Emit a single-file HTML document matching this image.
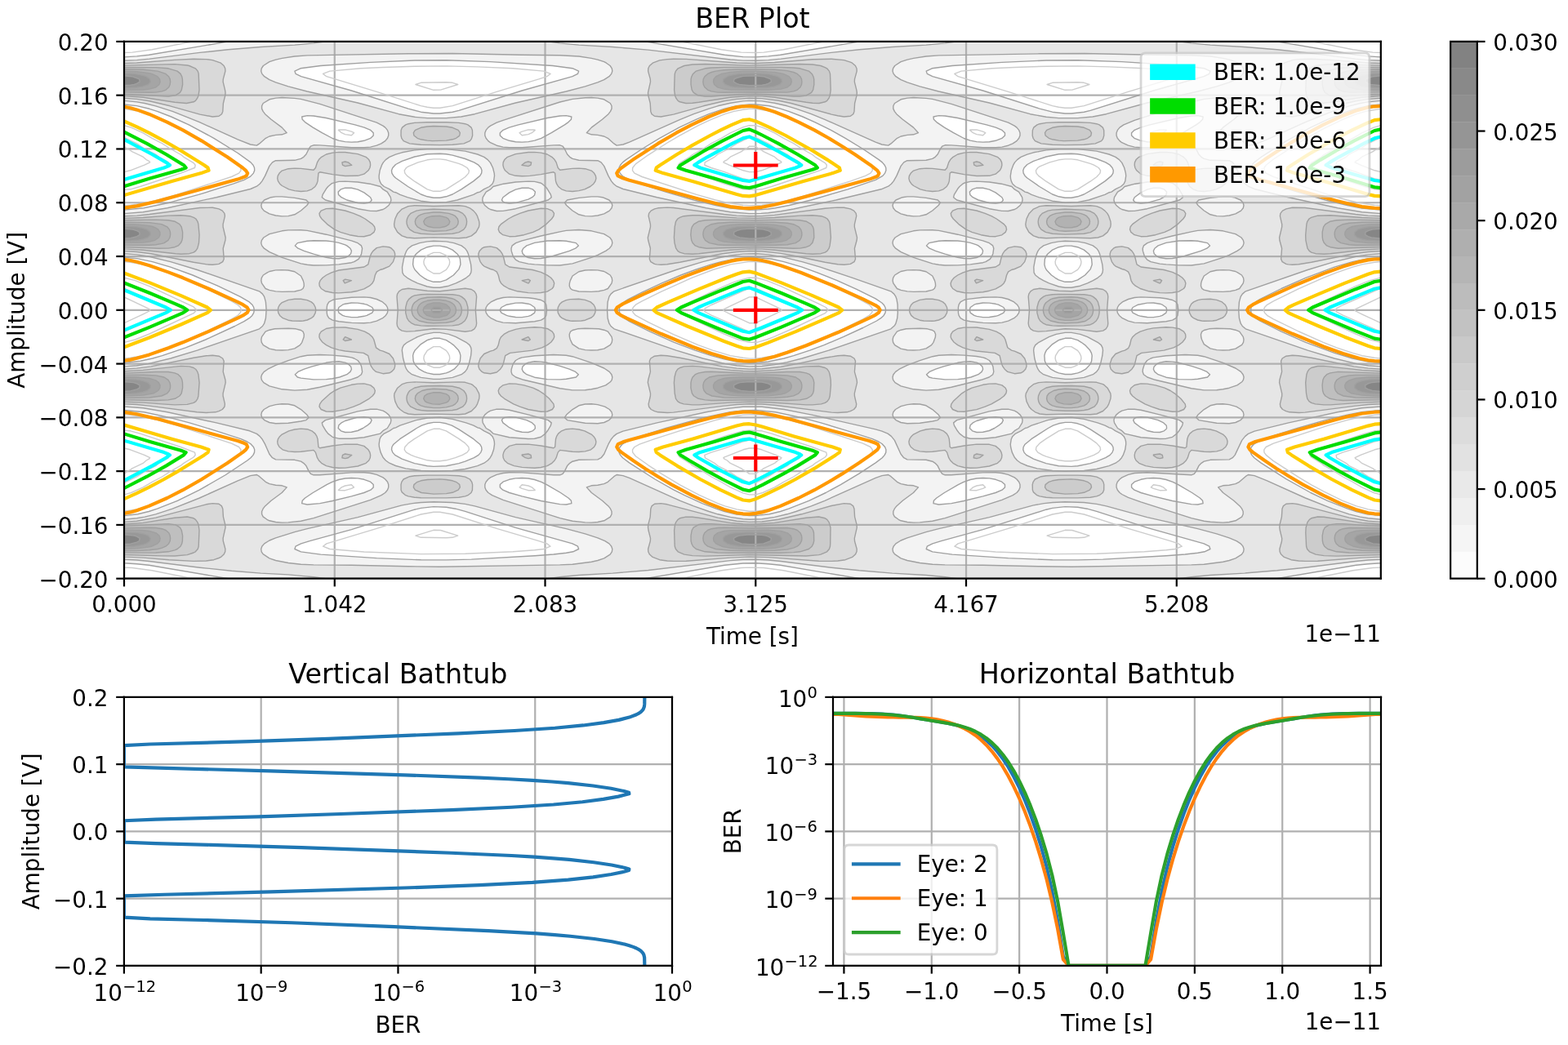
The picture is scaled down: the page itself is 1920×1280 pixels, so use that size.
<!DOCTYPE html>
<html><head><meta charset="utf-8"><title>BER Plot</title><style>html,body{margin:0;padding:0;background:#fff;overflow:hidden}svg{display:block}</style></head><body>

<svg  width="1920" height="1280" viewBox="0 0 691.2 460.8"  version="1.1">
<defs>
<style type="text/css">*{stroke-linejoin: round; stroke-linecap: butt}</style>
</defs>
<g id="figure_1">
<g id="patch_1">
<path d="M 0 460.8 L 691.2 460.8 L 691.2 0 L 0 0 z" style="fill: #ffffff"/>
</g>
<g id="axes_1">
<g id="patch_2">
<path d="M 54.72 255.13 L 608.69 255.13 L 608.69 18.32 L 54.72 18.32 z" style="fill: #ffffff"/>
</g>
<clipPath id="axc"><rect x="152.0" y="50.9" width="1538.8" height="657.8"/></clipPath>
<g transform="scale(.36)" clip-path="url(#axc)">
<rect x="152.0" y="50.9" width="1538.8" height="657.8" fill="#ffffff"/>
<g fill="#f3f3f3"><path id="f1" d="M259.6 705.4l19.9 3.3 510.5 0 97.3-16.4 22.5-2.3 15.5-.3 15.4 1 14.8 1.6 97.3 16.4 510.5 0 97.2-16.4 14.8-1.6 15.5-1 0-58.1-16.7-1.8-13.5-3.3-10.3-3.3-24.8-9.9-20.6-9.8-30.1-16.8-30.9-19.8-8.1-6.2-3-3.3-1.5-3.3-.2-3.3 1.3-3.3 2.8-3.3 8.7-5 13.3-4.8 31.4-9.9 34.3-9.9 26.8-6.5 17.9-3.5 23.2-2.1 0-58.1-15.5-1.4-19.2-4-22.1-6.6-35.2-13.1-29.8-13.2-26.4-13.1-5.1-3.3-3.5-3.3-1.9-3.3-.6-3.3 .6-3.3 1.9-3.3 3.5-3.3 5.1-3.3 26.4-13.1 29.8-13.2 35.2-13.1 22.1-6.6 19.2-4 15.5-1.4 0-58.1-23.2-2.1-17.9-3.5-26.8-6.5-34.3-9.9-31.4-9.9-13.3-4.8-8.7-5-2.8-3.3-1.3-3.3 .2-3.3 1.5-3.3 3-3.3 8.1-6.2 30.9-19.8 30.1-16.8 20.6-9.8 24.8-9.9 10.3-3.3 13.5-3.3 16.7-1.8 0-58.1-15.5-1-14.8-1.6-97.2-16.4-510.5 0-97.3 16.4-14.8 1.6-15.4 1-15.5-.3-22.5-2.3-97.3-16.4-510.5 0-97.2 16.4-14.8 1.6-15.5 1 0 58.1 15.5 1.6 15.4 3.7 9.6 3.1 17.1 6.6 21.7 9.9 30.6 16.4 29.3 18.2 15.8 11.4 3 3.3 1.5 3.3 .2 3.3-1.3 3.3-3.7 4-7.8 4.3-13.3 4.8-42.4 13.2-36 9.8-31 6.6-24.2 2.3 0 58.1 15.5 1.4 19.2 4 22.1 6.6 27.1 9.8 30.7 13.2 27.5 13.2 11.2 6.5 3.5 3.3 1.9 3.3 .6 3.3-.6 3.3-1.9 3.3-3.5 3.3-6.4 4-11.4 5.8-35.7 16.5-24.4 9.8-28.8 9.9-11.9 3.3-14.9 3.3-19.8 2.1 0 58.1 24.2 2.3 31 6.6 24.7 6.5 33 9.9 30.1 9.9 7.5 3.3 4.2 2.5 3.7 4 1.3 3.3-.2 3.3-1.5 3.3-3 3.3-4.1 3.3-27.2 18-31.5 18.2-26.9 13.1-24.8 9.9-10.3 3.3-13.5 3.3-16.7 1.8 0 58.1 15.5 1 14.8 1.6zM515.4 685.8l-54.1-2.2-68.6-4.5-24.2-3.2-7.6-3.4 1.1-3.3 6.7-3.3 10.6-3.2 51.1-14.1 77.3-24.4 7.7-1.8 15.5-1.8 15.5 .7 11.3 1.9 11.9 3.2 61.8 19.9 69.5 19.6 6.6 3.3 1.1 3.3-7 3.3-8.3 1.5-15.5 1.7-23.2 1.7-77.3 4.4-30.9 .8zM902.1 630l-14.8-3.5-10.2-3.3-17.2-6.6-21.7-9.9-13.5-6.8-22.7-12.9-31.4-20.1-8.1-6.2-2.9-3.3-1.6-3.3-.1-3.3 1.3-3.3 2.7-3.3 8.7-5 13.4-4.8 31.3-9.9 47-13.1 32-6.8 15.5-1.7 15.5-.4 24.2 2.3 31 6.6 24.6 6.5 33 9.9 30.2 9.9 7.5 3.3 4.1 2.5 3.7 4 1.3 3.3-.1 3.3-1.6 3.3-2.9 3.3-8.1 6.2-20.7 13.5-22.1 13.2-18.2 9.9-20.7 9.8-24.8 9.9-10.2 3.3-13.5 3.3-16.7 1.8-7.8 0zM1288.7 685.8l-54.1-2.2-68.6-4.5-24.2-3.2-7.6-3.4 1.1-3.3 6.6-3.3 10.6-3.2 51.1-14.1 77.4-24.4 7.7-1.8 15.5-1.8 15.4 .7 11.4 1.9 11.8 3.2 61.9 19.9 69.4 19.6 6.7 3.3 1.1 3.3-7 3.3-8.3 1.5-15.5 1.7-23.2 1.7-77.3 4.4-31 .8zM368.5 463.1l-4.2-1.1-3-3.3 3.6-3.3 7.5-3.2 9.9-3.3 17.1-4.6 7.8-1.2 7.7-.3 7.7 1.3 3.4 1.5 3.6 3.3 .8 3.3-1.5 3.2-4.2 3.3-9 3.3-8.5 1.7-7.8 .9-15.4 .3zM376.2 618l-6.5-1.4 .5-3.3 3.3-3.3 9.7-6.5 16.9-9.9 6.6-3.3 8.2-2.8 7.7-1.5 7.8-.5 7.7 .4 7.7 1.4 7.8 2.9 3.6 3.4 0 3.3-3.4 3.3-8 3.3-15.4 4.4-23.2 5.6-15.5 3.1zM523.2 570.8l-15.5-3.2-15.5-5.4-8.6-4.8-2.8-3.3-1.3-3.3 .4-3.3 2-3.3 7.8-6.5 20.4-13.2 6.3-3.3 6.8-2.4 7.7-1.4 7.7 0 7.8 1.4 6.8 2.4 8.6 4.7 18 11.8 7.9 6.5 1.9 3.3 .4 3.3-1.2 3.3-2.9 3.3-5.4 3.3-10.9 4.4-7.8 2.5-15.4 3.2-15.5 .6zM685.6 617.6l-23.2-4.1-23.2-5.6-15.5-4.4-7.9-3.3-3.5-3.3 0-3.3 3.7-3.4 7.7-2.9 7.7-1.4 7.8-.4 7.7 .5 7.7 1.5 8.2 2.8 6.6 3.3 17 9.9 9.6 6.5 3.4 3.3 .4 3.3-6.5 1.4zM902.1 443l-15.5-3.1-15.6-4.2-19.8-6.6-25.7-9.8-29.7-13.2-25.2-12.4-7.7-5.1-2.2-2.2-1.9-3.3-.6-3.3 .6-3.3 1.9-3.3 3.5-3.3 5.1-3.3 16.8-8.5 24.1-11.2 23.5-9.9 17.5-6.5 19.8-6.6 11.9-3.3 19.2-4 15.4-1.4 7.8 0 19.8 2.1 14.8 3.3 22.2 6.6 18.5 6.6 24.5 9.8 23.9 10.8 23.2 11.5 7.7 5.1 2.2 2.2 1.9 3.3 .6 3.3-.6 3.3-1.9 3.3-3.5 3.3-5.1 3.3-16.8 8.5-24.1 11.2-23.5 9.9-17.5 6.5-19.8 6.6-11.9 3.3-19.2 4-15.4 1.4-7.8 0zM1141.8 463.1l-4.3-1.1-3-3.3 3.6-3.3 7.5-3.2 9.9-3.3 17.2-4.6 7.7-1.2 7.8-.3 7.7 1.3 3.3 1.5 3.6 3.3 .8 3.3-1.5 3.2-4.2 3.3-9 3.3-8.5 1.7-7.7 .9-15.5 .3zM1149.5 618l-6.5-1.4 .4-3.3 3.4-3.3 9.6-6.5 17-9.9 6.6-3.3 8.2-2.8 7.7-1.5 7.7-.5 7.8 .4 7.7 1.4 7.7 2.9 3.7 3.4 0 3.3-3.5 3.3-7.9 3.3-15.5 4.4-23.2 5.6-15.4 3.1zM1296.4 570.8l-15.4-3.2-15.5-5.4-8.6-4.8-2.9-3.3-1.2-3.3 .4-3.3 1.9-3.3 7.9-6.5 20.4-13.2 6.2-3.3 6.8-2.4 7.8-1.4 7.7 0 7.7 1.4 6.8 2.4 8.7 4.7 18 11.8 7.8 6.5 2 3.3 .4 3.3-1.3 3.3-2.8 3.3-5.4 3.3-11 4.4-7.7 2.5-15.5 3.2-7.7 .6zM1458.8 617.6l-23.2-4.1-23.2-5.6-15.4-4.4-8-3.3-3.4-3.3 0-3.3 3.6-3.4 7.8-2.9 7.7-1.4 7.7-.4 7.8 .5 7.7 1.5 8.2 2.8 6.6 3.3 16.9 9.9 9.7 6.5 3.3 3.3 .5 3.3-6.5 1.4zM399.4 315.3l-15.4-4.1-11.6-3.8-7.5-3.2-3.6-3.3 3-3.3 11.9-2.3 7.8-.6 15.4 .3 7.8 .9 7.7 1.5 7.7 2.5 2.1 1 4.2 3.3 1.5 3.2-.8 3.3-3.6 3.3-3.4 1.5-7.7 1.3-7.7-.3zM422.6 387.4l-3-1-4.7-3.3-.9-3.3 .9-3.3 4.7-3.3 3-1 7.8-1.2 7.7 .1 7.7 1.2 3.4 .9 6.5 3.3 1.8 3.3-1.8 3.3-6.5 3.3-3.4 .9-7.7 1.2-7.7 .1zM422.6 529.5l-5.1-1.7-3.3-3.3 .7-3.8 3.1-2.8 4.6-2.4 14.4-4.1 8.8-.8 5.6 .8 2.2 1 1.5 2.2-1.5 3.3-4 3.3-5.2 3.3-6.3 3-7.7 1.8zM523.2 456.9l-4-1.5-5.8-3.2-5.7-6.1-1.5-3.8-.6-6.6 .8-3.3 1.7-3.3 7.3-7.5 7.8-4.9 1.9-.7 5.8-1.7 7.7 0 7.8 2.4 4.3 2.6 4.6 3.3 6.2 6.5 1.6 3.3 .8 3.3-.5 6.6-1.6 3.8-5.7 6.1-5.8 3.2-3.9 1.5-7.8 1.6-7.7 0zM639.2 529.3l-7.8-1.8-7.7-3.8-7.8-5.8-1.5-3.3 1.6-2.2 2.1-1 5.6-.8 7.7 .5 13.4 3.5 6.8 3.3 3.4 3.3 .4 3.3-.8 1.2-2.5 2.1-5.2 1.7zM894.3 255l-17.9-3.5-26.8-6.5-34.3-9.9-37-11.8-7.7-2.9-7.7-4.3-3.7-4-1.3-3.3 .1-3.3 1.6-3.3 2.9-3.3 4.1-3.3 19.5-13.1 21.5-13.2 24-13.2 20.7-9.8 15.8-6.6 19.2-6.6 14.8-3.5 15.4-1.6 7.8 0 16.7 1.8 13.5 3.3 10.2 3.3 17.2 6.6 14.8 6.6 19.8 9.8 17.7 9.9 21.5 13.2 19.5 13.1 4.1 3.3 2.9 3.3 1.6 3.3 .1 3.3-1.3 3.3-2.7 3.3-8.7 5-34.1 11.4-44.9 13.2-26.8 6.5-16.9 3.3-8.8 1.2-15.4 1.1-7.8 0zM1172.7 315.3l-15.5-4.1-11.6-3.8-7.5-3.2-3.6-3.3 3-3.3 12-2.3 7.7-.6 15.5 .3 7.7 .9 7.8 1.5 7.7 2.5 2 1 4.2 3.3 1.5 3.2-.8 3.3-3.6 3.3-3.3 1.5-7.7 1.3-7.8-.3zM1195.9 387.4l-3-1-4.7-3.3-.9-3.3 .9-3.3 4.7-3.3 3-1 7.7-1.2 7.8 .1 7.7 1.2 3.3 .9 6.5 3.3 1.8 3.3-1.8 3.3-6.5 3.3-3.3 .9-7.7 1.2-7.8 .1zM1195.9 529.5l-5.2-1.7-3.3-3.3 .8-3.8 3-2.8 4.7-2.4 14.3-4.1 8.9-.8 5.6 .8 2.1 1 1.6 2.2-1.5 3.3-4 3.3-5.2 3.3-6.3 3-7.8 1.8zM1296.4 456.9l-3.9-1.5-5.8-3.2-5.7-6.1-1.6-3.8-.5-6.6 .8-3.3 1.6-3.3 7.4-7.5 7.7-4.9 2-.7 5.8-1.7 7.7 0 7.7 2.4 4.4 2.6 4.6 3.3 6.1 6.5 1.7 3.3 .8 3.3-.6 6.6-1.5 3.8-5.7 6.1-5.8 3.2-4 1.5-7.7 1.6-7.7 0zM1412.4 529.3l-7.7-1.8-7.7-3.8-7.8-5.8-1.5-3.3 1.5-2.2 2.2-1 5.6-.8 7.7 .5 13.4 3.5 6.7 3.3 3.5 3.3 .3 3.3-.7 1.2-2.6 2.1-5.1 1.7zM438.1 248.5l-13.4-3.5-6.7-3.3-3.5-3.3-.3-3.3 3.3-3.3 5.1-1.7 7.8 .2 7.7 1.8 7.7 3.8 7.8 5.8 1.5 3.3-1.5 2.2-2.2 1-5.6 .8zM530.9 345.3l-7.7-2.4-4.4-2.6-4.6-3.3-6.1-6.5-1.7-3.3-.8-3.3 .6-6.6 1.5-3.8 2.2-2.8 5.5-4.6 7.8-3.4 7.7-1.6 7.7 0 7.8 1.6 7.7 3.4 5.5 4.6 2.5 3.3 1.3 3.3 .5 6.6-2.1 6-6.5 7.1-8.9 5.9-7.8 2.4zM623.7 387.3l-3.3-.9-6.5-3.3-1.8-3.3 1.8-3.3 6.5-3.3 11-2.1 7.8-.1 7.7 1.2 3 1 4.7 3.3 .9 3.3-.9 3.3-4.7 3.3-3 1-7.7 1.2-7.8-.1zM654.6 462.2l-9.7-3.5-4.2-3.3-1.5-3.2 .8-3.3 3.6-3.3 3.3-1.5 7.7-1.3 7.8 .3 7.7 1.2 15.5 4.1 11.6 3.8 7.5 3.2 3.6 3.3-3 3.3-12 2.3-7.7 .6-15.5-.3zM1211.4 248.5l-13.4-3.5-6.8-3.3-3.4-3.3-.4-3.3 3.3-3.3 5.2-1.7 7.7 .2 7.8 1.8 7.7 3.8 7.8 5.8 1.5 3.3-1.6 2.2-2.1 1-5.6 .8zM1304.2 345.3l-7.8-2.4-4.3-2.6-4.6-3.3-6.2-6.5-1.6-3.3-.8-3.3 .5-6.6 1.6-3.8 2.2-2.8 5.5-4.6 7.7-3.4 7.8-1.6 7.7 0 7.7 1.6 7.8 3.4 5.5 4.6 2.5 3.3 1.2 3.3 .6 6.6-2.1 6-6.5 7.1-9 5.9-7.7 2.4zM1397 387.3l-3.4-.9-6.5-3.3-1.8-3.3 1.8-3.3 6.5-3.3 11.1-2.1 7.7-.1 7.8 1.2 3 1 4.7 3.3 .9 3.3-.9 3.3-4.7 3.3-3 1-7.8 1.2-7.7-.1zM1427.9 462.2l-9.8-3.5-4.2-3.3-1.5-3.2 .8-3.3 3.6-3.3 3.4-1.5 7.7-1.3 7.7 .3 7.8 1.2 15.4 4.1 11.6 3.8 7.5 3.2 3.6 3.3-3 3.3-11.9 2.3-7.8 .6-15.4-.3zM422.6 173.6l-7.7-1.5-7.7-2.6-12.9-6.8-11.1-6.6-9.7-6.5-3.3-3.3-.5-3.3 6.5-1.4 7.8 .4 15.4 2.5 35.3 8.4 11.3 3.2 7.8 3.3 3.4 3.3 0 3.3-3.6 3.4-7.8 2.9-7.7 1.4-7.7 .4zM530.9 242.2l-7.7-1.4-7.8-2.8-15.9-9.5-15-10.5-2.6-2.6-2-3.3-.4-3.3 1.3-3.3 3.7-4 7.7-4.1 15.5-5.4 15.5-3.2 15.4-.6 7.8 .6 7.7 1.3 15.5 4.4 10.9 4.4 5.4 3.3 2.9 3.3 1.2 3.3-.4 3.3-1.9 3.3-7.9 6.5-14.9 9.9-10.8 6.2-7.7 2.8-7.8 1.4zM623.7 249l-5.6-.8-2.1-1-1.6-2.2 1.5-3.3 7.8-5.8 7.7-3.8 7.8-1.8 7.7-.2 5.2 1.7 3.3 3.3-.8 3.8-3 2.8-4.7 2.4-14.3 4.1zM646.9 315.5l-3.3-1.5-3.6-3.3-.8-3.3 1.5-3.2 4.2-3.3 9.7-3.5 15.5-2.4 15.5-.3 7.7 .6 12 2.3 3 3.3-3.6 3.3-7.5 3.2-21.5 6.6-13.3 2.5-7.8 .3zM1195.9 173.6l-7.7-1.5-7.8-2.6-12.8-6.8-11.2-6.6-9.6-6.5-3.4-3.3-.4-3.3 6.5-1.4 7.7 .4 15.5 2.5 35.3 8.4 11.3 3.2 7.7 3.3 3.5 3.3 0 3.3-3.7 3.4-7.7 2.9-7.7 1.4-7.8 .4zM1304.2 242.2l-7.8-1.4-7.7-2.8-15.9-9.5-15-10.5-2.7-2.6-1.9-3.3-.4-3.3 1.2-3.3 3.8-4 7.7-4.1 15.5-5.4 15.4-3.2 15.5-.6 7.7 .6 7.8 1.3 15.4 4.4 11 4.4 5.4 3.3 2.8 3.3 1.3 3.3-.4 3.3-2 3.3-7.8 6.5-15 9.9-10.7 6.2-7.8 2.8-7.7 1.4zM1397 249l-5.6-.8-2.2-1-1.5-2.2 1.5-3.3 7.8-5.8 7.7-3.8 7.7-1.8 7.8-.2 5.1 1.7 3.3 3.3-.7 3.8-3.1 2.8-4.6 2.4-14.4 4.1zM1420.2 315.5l-3.4-1.5-3.6-3.3-.8-3.3 1.5-3.2 4.2-3.3 9.8-3.5 15.5-2.4 15.4-.3 7.8 .6 11.9 2.3 3 3.3-3.6 3.3-7.5 3.2-21.5 6.6-13.3 2.5-7.7 .3zM515.4 137.2l-15.5-4.1-69.5-22.1-61.7-17.3-6.7-3.3-1.1-3.3 7-3.3 24.8-3.3 60.9-4.1 54.1-2.4 38.7-.3 54.1 1.9 76.3 4.9 24.2 3.2 7.6 3.4-1.1 3.3-6.6 3.3-61.7 17.3-77.4 24.4-7.7 1.8-15.5 1.8-7.7 0zM631.4 173.7l-7.7-1.4-7.9-3-3.5-3.3 0-3.3 3.7-3.4 7.5-3.2 11.3-3.2 35.3-8.4 15.5-2.5 7.7-.4 6.5 1.4-.4 3.3-3.4 3.3-4.6 3.3-16.2 9.8-12.4 6.6-8.2 2.8-7.7 1.5-7.7 .5zM1288.7 137.2l-15.6-4.1-69.5-22.1-61.7-17.3-6.6-3.3-1.1-3.3 7-3.3 24.8-3.3 60.8-4.1 54.2-2.4 38.6-.3 54.2 1.9 76.3 4.9 24.2 3.2 7.6 3.4-1.1 3.3-6.7 3.3-61.7 17.3-77.3 24.4-7.7 1.8-15.5 1.8-7.7 0zM1404.7 173.7l-7.7-1.4-8-3-3.4-3.3 0-3.3 3.6-3.4 7.6-3.2 11.3-3.2 35.3-8.4 15.4-2.5 7.8-.4 6.5 1.4-.5 3.3-3.3 3.3-4.6 3.3-16.2 9.8-12.4 6.6-8.2 2.8-7.7 1.5-7.8 .5z"/></g>
<g fill="#e6e6e6"><path id="f2" d="M368.8 705.4l15.2 1.3 14.6 2 272.4 0 14.6-2 23.2-2.2 41.5-2.4 43.5-3.6 100.5-11.9 15.5-1.1 15.5-.2 15.4 .7 15.5 1.5 61.9 7.7 34.2 3.6 40.2 3.3 41.5 2.4 23.2 2.2 14.6 2 272.4 0 14.6-2 23.2-2.2 41.5-2.4 40.2-3.3 34.3-3.6 61.9-7.7 15.4-1.5 15.5-.7 0-49.1-15.5-1.5-9.7-1.6-13.4-3.3-20.6-6.6-33.1-13.2-46.9-21.2-15.5-6.2-7.7-1.1-3.3 2.2-7.6 6.6-4.6 2.3-7.7 1.6-7.7 .6-5.9 2.1 6 6.6 13.2 9.8 7.4 6.6 2.5 3.3 1.5 3.3 0 3.3-1.6 3.3-7.7 4.7-7.7 1.7-7.7 .6-15.5-.9-7.7-1-15.5-3.6-61.8-19.8-15.5-5.4-7.7-3.9-2.7-2-2.7-3.3-1.3-3.3 0-3.3 1.2-3.3 2.8-3.3 2.7-2.1 7.7-3.5 7.7-1.9 15.5-.8 54.1 3.1 3.6-1.4 2.3-3.3 3.2-6.5 3.1-3.3 3.3-2.1 7.7-1.9 23.2-.4 4.1-2.2 2.9-3.3 8.5-18 4-5 3.7-3 7.7-3.3 41.7-10.2 60.1-13.1 29.7-5 23.2-1.8 0-49.1-15.5-1.2-13.8-2.1-27.6-6.6-32.6-9.9-76.1-26.3-3.9-3.3-2.1-3.3-1.8-6.5-.7-9.9 .7-9.9 1.8-6.5 2.1-3.3 3.9-3.3 76.1-26.3 32.6-9.9 27.6-6.6 13.8-2.1 15.5-1.2 0-49.1-23.2-1.8-29.7-5-60.1-13.1-40.7-9.9-8.7-3.6-3.7-3-2.8-3.3-3.7-6.5-5.3-12-3.6-4.5-4.1-2.2-23.2-.4-7.7-1.9-3.3-2.1-3.1-3.3-3.2-6.5-2.3-3.3-3.6-1.4-7.7 .1-38.7 2.8-15.4 .1-7.8-.7-7.7-1.9-7.7-3.5-2.7-2.1-2.8-3.3-1.2-3.3 0-3.3 1.3-3.3 2.7-3.3 4.8-3.2 13.3-5.6 69.6-22.3 15.5-3.6 15.5-1.7 7.7-.2 7.7 .6 7.7 1.7 3 1.5 4.8 3.4 1.5 3.1 0 3.3-1.5 3.3-2.5 3.3-7.4 6.6-13.2 9.8-6 6.6 5.9 2.1 7.7 .6 7.7 1.6 4.6 2.3 7.6 6.6 3.3 2.2 7.7-1.1 15.5-6.2 46.9-21.2 33.1-13.2 20.6-6.6 13.4-3.3 9.7-1.6 15.5-1.5 0-49.1-15.5-.7-15.4-1.5-61.9-7.7-34.3-3.6-40.2-3.3-41.5-2.4-23.2-2.2-14.6-2-272.4 0-14.6 2-23.2 2.2-41.5 2.4-40.2 3.3-34.2 3.6-61.9 7.7-15.5 1.5-15.4 .7-15.5-.2-15.5-1.1-100.5-11.9-43.5-3.6-41.5-2.4-23.2-2.2-14.6-2-272.4 0-14.6 2-23.2 2.2-41.5 2.4-40.2 3.3-34.3 3.6-61.9 7.7-15.4 1.5-15.5 .7 0 49.1 15.5 1.5 9.7 1.6 13.4 3.3 20.6 6.6 33.1 13.2 46.9 21.2 15.5 6.2 7.7 1.1 3.3-2.2 7.6-6.6 4.6-2.3 7.7-1.6 7.7-.6 5.9-2.1-6-6.6-13.2-9.8-7.4-6.6-2.5-3.3-1.5-3.3 0-3.3 1.6-3.3 7.7-4.7 7.7-1.7 7.7-.6 15.5 .9 7.7 1 23.2 5.9 69.6 22.9 7.7 3.9 2.7 2 2.7 3.3 1.3 3.3 0 3.3-1.2 3.3-2.8 3.3-4.9 3.3-5.5 2.3-7.7 1.9-7.8 .7-15.4-.1-38.7-2.8-7.7-.1-3.6 1.4-2.3 3.3-3.2 6.5-3.1 3.3-3.3 2.1-7.7 1.9-23.2 .4-4.1 2.2-3.6 4.5-5.3 12-3.7 6.5-2.8 3.3-3.7 3-7.7 3.3-41.7 10.2-60.1 13.1-29.7 5-23.2 1.8 0 49.1 15.5 1.2 13.8 2.1 27.6 6.6 32.6 9.9 76.1 26.3 3.9 3.3 2.1 3.3 1.8 6.5 .7 9.9-.7 9.9-1.8 6.5-2.1 3.3-3.9 3.3-76.1 26.3-32.6 9.9-27.6 6.6-13.8 2.1-15.5 1.2 0 49.1 23.2 1.8 29.7 5 60.1 13.1 40.7 9.9 8.7 3.6 3.7 3 2.8 3.3 3.7 6.5 5.3 12 3.6 4.5 4.1 2.2 23.2 .4 7.7 1.9 3.3 2.1 3.1 3.3 3.2 6.5 2.3 3.3 3.6 1.4 7.7-.1 38.7-2.8 15.4-.1 7.8 .7 7.7 1.9 7.7 3.5 2.7 2.1 2.8 3.3 1.2 3.3 0 3.3-1.3 3.3-2.7 3.3-4.8 3.2-13.3 5.6-69.6 22.3-15.5 3.6-15.5 1.7-7.7 .2-7.7-.6-7.7-1.7-3-1.5-4.8-3.4-1.5-3.1 0-3.3 1.5-3.3 2.5-3.3 7.4-6.6 13.2-9.8 6-6.6-5.9-2.1-7.7-.6-7.7-1.6-4.6-2.3-7.6-6.6-3.3-2.2-7.7 1.1-15.5 6.2-46.9 21.2-33.1 13.2-20.6 6.6-13.4 3.3-9.7 1.6-15.5 1.5 0 49.1 15.5 .7 15.4 1.5 61.9 7.7 38.7 4 35.8 2.9 33.7 1.8zM430.4 692.3l-46.4-.4-15.5-.6-15.5-1.8-15.4-3-7.7-2.6-7.8-5.2-1.9-2.9-.5-3.3 1.1-3.3 2.9-3.3 6.2-3.9 7.7-3.2 23.2-7.2 15.4-4 61.9-14 54.1-14.7 12.7-2.3 10.5-1.1 15.5-.7 23.2 .7 15.5 1.9 11.7 2.5 50.1 13.7 61.9 14 23.2 6.2 15.4 5 8.9 3.9 5.1 3.2 1.5 1.7 1.3 1.6 1.1 3.3-.5 3.3-2.2 3.3-7.4 4.8-7.8 2.6-7.7 1.7-23.2 3.1-15.4 .6-147 2.3-38.6-.4zM1203.6 692.3l-46.4-.4-15.4-.6-15.5-1.8-15.4-3-7.8-2.6-7.7-5.2-1.9-2.9-.5-3.3 1.1-3.3 2.8-3.3 6.2-3.9 7.8-3.2 23.1-7.2 15.5-4 61.9-14 54.1-14.7 12.7-2.3 10.5-1.1 15.5-.7 23.2 .7 15.4 1.9 11.8 2.5 50.1 13.7 61.9 14 23.2 6.2 15.4 5 8.9 3.9 5 3.2 1.6 1.7 1.3 1.6 1.1 3.3-.5 3.3-2.2 3.3-7.5 4.8-7.7 2.6-7.7 1.7-23.2 3.1-15.5 .6-146.9 2.3-38.7-.4zM1397 535.7l-19.9-4.6-3.3-3.4-5.3-3.2-4-6.6-.6-3.3 .8-3.2 2.1-3.3 4-3.3 3-1.7 7.7-2 7.7 .1 7.8 1.1 23.8 5.8 23.6 6.5 4.1 3.3-.8 3.3-4 6.6-2.6 3.3-5.5 4.2-7.7 1.9-7.7 .3zM1458.8 475.7l-44.3-10.4-9.6-3.3-4.5-3.3-1.2-3.3 .2-3.2 2.1-6.6 3.2-4.1 4.4-2.5 3.3-1.1 15.5-2.2 23.2-1.2 15.5 .8 7.7 1.4 23.2 7.6 15.4 6.7 6.6 4.4 2.6 3.3 1 3.3-.7 3.3-1.7 2.5-5.8 4.1-9.7 3.3-7.7 1.6-7.7 .9-15.5 .2zM1489.8 518.2l-21.9-3.6-3.2-3.2 2.2-3.3 7.4-6.5 7.7-4.8 7.8-1.8 7.7-.3 7.7 .9 8.8 2.6 5.6 3.3 2.7 3.3 .7 3.3-.9 3.3-3 3.2-6.2 2.9-7.7 1.2zM337.6 518.7l-7.7-1.2-6.2-2.9-3-3.2-.9-3.3 .7-3.3 2.7-3.3 6.7-3.8 7.7-2.1 7.7-.9 7.7 .3 7.8 1.8 7.7 4.8 7.4 6.5 2.2 3.3-3.2 3.2-6.4 1.4-15.5 2.2zM407.2 535.3l-5.5-4.2-2.6-3.3-4-6.6-.8-3.3 4.1-3.3 39.7-10.7 15.5-2.7 7.7-.1 7.7 2 3 1.7 4 3.3 2.1 3.3 .8 3.2-.6 3.3-4 6.6-5.3 3.2-3.3 3.4-19.9 4.6-15.4 1.6-15.5-.1zM530.9 577.3l-15.5-.8-18.6-2.6-12.3-3.4-7.7-3.3-4.5-3.2-3.3-3.8-2.9-6.1-1.7-6.6-.3-3.3 .9-6.5 1.7-3.3 3.6-3.3 6.5-3.2 5.1-3.4 2.6-.6 5.3-2.7 19.8-6.6 13.6-2.6 15.4-.7 15.5 2.1 16.6 4.5 9.1 3.3 5.2 2.7 2.6 .6 5.2 3.4 6.5 3.2 3.6 3.3 1.6 3.3 .8 3.3 .2 3.2-1 6.6-2.4 6.6-1.9 3.3-3 3.3-4.4 3.2-8.1 3.4-15.1 3.9-15.5 2zM716.5 639.9l-15.5-1.7-15.4-3.6-69.6-22.3-13.4-5.6-4.8-3.2-2.7-3.3-1.3-3.3 0-3.3 1.3-3.3 2.7-3.3 2.7-2.1 7.7-3.5 7.8-1.9 7.7-.7 15.5 .1 38.6 2.8 7.8 .1 3.5-1.4 2.3-3.3 3.2-6.5 3.1-3.3 3.3-2.1 7.8-1.9 23.1-.4 4.2-2.2 3.6-4.5 5.2-12 3.7-6.5 2.8-3.3 3.7-3 7.8-3.3 41.6-10.2 60.1-13.1 22-3.9 23.2-2.6 23.2 0 27.2 3.2 33.8 6.6 78.2 17.8 7.7 2.2 7.2 3 4.3 3.3 4 5 7.7 16.8 3.6 4.5 4.2 2.2 23.1 .4 7.8 1.9 3.3 2.1 3.1 3.3 3.2 6.5 2.3 3.3 3.5 1.4 7.8-.1 38.6-2.8 15.5-.1 7.7 .7 7.8 1.9 7.7 3.5 2.7 2.1 2.7 3.3 1.3 3.3 0 3.3-1.3 3.3-2.7 3.3-4.8 3.2-13.4 5.6-69.6 22.3-15.4 3.6-15.5 1.7-7.7 .2-7.7-.6-7.8-1.7-2.9-1.5-4.8-3.4-1.6-3.1 0-3.3 1.5-3.3 2.5-3.3 7.5-6.6 13.2-9.8 6-6.6-5.9-2.1-7.7-.6-7.8-1.6-4.6-2.3-7.5-6.6-3.3-2.2-7.8 1.1-7.7 2.8-62.3 27.9-16.5 6.6-18.7 6.6-10.8 3.3-15.4 3.6-15.5 2.3-15.5 .5-7.7-.5-15.5-2.3-15.4-3.6-10.8-3.3-18.7-6.6-16.5-6.6-62.3-27.9-7.7-2.8-7.8-1.1-3.3 2.2-7.5 6.6-4.6 2.3-7.8 1.6-7.7 .6-5.9 2.1 6 6.6 13.2 9.8 7.5 6.6 2.5 3.3 1.5 3.3 0 3.3-1.7 3.3-7.6 4.7-7.8 1.7-7.7 .6zM1304.2 577.3l-15.5-.8-18.7-2.6-12.2-3.4-7.8-3.3-4.4-3.2-3.3-3.8-3-6.1-1.7-6.6-.3-3.3 1-6.5 1.6-3.3 3.6-3.3 6.5-3.2 5.2-3.4 2.6-.6 5.2-2.7 19.8-6.6 13.6-2.6 15.5-.7 15.5 2.1 16.6 4.5 9 3.3 5.3 2.7 2.6 .6 5.1 3.4 6.5 3.2 3.6 3.3 1.7 3.3 .8 3.3 .1 3.2-1 6.6-2.4 6.6-1.9 3.3-2.9 3.3-4.5 3.2-8 3.4-15.2 3.9-15.4 2zM1381.5 393.1l-7.2-3.4-3.8-3.3-2.1-3.3-.6-3.3 .6-3.3 2.1-3.3 3.8-3.3 7.2-3.4 7.7-2 7.8-.6 23.2 .9 7.7 1 7.7 1.7 4.4 2.4 2 3.3 .8 6.6-.8 6.6-2 3.3-4.4 2.4-7.7 1.7-23.2 1.9-15.5-.6zM1482 426.9l-7.7-5.3-2.7-5.6-.9-3.3-.2-3.3 1.3-3.3 2.5-1.6 6.2-1.7 9.3-.6 16.6 .6 6.5 1.4 4.8 1.9 4.6 6.6 .7 3.3-.5 3.3-1.8 3-7.8 4.8-7.7 1.6-7.7 .3-7.7-.4zM345.3 476.8l-15.4-3.9-7.1-4.3-2.4-3.3-.7-3.3 1-3.3 2.6-3.3 4.6-3.2 9.7-4.9 15.4-5.7 15.5-4.9 7.7-1.4 15.5-.8 15.5 .6 15.4 1.4 7.8 1.4 3.3 1.1 4.4 2.5 3.2 4.1 1.3 3.3 1 6.5-1.2 3.3-4.5 3.3-9.6 3.3-36.6 8.9-15.5 3-15.4 .9zM515.4 462.4l-10.9-3.7-4.5-3.4-2.3-3.1-1.4-3.3-2.7-9.9-1.3-9.9 .5-3.3 1.7-3.2 4.2-3.3 12.5-6.6 8.9-3.3 10.8-2 7.7 0 10.9 2 8.8 3.3 12.5 6.6 4.2 3.3 1.7 3.2 .5 3.3-.6 6.6-2.3 9.9-2.5 6.6-2.4 3.2-4.4 3.3-10.9 3.7-15.5 2-7.7 0zM623.7 535.7l-19.8-4.6-3.4-3.4-5.3-3.2-4-6.6-.5-3.3 .8-3.2 2.1-3.3 3.9-3.3 3-1.7 7.7-2 7.8 .1 7.7 1.1 23.9 5.8 23.6 6.5 4 3.3-.8 3.3-4 6.6-2.6 3.3-5.4 4.2-7.8 1.9-7.7 .3zM685.6 475.7l-44.4-10.4-9.6-3.3-4.5-3.3-1.1-3.3 .2-3.2 2.1-6.6 3.1-4.1 4.4-2.5 3.4-1.1 15.4-2.2 23.2-1.2 15.5 .8 7.7 1.4 23.2 7.6 15.5 6.7 6.5 4.4 2.7 3.3 .9 3.3-.6 3.3-1.8 2.5-5.7 4.1-9.8 3.3-7.7 1.6-7.7 .9-15.5 .2zM716.5 518.2l-21.9-3.6-3.2-3.2 2.2-3.3 7.4-6.5 7.8-4.8 7.7-1.8 7.7-.3 7.7 .9 8.8 2.6 5.6 3.3 2.7 3.3 .8 3.3-1 3.3-3 3.2-6.1 2.9-7.8 1.2zM917.5 448.9l-15.4-1.2-13.8-2.1-27.7-6.6-32.6-9.9-76.1-26.3-3.9-3.3-2.1-3.3-1.8-6.5-.6-9.9 .6-9.9 1.8-6.5 2.1-3.3 3.9-3.3 76.1-26.3 32.6-9.9 18.3-4.6 15.4-3 15.5-1.9 15.5-.4 15.4 1.2 15.5 2.5 26 6.2 22.2 6.6 39.6 13.1 46.9 16.5 3.9 3.3 2.1 3.3 1.1 3.2 1.1 6.6 .2 9.9-.6 6.6-1.8 6.5-1.5 2.6-4.5 4-76.1 26.3-32.6 9.9-18.3 4.6-15.4 3-15.5 1.9zM1110.9 518.7l-7.8-1.2-6.1-2.9-3-3.2-1-3.3 .8-3.3 2.7-3.3 6.6-3.8 7.8-2.1 7.7-.9 7.7 .3 7.7 1.8 7.8 4.8 7.4 6.5 2.2 3.3-3.2 3.2-6.4 1.4-15.5 2.2zM1180.4 535.3l-5.4-4.2-2.6-3.3-4-6.6-.8-3.3 4-3.3 39.8-10.7 15.4-2.7 7.8-.1 7.7 2 3 1.7 3.9 3.3 2.1 3.3 .8 3.2-.5 3.3-4 6.6-5.3 3.2-3.4 3.4-19.8 4.6-15.5 1.6-15.4-.1zM1288.7 462.4l-10.9-3.7-4.6-3.4-2.2-3.1-1.5-3.3-2.7-9.9-1.2-9.9 .5-3.3 1.7-3.2 4.2-3.3 12.5-6.6 8.8-3.3 10.9-2 7.7 0 10.8 2 8.9 3.3 12.5 6.6 4.2 3.3 1.7 3.2 .5 3.3-.7 6.6-2.2 9.9-2.5 6.6-2.4 3.2-4.4 3.3-10.9 3.7-15.5 2-7.7 0zM1381.5 258.5l-7.7-2-3-1.7-4-3.3-2.1-3.3-.8-3.2 .6-3.3 4-6.6 5.3-3.2 3.3-3.4 12.8-3.3 14.8-2.2 15.5-.9 7.7 .3 7.7 1.9 1.6 .9 3.9 3.3 2.3 2.8 4.3 7.1 .8 3.3-4.1 3.3-39.7 10.7-15.5 2.7zM1427.9 323.9l-7.7-.8-11.1-2.5-4.4-2.5-3.2-4.1-2.1-6.6-.2-3.2 1.2-3.3 4.5-3.3 7.5-2.7 23.2-5.9 23.2-5.1 7.8-1.5 15.4-.9 15.5 1.3 15.4 3.9 7.1 4.3 2.4 3.3 .7 3.3-1 3.3-2.6 3.3-4.6 3.2-9.7 4.9-7.7 3-23.2 7.6-15.5 2.1-15.4-.1zM1482 357l-7.7-1.9-2.5-1.6-1.3-3.3 .2-3.3 .9-3.3 2.7-5.6 7.7-5.3 7.8-1.7 7.7-.4 7.7 .3 7.7 1.6 2.6 1.3 5 3.2 2 3.3 .5 3.3-.7 3.3-4.6 6.6-4.8 1.9-6.5 1.4-8.9 .6zM329.9 427.1l-7.6-4.5-2-3.3-.5-3.3 .7-3.3 4.6-6.6 4.8-1.9 6.5-1.4 16.6-.6 9.3 .6 6.2 1.7 2.5 1.6 1.3 3.3-.2 3.3-2.3 6.6-2.4 3.3-6.6 4.3-7.8 1.7-7.7 .4-7.7-.3zM376.2 324.3l-7.7-1.4-23.2-7.6-15.4-6.7-6.6-4.4-2.6-3.3-1-3.3 .7-3.3 2.4-3.3 7.1-4.3 15.4-3.9 7.7-.9 15.5-.2 7.7 .7 23.2 4.8 31 7.7 7.7 2.8 4.3 3.2 1.2 3.3-1 6.5-1.3 3.3-2.3 3.3-5.3 3.3-3.3 1.1-15.5 2.2-15.5 1-15.4 .1zM414.9 393.8l-7.7-1.7-4.4-2.4-2-3.3-.6-3.3 0-6.6 .6-3.3 2-3.3 4.4-2.4 2.8-.9 20.4-2.4 15.4-.3 7.8 .6 7.7 2 7.2 3.4 3.8 3.3 2.1 3.3 .6 3.3-.6 3.3-2.1 3.3-3.8 3.3-7.2 3.4-7.7 2-7.8 .6-15.4-.3zM523.2 351l-12-4.1-6.8-3.3-5.7-3.3-4.2-3.3-1.7-3.2-.3-6.6 1.8-9.9 2-6.6 1.4-3.3 2.4-3.2 4.4-3.3 9.2-3.3 9.5-1.7 7.7-.7 15.5 .7 9.4 1.7 9.2 3.3 4.4 3.3 2.4 3.2 1.5 3.3 3.3 13.2 .6 6.6-.5 3.3-1.7 3.2-4.2 3.3-5.7 3.3-6.8 3.3-8.8 3.3-10.9 2-7.7 0zM608.2 393.1l-7.1-3.4-3.8-3.3-2.1-3.3-.7-3.3 .7-3.3 2.1-3.3 3.8-3.3 7.1-3.4 7.8-2 7.7-.6 23.2 .9 7.7 1 7.8 1.7 4.3 2.4 2 3.3 .8 6.6-.8 6.6-2 3.3-4.3 2.4-7.8 1.7-23.2 1.9-15.4-.6zM708.8 426.9l-7.8-5.3-2.7-5.6-.9-3.3-.2-3.3 1.4-3.3 2.4-1.6 6.2-1.7 9.3-.6 16.6 .6 6.6 1.4 4.7 1.9 4.6 6.6 .7 3.3-.5 3.3-1.8 3-7.7 4.8-7.8 1.6-7.7 .3-7.7-.4zM917.5 261.6l-23.2-1.8-29.7-5-60.1-13.1-41.6-10.2-7.8-3.3-3.7-3-2.8-3.3-3.7-6.5-5.2-12-3.6-4.5-4.2-2.2-23.1-.4-7.8-1.9-3.3-2.1-3.1-3.3-3.2-6.5-2.3-3.3-3.5-1.4-7.8 .1-38.6 2.8-15.5 .1-7.7-.7-7.8-1.9-7.7-3.5-2.7-2.1-2.7-3.3-1.3-3.3 0-3.3 1.3-3.3 2.7-3.3 2.7-2 7.7-3.9 7.8-2.9 69.6-22.3 15.4-3.6 15.5-1.7 7.7-.2 7.7 .6 7.8 1.7 7.6 4.7 1.7 3.3 0 3.3-1.5 3.3-2.5 3.3-7.5 6.6-13.2 9.8-6 6.6 5.9 2.1 7.7 .6 7.8 1.6 4.6 2.3 7.5 6.6 3.3 2.2 7.8-1.1 7.7-2.8 62.3-27.9 16.5-6.6 18.7-6.6 10.8-3.3 15.4-3.6 15.5-2.3 7.7-.5 15.5 .5 15.5 2.3 15.4 3.6 10.8 3.3 18.7 6.6 16.5 6.6 62.3 27.9 7.7 2.8 7.8 1.1 3.3-2.2 7.5-6.6 4.6-2.3 7.8-1.6 7.7-.6 5.9-2.1-6-6.6-13.2-9.8-7.5-6.6-2.5-3.3-1.5-3.3 0-3.3 1.7-3.3 7.6-4.7 7.8-1.7 7.7-.6 15.4 .9 7.8 1 23.2 5.9 69.6 22.9 7.7 3.9 2.7 2 2.7 3.3 1.3 3.3 0 3.3-1.3 3.3-2.7 3.3-4.9 3.3-5.5 2.3-7.8 1.9-7.7 .7-15.5-.1-38.6-2.8-7.8-.1-3.5 1.4-2.3 3.3-3.2 6.5-3.1 3.3-3.3 2.1-7.8 1.9-23.1 .4-4.2 2.2-3.6 4.5-5.2 12-3.7 6.5-2.8 3.3-3.7 3-8.7 3.6-55.2 13.2-52.1 11-15.5 2.7-15.5 2-8.8 .7zM1118.6 476.8l-15.5-3.9-7.1-4.3-2.4-3.3-.6-3.3 .9-3.3 2.7-3.3 4.5-3.2 9.8-4.9 15.4-5.7 15.5-4.9 7.7-1.4 15.5-.8 15.4 .6 15.5 1.4 7.7 1.4 3.4 1.1 4.4 2.5 3.1 4.1 1.4 3.3 .9 6.5-1.1 3.3-4.5 3.3-9.6 3.3-36.6 8.9-15.5 3-15.5 .9zM1296.4 351l-11.9-4.1-6.8-3.3-5.7-3.3-4.2-3.3-1.7-3.2-.3-6.6 1.8-9.9 1.9-6.6 1.5-3.3 2.4-3.2 4.4-3.3 9.2-3.3 9.4-1.7 7.8-.7 15.4 .7 9.5 1.7 9.2 3.3 4.4 3.3 2.4 3.2 1.4 3.3 3.3 13.2 .7 6.6-.5 3.3-1.7 3.2-4.2 3.3-5.7 3.3-6.8 3.3-8.9 3.3-10.8 2-7.7 0zM1497.5 264.9l-7.7-.3-7.8-1.8-7.7-4.8-7.4-6.5-2.2-3.3 3.2-3.2 14.1-2.6 15.5-1.5 7.7 0 5.8 .8 8.1 3.3 3 3.2 .9 3.3-.7 3.3-2.7 3.3-6.7 3.8-7.7 2.1zM337.6 356.9l-7.7-1.5-4.8-1.9-4.6-6.6-.7-3.3 .5-3.3 2-3.3 5-3.2 2.6-1.3 7.7-1.6 7.7-.3 7.7 .4 7.8 1.7 7.7 5.3 2.7 5.6 .9 3.3 .2 3.3-1.3 3.3-2.5 1.6-7.7 1.9-15.5 .4zM345.3 264.9l-7.7-.9-7.7-2.1-6.7-3.8-2.7-3.3-.7-3.3 .9-3.3 3-3.2 8.1-3.3 5.8-.8 7.7 0 15.5 1.5 14.1 2.6 3.2 3.2-2.2 3.3-7.4 6.5-7.7 4.8-7.8 1.8zM453.6 258.4l-15.5-2.7-39.7-10.7-4.1-3.3 .8-3.3 4.3-7.1 2.3-2.8 3.9-3.3 1.6-.9 7.7-1.9 7.7-.3 15.5 .9 14.8 2.2 12.8 3.3 3.3 3.4 5.3 3.2 4 6.6 .6 3.3-.8 3.2-2.1 3.3-4 3.3-3 1.7-7.7 2zM530.9 248.3l-15.5-2.1-16.6-4.5-9-3.3-5.3-2.7-2.6-.6-5.1-3.4-6.5-3.2-3.6-3.3-1.7-3.3-.8-3.3-.1-3.2 1-6.6 2.4-6.6 1.9-3.3 2.9-3.3 4.5-3.2 7.7-3.3 7.7-2.3 15.5-2.9 15.5-1.3 23.2 0 23.2 2.5 15.1 3.9 8.1 3.4 4.4 3.2 3.3 3.8 3 6.1 1.7 6.6 .3 3.3-1 6.5-1.6 3.3-3.6 3.3-6.5 3.2-5.2 3.4-2.6 .6-5.2 2.7-19.8 6.6-13.6 2.6zM608.2 258.5l-7.7-2-3-1.7-3.9-3.3-2.1-3.3-.8-3.2 .5-3.3 4-6.6 5.3-3.2 3.4-3.4 12.7-3.3 14.8-2.2 15.5-.9 7.7 .3 7.8 1.9 1.5 .9 3.9 3.3 2.3 2.8 4.3 7.1 .8 3.3-4 3.3-39.8 10.7-15.4 2.7zM654.6 323.9l-7.7-.8-11.1-2.5-4.4-2.5-3.1-4.1-2.1-6.6-.2-3.2 1.1-3.3 4.5-3.3 7.6-2.7 23.2-5.9 23.2-5.1 7.7-1.5 15.5-.9 15.4 1.3 15.5 3.9 7.1 4.3 2.4 3.3 .6 3.3-.9 3.3-2.7 3.3-4.5 3.2-9.8 4.9-7.7 3-23.2 7.6-15.4 2.1-15.5-.1zM708.8 357l-7.8-1.9-2.4-1.6-1.4-3.3 .2-3.3 .9-3.3 2.7-5.6 7.8-5.3 7.7-1.7 7.7-.4 7.7 .3 7.8 1.6 2.5 1.3 5 3.2 2 3.3 .5 3.3-.7 3.3-4.6 6.6-4.7 1.9-6.6 1.4-8.9 .6zM1103.1 427.1l-7.5-4.5-2-3.3-.5-3.3 .7-3.3 4.6-6.6 4.7-1.9 6.6-1.4 16.6-.6 9.3 .6 6.2 1.7 2.4 1.6 1.4 3.3-.2 3.3-2.4 6.6-2.4 3.3-6.6 4.3-7.7 1.7-7.7 .4-7.7-.3zM1149.5 324.3l-7.7-1.4-23.2-7.6-15.5-6.7-6.5-4.4-2.7-3.3-.9-3.3 .6-3.3 2.4-3.3 7.1-4.3 15.5-3.9 7.7-.9 15.5-.2 7.7 .7 23.2 4.8 30.9 7.7 7.8 2.8 4.3 3.2 1.1 3.3-.9 6.5-1.4 3.3-2.2 3.3-5.3 3.3-3.4 1.1-15.4 2.2-15.5 1-15.5 .1zM1188.2 393.8l-7.8-1.7-4.3-2.4-2-3.3-.7-3.3 0-6.6 .7-3.3 2-3.3 4.3-2.4 2.9-.9 20.3-2.4 15.5-.3 7.7 .6 7.8 2 7.1 3.4 3.8 3.3 2.1 3.3 .7 3.3-.7 3.3-2.1 3.3-3.8 3.3-7.1 3.4-7.8 2-7.7 .6-15.5-.3zM1304.2 248.3l-15.5-2.1-16.6-4.5-9.1-3.3-5.2-2.7-2.6-.6-5.2-3.4-6.5-3.2-3.6-3.3-1.6-3.3-.8-3.3-.2-3.2 1-6.6 2.4-6.6 1.9-3.3 3-3.3 4.4-3.2 7.8-3.3 7.7-2.3 15.5-2.9 15.4-1.3 23.2 0 23.2 2.5 15.2 3.9 8 3.4 4.5 3.2 3.3 3.8 2.9 6.1 1.7 6.6 .3 3.3-.9 6.5-1.7 3.3-3.6 3.3-6.5 3.2-5.1 3.4-2.6 .6-5.3 2.7-19.8 6.6-13.6 2.6zM507.7 143.3l-19.5-3.6-50.1-13.7-61.9-14-23.2-6.2-15.4-5-7.7-3.2-6.2-3.9-2.9-3.3-1.1-3.3 .5-3.3 2.2-3.3 7.5-4.8 7.7-2.6 7.7-1.7 15.5-2.4 15.4-1.1 123.8-2.1 54.1-.3 85.1 1.8 46.4 .4 23.2 1.3 15.4 2.4 7.7 1.7 7.8 2.6 2.8 1.5 4.6 3.3 2.2 3.3 .5 3.3-1.1 3.3-2.8 3.3-6.2 3.9-7.8 3.2-15.4 5-23.2 6.2-61.9 14-50.1 13.7-16.7 3.3-18.2 1.6-23.2 0zM724.2 264.9l-7.7-.3-7.7-1.8-7.8-4.8-7.4-6.5-2.2-3.3 3.2-3.2 14.2-2.6 15.4-1.5 7.7 0 5.9 .8 8 3.3 3 3.2 1 3.3-.8 3.3-2.7 3.3-6.6 3.8-7.8 2.1zM1110.9 356.9l-7.8-1.5-4.7-1.9-4.6-6.6-.7-3.3 .5-3.3 2-3.3 5-3.2 2.5-1.3 7.8-1.6 7.7-.3 7.7 .4 7.7 1.7 7.8 5.3 2.7 5.6 .9 3.3 .2 3.3-1.4 3.3-2.4 1.6-7.8 1.9-15.4 .4zM1118.6 264.9l-7.7-.9-7.8-2.1-6.6-3.8-2.7-3.3-.8-3.3 1-3.3 3-3.2 8-3.3 5.9-.8 7.7 0 15.4 1.5 14.2 2.6 3.2 3.2-2.2 3.3-7.4 6.5-7.8 4.8-7.7 1.8zM1226.8 258.4l-15.4-2.7-39.8-10.7-4-3.3 .8-3.3 4.3-7.1 2.3-2.8 3.9-3.3 1.5-.9 7.8-1.9 7.7-.3 15.5 .9 14.8 2.2 12.7 3.3 3.4 3.4 5.3 3.2 4 6.6 .5 3.3-.8 3.2-2.1 3.3-3.9 3.3-3 1.7-7.7 2zM1281 143.3l-19.5-3.6-50.1-13.7-61.9-14-23.2-6.2-15.4-5-7.8-3.2-6.2-3.9-2.8-3.3-1.1-3.3 .5-3.3 2.2-3.3 7.4-4.8 7.8-2.6 7.7-1.7 15.4-2.4 15.5-1.1 123.7-2.1 54.2-.3 85 1.8 46.4 .4 23.2 1.3 15.5 2.4 7.7 1.7 7.7 2.6 2.9 1.5 4.6 3.3 2.2 3.3 .5 3.3-1.1 3.3-2.9 3.3-6.2 3.9-7.7 3.2-15.4 5-23.2 6.2-61.9 14-50.1 13.7-16.7 3.3-18.3 1.6-23.2 0z"/></g>
<g fill="#d9d9d9"><path id="f3" d="M206.9 685.7l30.2 1.7 15.4-.4 9.3-1.3 6.2-2.2 2.4-1.1 3.7-3.3 1.6-3.3 .2-3.3-2.6-9.8-.2-3.3 2.9-13.2-.2-3.3-2.4-9.8-.6-9.9-1.3-3.3-3.5-2.6-7.7-.7-7.8 1.2-61.8 16.3-23.2 4.1-15.5 1.2 0 42.7 23.2 1zM807.7 685.7l9.3 1.3 7.7 .4 15.5-.2 54.1-4.1 23.2-1 23.2 .5 61.9 4.6 15.5 .2 7.7-.4 9.3-1.3 8.5-3.3 3.8-3.3 1.6-3.3 .2-3.3-2.7-9.8-.2-3.3 3-13.2-.2-3.3-2.5-9.8-.6-9.9-1.2-3.3-3.5-2.6-7.8-.7-15.4 2.9-36.6 10.3-28.1 6.5-20.4 2.7-15.5 .4-15.4-1.2-23.2-4.1-61.9-16.3-7.7-1.2-7.8 .7-3.5 2.6-1.2 3.3-.6 9.9-2.5 9.8-.2 3.3 .5 3.3 2.5 9.9-.2 3.3-2.7 9.8 .2 3.3 1.6 3.3 3.8 3.3zM1581 685.7l9.3 1.3 7.7 .4 15.5-.2 54.1-4.1 23.2-1 0-42.7-15.5-1.2-23.2-4.1-61.8-16.3-7.8-1.2-7.7 .7-3.5 2.6-1.3 3.3-.6 9.9-2.4 9.8-.2 3.3 .5 3.3 2.4 9.9-.2 3.3-2.6 9.8 .2 3.3 1.6 3.3 3.7 3.3zM496.7 606.7l3.3 1.2 7.7 1.3 7.7 .5 31 .2 15.4-.7 7.8-1.3 3.3-1.2 4.1-3.2 1.4-3.3 .2-6.6-.9-3.3-2.3-3.3-5.8-2.9-7.8-1.3-15.4-.7-23.2 0-15.5 .7-6.1 .9-7.5 3.3-2.3 3.3-.8 3.3 .1 6.6 1.1 2.7zM1269.9 606.7l3.3 1.2 7.8 1.3 7.7 .5 30.9 .2 15.5-.7 7.7-1.3 3.3-1.2 4.2-3.2 1.4-3.3 .1-6.6-.8-3.3-2.3-3.3-5.9-2.9-7.7-1.3-15.5-.7-23.2 0-15.4 .7-6.1 .9-7.5 3.3-2.3 3.3-.9 3.3 .2 6.6 1.1 2.7zM399.5 570.6l7.7 1.9 7.7 .7 7.7-.1 15.5-2.1 10-3.7 3.6-3.3 1.6-3.3 .3-3.3-.7-3.3-1.9-3.3-5.2-4.4-7.7-2.1-15.5-.2-15.4 1.9-15.5 2.8-1.8-1.3-.9-9.8-1.1-3.3-2-3.3-4.1-3.3-5.6-2.1-7.7-.6-7.7 .9-7.1 1.8-8.4 4.3-2.6 2.3-2.2 3.3-.8 3.3 .5 3.2 1.9 3.3 4 3.3 6.9 2.1 7.8 .6 7.7-.3 15.5-1.8 2.4 2.7 2.1 6.6 1.9 3.3 3.3 3.3zM629.5 570.6l9.7 1.8 15.4 .8 7.8-.7 7.7-1.9 5.7-3.3 3.3-3.3 2-3.3 2.1-6.6 2.4-2.7 15.4 1.8 7.8 .3 7.7-.6 7-2.1 4-3.3 1.9-3.3 .5-3.2-.9-3.3-2.2-3.3-2.6-2.3-8.3-4.3-7.1-1.8-7.8-.9-7.7 .6-5.6 2.1-4.1 3.3-2 3.3-1.1 3.3-.9 9.8-1.8 1.3-15.4-2.8-15.5-1.9-15.5 .2-7.7 2.1-5.2 4.4-1.8 3.3-.8 3.3 .3 3.3 1.6 3.3 3.6 3.3zM1172.7 570.6l7.7 1.9 7.8 .7 7.7-.1 15.5-2.1 10-3.7 3.6-3.3 1.6-3.3 .3-3.3-.8-3.3-1.8-3.3-5.2-4.4-7.7-2.1-15.5-.2-15.5 1.9-15.4 2.8-1.8-1.3-.9-9.8-1.1-3.3-2-3.3-4.1-3.3-5.6-2.1-7.7-.6-7.8 .9-7.1 1.8-8.3 4.3-2.6 2.3-2.2 3.3-.9 3.3 .5 3.2 1.9 3.3 4 3.3 7 2.1 7.7 .6 7.8-.3 15.4-1.8 2.4 2.7 2.1 6.6 2 3.3 3.3 3.3zM1402.8 570.6l9.6 1.8 15.5 .8 7.7-.7 7.7-1.9 5.8-3.3 3.3-3.3 1.9-3.3 2.1-6.6 2.4-2.7 15.5 1.8 7.7 .3 7.8-.6 6.9-2.1 4-3.3 1.9-3.3 .5-3.2-.8-3.3-2.2-3.3-2.6-2.3-8.4-4.3-7.1-1.8-7.7-.9-7.7 .6-5.6 2.1-4.1 3.3-2 3.3-1.1 3.3-.9 9.8-1.8 1.3-15.5-2.8-15.4-1.9-15.5 .2-7.7 2.1-5.2 4.4-1.9 3.3-.7 3.3 .3 3.3 1.6 3.3 3.6 3.3zM241 504.8l11.5 .7 11.4-.7 4.1-1.1 4.3-2.2 2.6-3.3 .5-3.3-2.3-9.9 0-3.2 3.1-13.2-.3-3.3-2.7-9.9 1-13.1-1.5-3.3-4.7-2.8-7.7-.9-7.8 .5-15.4 2.5-52.1 10.6-17.5 2.2-15.5 1 0 42.7 15.5 .7 15.4 1.6zM494.4 504.8l5.6 2.2 7.7 .8 23.2-.7 30.9 .7 7.8-.8 7.7-3.5 5.3-5.3 1.9-3.3 2.2-6.6 .3-3.3-.5-3.2-3.6-6.6-3.7-3.3-1.9-1.2-7.7-2.4-7.8-.4-30.9 .8-23.2-.8-9.3 .7-6.2 2.1-5.5 4.5-3.7 6.6-.4 3.2 1.2 6.6 3.1 6.6 3 3.3zM805.7 504.8l11.3 .7 7.7-.4 61.9-8 15.5-1.6 15.4-.7 15.5 .2 15.5 1.2 69.6 8.9 7.7 .4 11.3-.7 4.2-1.1 4.3-2.2 2.6-3.3 .5-3.3-2.3-9.9-.1-3.2 3.2-13.2-.4-3.3-2.7-9.9 1.1-13.1-1.5-3.3-4.7-2.8-7.8-.9-7.7 .5-15.5 2.5-34.4 7.3-19.7 3.6-23.2 2.6-15.5 .3-15.4-1-17.5-2.2-52.1-10.6-15.5-2.5-7.7-.5-7.8 .9-4.7 2.8-1.5 3.3 1.1 13.1-2.7 9.9-.4 3.3 3.2 13.2-.1 3.2-2.3 9.9 .5 3.3 2.6 3.3 4.3 2.2zM1267.6 504.8l5.6 2.2 7.8 .8 23.2-.7 30.9 .7 7.7-.8 7.8-3.5 5.3-5.3 1.8-3.3 2.2-6.6 .3-3.3-.4-3.2-3.7-6.6-3.6-3.3-1.9-1.2-7.8-2.4-7.7-.4-30.9 .8-23.2-.8-9.3 .7-6.2 2.1-5.6 4.5-3.6 6.6-.5 3.2 1.2 6.6 3.2 6.6 2.9 3.3zM1578.9 504.8l11.4 .7 7.7-.4 61.9-8 15.4-1.6 15.5-.7 0-42.7-15.5-1-17.5-2.2-52.1-10.6-15.4-2.5-7.8-.5-7.7 .9-4.7 2.8-1.5 3.3 1 13.1-2.7 9.9-.3 3.3 3.1 13.2 0 3.2-2.3 9.9 .5 3.3 2.6 3.3 4.3 2.2zM393.2 501.5l6.2 2.5 7.8 .3 15.4-2.7 10.3-3.4 7.9-3.3 11.2-6.6 4.1-3.3 2.5-3.2 .7-3.3-1.4-3.3-4.2-3.3-7.9-2-7.7 .2-7.7 1.2-13.6 3.9-7.1 3.3-5.1 3.3-10.7 9.8-2.3 3.3-.6 3.3zM646.7 501.5l15.7 2.8 7.7-.3 6.2-2.5 2.2-3.3-.6-3.3-5.3-6.6-7.6-6.5-5.2-3.3-7.1-3.3-11-3.3-10.3-1.8-7.7-.2-7.7 1.9-4.4 3.4-1.4 3.3 .7 3.3 2.5 3.2 4.2 3.3 11.2 6.6 7.8 3.3zM1166.5 501.5l6.2 2.5 7.7 .3 15.5-2.7 10.3-3.4 7.8-3.3 11.2-6.6 4.2-3.3 2.5-3.2 .7-3.3-1.4-3.3-4.2-3.3-7.9-2-7.7 .2-7.8 1.2-13.5 3.9-7.1 3.3-5.2 3.3-10.6 9.8-2.3 3.3-.6 3.3zM1419.9 501.5l15.7 2.8 7.8-.3 6.2-2.5 2.2-3.3-.6-3.3-5.4-6.6-7.6-6.5-5.1-3.3-7.1-3.3-11.1-3.3-10.2-1.8-7.7-.2-7.8 1.9-4.3 3.4-1.4 3.3 .7 3.3 2.5 3.2 4.1 3.3 11.2 6.6 7.9 3.3zM460.5 455.4l8.5 2.3 7.8-.9 2.5-1.4 3.2-3.2 1.1-3.3 0-3.3-2.2-6.6-4.6-5.5-7.8-3.4-3.6-1-4.9-3.3-2.7-9.8-1.9-3.3-3.5-3.3-5.8-3.3-8.5-2.7-15.5-2.4-15.4 .1-7.8 1.4-6.1 3.6-2.1 3.3-.3 3.3 .8 2.3 3.3 4.3 4.5 3.3 6.4 3.2 9 2.8 7.7 1.4 22.5 2.4 5.7 3.3 2.4 9.9 1.4 3.3 2.3 3.3zM590.2 455.4l2.6 1.4 7.7 .9 7.7-1.7 4.4-3.8 2.3-3.3 1.4-3.3 2.4-9.9 5.8-3.3 27.5-3.3 11.6-3.3 6.5-3.2 4.5-3.3 3.2-4.3 .9-2.3-.4-3.3-2.1-3.3-5.3-3.3-8.5-1.7-7.8-.4-15.4 1.2-7.8 1.5-8.5 2.7-5.8 3.3-3.5 3.3-1.8 3.3-1.6 6.6-2 4.1-4 2.4-3.7 1-7.7 3.4-4.7 5.5-2.2 6.6 0 3.3 1.2 3.3zM1233.8 455.4l8.5 2.3 7.7-.9 2.6-1.4 3.1-3.2 1.2-3.3 0-3.3-2.2-6.6-4.7-5.5-7.7-3.4-3.7-1-4.8-3.3-2.8-9.8-1.8-3.3-3.5-3.3-5.8-3.3-8.5-2.7-15.5-2.4-15.5 .1-7.7 1.4-6.1 3.6-2.1 3.3-.4 3.3 .9 2.3 3.2 4.3 4.5 3.3 6.5 3.2 9 2.8 7.7 1.4 22.4 2.4 5.8 3.3 2.4 9.9 1.4 3.3 2.3 3.3zM1363.5 455.4l2.5 1.4 7.8 .9 7.7-1.7 4.4-3.8 2.3-3.3 1.4-3.3 2.4-9.9 5.7-3.3 27.6-3.3 11.6-3.3 6.4-3.2 4.5-3.3 3.3-4.3 .8-2.3-.3-3.3-2.1-3.3-5.3-3.3-8.6-1.7-7.7-.4-15.5 1.2-7.7 1.5-8.5 2.7-5.8 3.3-3.5 3.3-1.9 3.3-1.5 6.6-2 4.1-4.1 2.4-3.6 1-7.8 3.4-4.6 5.5-2.2 6.6 0 3.3 1.1 3.3zM497.9 406.1l9.8-.5 23.2-2.8 15.5 .6 23.2 2.9 7.7-1.2 3.6-2.3 2.1-3.3 .6-3.3-1.3-16.4 1.3-16.4-.6-3.3-2.1-3.3-3.6-2.3-7.7-1.2-31 3.5-15.4-.6-23.2-2.9-7.8 1.2-3.6 2.3-2.1 3.3-.5 3.3 1.2 16.4-1.2 16.4 .5 3.3 2.1 3.3 3.6 2.3zM1271.2 406.1l9.8-.5 23.2-2.8 15.4 .6 23.2 2.9 7.8-1.2 3.6-2.3 2.1-3.3 .5-3.3-1.2-16.4 1.2-16.4-.5-3.3-2.1-3.3-3.6-2.3-7.8-1.2-30.9 3.5-15.5-.6-23.2-2.9-7.7 1.2-3.6 2.3-2.1 3.3-.6 3.3 1.3 16.4-1.3 16.4 .6 3.3 2.1 3.3 3.6 2.3zM357.9 393l10.6 .3 2.8-.3 4.9-1 5-2.3 2.8-2.3 2.2-4.3 .5-3.3-.5-3.3-2.2-4.3-2.8-2.3-5-2.3-7.7-1.3-7.7 0-7.8 1.1-7.7 3.2-2.7 2.6-1.8 3.3-.5 3.3 .5 3.3 1.8 3.3 3.8 3.3 6.6 2.5zM698.2 393l2.8 .3 10.6-.3 4.9-.8 7.7-3.2 2.8-2.6 1.7-3.3 .6-3.3-.6-3.3-1.7-3.3-3.9-3.3-6.6-2.5-7.7-1.1-10.6 .3-4.9 1-5 2.3-2.7 2.3-2.3 4.3-.4 3.3 .4 3.3 2.3 4.3 2.7 2.3 5 2.3zM1131.2 393l10.6 .3 2.8-.3 4.9-1 5-2.3 2.7-2.3 2.3-4.3 .4-3.3-.4-3.3-2.3-4.3-2.7-2.3-5-2.3-7.7-1.3-7.8 0-7.7 1.1-7.7 3.2-2.8 2.6-1.7 3.3-.6 3.3 .6 3.3 1.7 3.3 3.9 3.3 6.6 2.5zM1471.5 393l2.8 .3 10.6-.3 4.9-.8 7.7-3.2 2.7-2.6 1.8-3.3 .5-3.3-.5-3.3-1.8-3.3-3.8-3.3-6.6-2.5-7.8-1.1-10.5 .3-4.9 1-5 2.3-2.8 2.3-2.2 4.3-.5 3.3 .5 3.3 2.2 4.3 2.8 2.3 5 2.3zM398.6 356.8l8.6 1.7 7.7 .4 15.5-1.2 7.7-1.5 7.7-2.4 6.6-3.6 3.5-3.3 1.9-3.3 1.5-6.6 2-4.1 4.1-2.4 3.6-1 7.8-3.4 4.6-5.5 2.2-6.6 0-3.3-1.1-3.3-3.2-3.2-2.5-1.4-7.8-.9-7.7 1.7-4.4 3.8-2.3 3.3-1.4 3.3-2.4 9.9-5 3.1-30.9 4-9 2.8-6.4 3.2-4.5 3.3-2.9 3.3-1.2 3.3 .3 3.3 2.1 3.3zM633.7 356.8l13.2 1.8 7.7 .3 7.8-.4 7.7-1.4 6.1-3.6 1.6-2.3 .9-4.3-1.3-3.3-2.8-3.3-4.5-3.2-7.7-3.8-10.4-2.8-28.3-3.5-5-3.1-2.4-9.9-1.4-3.3-2.3-3.3-4.4-3.8-7.7-1.7-7.7 .9-2.6 1.4-3.1 3.2-1.2 3.3 0 3.3 2.2 6.6 2.4 3.3 2.3 2.2 7.7 3.4 3.7 1 4 2.4 2 4.1 1.6 6.6 1.8 3.3 3.5 3.3 5.8 3.3zM1171.9 356.8l8.5 1.7 7.8 .4 15.4-1.2 7.8-1.5 7.7-2.4 6.6-3.6 3.5-3.3 1.8-3.3 1.6-6.6 2-4.1 4-2.4 3.7-1 7.7-3.4 4.7-5.5 2.2-6.6 0-3.3-1.2-3.3-3.1-3.2-2.6-1.4-7.7-.9-7.7 1.7-4.4 3.8-2.3 3.3-1.4 3.3-2.4 9.9-5 3.1-30.9 4-9 2.8-6.5 3.2-4.5 3.3-2.8 3.3-1.3 3.3 .4 3.3 2.1 3.3zM1407 356.8l13.2 1.8 7.7 .3 7.7-.4 7.8-1.4 6.1-3.6 1.6-2.3 .8-4.3-1.2-3.3-2.9-3.3-4.4-3.2-7.8-3.8-10.3-2.8-28.3-3.5-5-3.1-2.4-9.9-1.4-3.3-2.3-3.3-4.4-3.8-7.7-1.7-7.8 .9-2.5 1.4-3.2 3.2-1.1 3.3 0 3.3 2.2 6.6 2.3 3.3 2.3 2.2 7.8 3.4 3.6 1 4.1 2.4 2 4.1 1.5 6.6 1.9 3.3 3.5 3.3 5.8 3.3zM253.4 323.9l6.9 .4 7.7-.9 4.7-2.8 1.5-3.3-1-13.1 2.7-9.9 .3-3.3-3.1-13.2 0-3.2 2.3-9.9-.5-3.3-2.6-3.3-4.3-2.2-7.7-1.6-15.5 .2-61.9 8-15.4 1.6-15.5 .7 0 42.7 15.5 1 17.5 2.2 52.1 10.6zM804.2 323.9l5.1 .4 7.7-.5 15.5-2.5 52.1-10.6 17.5-2.2 15.4-1 15.5 .3 23.2 2.6 19.7 3.6 34.4 7.3 15.5 2.5 7.7 .5 7.8-.9 4.7-2.8 1.5-3.3-1.1-13.1 2.7-9.9 .4-3.3-3.2-13.2 .1-3.2 2.3-9.9-.5-3.3-2.6-3.3-4.3-2.2-7.8-1.6-7.7-.2-15.5 1.1-61.8 8.2-15.5 1.2-15.5 .2-15.4-.7-15.5-1.6-61.9-8-7.7-.4-11.3 .7-4.2 1.1-4.3 2.2-2.6 3.3-.5 3.3 2.3 9.9 .1 3.2-3.2 13.2 .4 3.3 2.7 9.9-1.1 13.1 1.5 3.3 4.7 2.8zM1577.4 323.9l5.1 .4 7.8-.5 15.4-2.5 52.1-10.6 17.5-2.2 15.5-1 0-42.7-15.5-.7-15.4-1.6-61.9-8-15.5-.2-7.7 1.6-4.3 2.2-2.6 3.3-.5 3.3 2.3 9.9 0 3.2-3.1 13.2 .3 3.3 2.7 9.9-1 13.1 1.5 3.3 4.7 2.8zM498.4 291l9.3 .7 23.2-.8 30.9 .8 9.3-.7 6.2-2.1 5.6-4.5 3.6-6.6 .5-3.2-.3-3.3-2.2-6.6-1.9-3.3-2.9-3.3-4.5-3.3-5.6-2.2-7.8-.8-30.9 .7-23.2-.7-7.7 .8-7.8 3.5-5.3 5.3-3.1 6.6-1.2 6.6 .4 3.2 3.7 6.6 5.5 4.5zM1271.7 291l9.3 .7 23.2-.8 30.9 .8 9.3-.7 6.2-2.1 5.5-4.5 3.7-6.6 .4-3.2-.3-3.3-2.2-6.6-1.8-3.3-3-3.3-4.5-3.3-5.6-2.2-7.7-.8-23.2 .7-30.9-.7-7.8 .8-7.7 3.5-5.3 5.3-3.2 6.6-1.2 6.6 .5 3.2 3.6 6.6 5.6 4.5zM427.9 287.7l10.2 1.8 7.7 .2 7.8-1.9 4.3-3.4 1.4-3.3-.7-3.3-2.5-3.2-9.1-6.6-6.2-3.3-7.9-3.3-10.3-3.4-15.4-2.7-7.8 .3-6.2 2.5-2.2 3.3 .6 3.3 2.3 3.3 6.7 6.6 9.1 6.5 7.1 3.3zM615.8 287.7l7.9 2 7.7-.2 10.3-1.8 11-3.3 7.1-3.3 9.1-6.5 6.7-6.6 2.3-3.3 .6-3.3-2.2-3.3-6.2-2.5-7.7-.3-15.5 2.7-10.3 3.4-7.8 3.3-6.2 3.3-9.2 6.6-2.5 3.2-.7 3.3 1.4 3.3zM1201.1 287.7l10.3 1.8 7.7 .2 7.7-1.9 4.4-3.4 1.4-3.3-.7-3.3-2.5-3.2-9.2-6.6-6.2-3.3-7.8-3.3-10.3-3.4-15.5-2.7-7.7 .3-6.2 2.5-2.2 3.3 .6 3.3 2.3 3.3 6.7 6.6 9.1 6.5 7.1 3.3zM1389.1 287.7l7.9 2 7.7-.2 10.2-1.8 11.1-3.3 7.1-3.3 9.1-6.5 6.7-6.6 2.3-3.3 .6-3.3-2.2-3.3-6.2-2.5-7.8-.3-15.4 2.7-10.3 3.4-7.9 3.3-6.2 3.3-9.1 6.6-2.5 3.2-.7 3.3 1.4 3.3zM353.7 231.8l7.1 1.8 7.7 .9 7.7-.6 5.6-2.1 4.1-3.3 2-3.3 1.1-3.3 .9-9.8 1.8-1.3 15.5 2.8 15.4 1.9 15.5-.2 7.7-2.1 5.2-4.4 1.9-3.3 .7-3.3-.3-3.3-1.6-3.3-3.6-3.3-10-3.7-15.5-2.1-7.7-.1-7.7 .7-7.7 1.9-5.8 3.3-3.3 3.3-1.9 3.3-2.1 6.6-2.4 2.7-15.5-1.8-7.7-.3-7.8 .6-7.7 2.4-3.2 3-1.9 3.3-.5 3.2 .8 3.3 2.2 3.3 2.6 2.3zM687.7 231.8l5.6 2.1 7.7 .6 7.8-.9 7.1-1.8 6.8-3.3 4.1-3.3 2.2-3.3 .9-3.3-.5-3.2-1.9-3.3-3.3-3-7.7-2.4-7.7-.6-7.8 .3-15.4 1.8-2.4-2.7-2.1-6.6-2-3.3-3.3-3.3-5.7-3.3-7.7-1.9-7.8-.7-7.7 .1-15.5 2.1-10 3.7-3.6 3.3-1.6 3.3-.3 3.3 .8 3.3 1.8 3.3 5.2 4.4 7.7 2.1 7.8 .4 9.7-.3 13.5-1.8 15.4-2.8 1.8 1.3 .9 9.8 1.1 3.3 2 3.3zM1126.9 231.8l7.1 1.8 7.8 .9 7.7-.6 5.6-2.1 4.1-3.3 2-3.3 1.1-3.3 .9-9.8 1.8-1.3 15.4 2.8 15.5 1.9 15.5-.2 7.7-2.1 5.2-4.4 1.8-3.3 .8-3.3-.3-3.3-1.6-3.3-3.6-3.3-10-3.7-15.5-2.1-7.7-.1-7.8 .7-7.7 1.9-5.7 3.3-3.3 3.3-2 3.3-2.1 6.6-2.4 2.7-15.4-1.8-7.8-.3-7.7 .6-7.7 2.4-3.3 3-1.9 3.3-.5 3.2 .9 3.3 2.2 3.3 2.6 2.3zM1461 231.8l5.6 2.1 7.7 .6 7.7-.9 7.1-1.8 6.9-3.3 4.1-3.3 2.2-3.3 .8-3.3-.5-3.2-1.9-3.3-3.2-3-7.7-2.4-7.8-.6-7.7 .3-15.5 1.8-2.4-2.7-2.1-6.6-1.9-3.3-3.3-3.3-5.7-3.3-7.8-1.9-7.7-.7-7.7 .1-15.5 2.1-10 3.7-3.6 3.3-1.6 3.3-.3 3.3 .7 3.3 1.9 3.3 5.2 4.4 7.7 2.1 7.7 .4 9.8-.3 13.4-1.8 15.5-2.8 1.8 1.3 .9 9.8 1.1 3.3 2 3.3zM501.6 175.9l13.8 1.4 23.2 .3 15.5-.3 13.8-1.4 7.5-3.3 1.9-2.5 1.3-4.1-.2-6.6-1.4-3.3-4.1-3.2-3.3-1.2-7.8-1.3-15.4-.7-23.2 0-15.5 .7-7.7 1.3-3.3 1.2-4.2 3.2-1.4 3.3-.1 6.6 .8 3.3 2.3 3.3zM1274.9 175.9l13.8 1.4 15.5 .3 23.2-.3 13.8-1.4 7.5-3.3 1.9-2.5 1.2-4.1-.1-6.6-1.4-3.3-4.2-3.2-3.3-1.2-7.7-1.3-15.5-.7-23.2 0-15.4 .7-7.8 1.3-3.3 1.2-4.1 3.2-1.4 3.3-.2 6.6 .9 3.3 2.3 3.3zM260.3 143l7.7-.7 3.5-2.6 1.3-3.3 .6-9.9 2.4-9.8 .2-3.3-.5-3.3-2.4-9.9 .2-3.3 2.6-9.8-.2-3.3-1.6-3.3-3.7-3.3-10.1-3.6-7.8-1-15.4-.4-23.2 1.2-46.4 3.6-15.5 .5 0 42.7 15.5 1.2 15.4 2.4 25.4 6 36.5 10.3zM809.3 143l15.4-2.9 36.6-10.3 25.3-6 15.5-2.4 15.4-1.2 15.5 .4 20.4 2.7 15.3 3.2 49.4 13.6 7.7 1.7 7.7 1.2 7.8-.7 3.5-2.6 1.2-3.3 .6-9.9 2.5-9.8 .2-3.3-.5-3.3-2.5-9.9 .2-3.3 2.7-9.8-.2-3.3-1.6-3.3-3.8-3.3-2.3-1.1-7.8-2.5-15.4-1.4-23.2 .6-46.4 3.7-23.2 1-23.2-.5-61.9-4.6-15.5-.2-7.7 .4-9.3 1.3-8.5 3.3-3.8 3.3-1.6 3.3-.2 3.3 2.7 9.8 .2 3.3-3 13.2 .2 3.3 2.5 9.8 .6 9.9 1.2 3.3 3.5 2.6zM1582.5 143l15.5-2.9 36.5-10.3 25.4-6 15.4-2.4 15.5-1.2 0-42.7-15.5-.5-46.4-3.6-23.2-1.2-15.4 .4-7.8 1-10.1 3.6-3.7 3.3-1.6 3.3-.2 3.3 2.6 9.8 .2 3.3-2.4 9.9-.5 3.3 .2 3.3 2.4 9.8 .6 9.9 1.3 3.3 3.5 2.6z"/></g>
<g fill="#cccccc"><path id="f4" d="M152 679.1l0 .4 46.4 1.4 15.5 .1 15.4-1.4 7.8-2.6 2.2-1.2 2.9-3.3 1-3.3 .8-19.7-.9-6.6-1.3-3.3-2.4-3.3-2.3-1.5-7.8-1.8-15.4 1.3-38.7 6.1-23.2 1.6zM837.9 679.1l10 1.5 15.5 .5 54.1-1.6 69.6 1.5 15.5-1.4 2.3-.5 7.7-3.3 2.8-3.3 1.1-3.3 .2-3.3 .3-19.7-1.9-6.6-2.4-3.3-2.4-1.5-7.7-1.8-15.5 1.3-38.6 6.1-23.2 1.6-15.5-.3-15.5-1.3-38.6-6.1-7.8-1-8.1-.2-7.3 1.7-2.4 1.5-2.4 3.3-1.2 3.3-.9 6.6 .5 16.4 .2 3.3 1.1 3.3 2.8 3.3zM1611.2 679.1l10 1.5 15.5 .5 54.1-1.6 0-37.5-23.2-1.6-46.4-7.1-7.7-.3-7.8 1.8-2.3 1.5-2.4 3.3-1.9 6.6-.3 6.6 .8 16.4 1 3.3 2.9 3.3zM516 603.5l14.9 1.6 15.5-.5 7.7-1.3 7-3.1 2.2-3.3-.6-3.3-.9-.9-3.3-2.4-4.4-1.5-7.7-1.3-7.8-.6-15.4 .6-7.8 1.3-4.3 1.5-4.2 3.3-.6 3.3 2.1 3.3zM1289.3 603.5l14.9 1.6 15.4-.5 7.8-1.3 7-3.1 2.1-3.3-.6-3.3-.8-.9-3.4-2.4-4.3-1.5-7.8-1.3-7.7-.6-15.5 .6-7.7 1.3-4.4 1.5-4.2 3.3-.6 3.3 2.2 3.3zM418.9 560.7l3.7 .9 3.7-.9 4.4-3.3-8.1-1.4-3.1 1.4zM643.3 560.7l3.6 .9 3.7-.9-.6-3.3-3.1-1.4-7.7 1 0 .9zM1192.2 560.7l3.7 .9 3.6-.9 4.4-3.3-8-1.4-3.1 1.4zM1416.5 560.7l3.7 .9 3.7-.9-.6-3.3-3.1-1.4-7.8 1 0 .9zM510 501.5l5.4 1 7.8 .7 15.4 .1 15.5-.8 5.4-1 7.1-3.3 3-3.3 1.5-3.3 .5-3.3-.3-3.3-1.1-3.2-2.4-3.3-5.4-3.3-8.3-1.9-15.5-.8-15.4 .2-7.8 .6-7.7 1.7-5.9 3.5-1.8 2.4-1.8 4.1-.3 3.3 .6 3.3 1.5 3.3 2.9 3.3zM1283.3 501.5l5.4 1 15.5 .8 15.4-.1 7.8-.7 5.4-1 7.1-3.3 2.9-3.3 1.5-3.3 .6-3.3-.3-3.3-1.2-3.2-2.4-3.3-5.3-3.3-8.3-1.9-15.5-.8-15.5 .2-7.7 .6-7.7 1.7-6 3.5-1.8 2.4-1.7 4.1-.3 3.3 .5 3.3 1.5 3.3 3 3.3zM198.2 494.9l15.7 1 15.4-.5 7.8-2.1 2.7-1.7 2.2-3.3 .9-3.3 1.2-16.4-1.2-9.9-1.1-3.3-2.2-3.2-2.5-1.7-5.3-1.6-10.2-.5-46.4 5-23.2 1.3 0 37.5 23.2 .9zM837.2 494.9l10.7 1 7.8 0 38.6-2.8 23.2-.9 23.2 .5 46.4 3.2 7.8 0 10.7-1 4.7-1.6 2.7-1.7 2.3-3.3 .9-3.3 1.2-13.1-.2-6.6-1.1-6.6-1-3.3-2.2-3.2-2.6-1.7-7.7-2-15.5 .4-38.6 4.5-23.2 1.3-15.5-.2-15.5-1.1-38.6-4.5-7.8-.5-10.2 .5-5.2 1.6-2.6 1.7-2.2 3.2-1.7 6.6-.6 6.6 .8 13.2 1.3 6.5 2.3 3.3 2.7 1.7zM1610.5 494.9l10.7 1 7.7 0 38.7-2.8 23.2-.9 0-37.5-23.2-1.3-46.4-5-7.7 .1-7.8 2-2.5 1.7-2.2 3.2-1.1 3.3-1.2 9.9 .8 13.2 1.3 6.5 2.2 3.3 2.7 1.7zM420.2 416l2.4 1.5 7.8-1.5-7.8-3.4zM639.1 416l7.8 1.5 2.4-1.5-2.4-3.4zM1193.5 416l2.4 1.5 7.8-1.5-7.8-3.4zM1412.4 416l7.8 1.5 2.4-1.5-2.4-3.4zM504.4 396.2l3.3 1.5 7.7 1.2 7.8 .3 30.9-.3 7.7-1.2 3.3-1.5 4-3.2 2-3.3 1.2-3.3 .6-3.3 0-6.6-1.8-6.6-2-3.3-4-3.2-3.3-1.5-7.7-1.2-30.9-.3-7.8 .3-7.7 1.2-3.3 1.5-3.9 3.2-2.1 3.3-1.7 6.6 0 6.6 1.7 6.6 2.1 3.3zM1277.7 396.2l3.3 1.5 7.7 1.2 7.7 .3 31-.3 7.7-1.2 3.3-1.5 3.9-3.2 2.1-3.3 1.1-3.3 .6-3.3 0-6.6-1.7-6.6-2.1-3.3-3.9-3.2-3.3-1.5-7.7-1.2-31-.3-7.7 .3-7.7 1.2-3.3 1.5-4 3.2-2 3.3-1.8 6.6 0 6.6 1.8 6.6 2 3.3zM422.2 346.9l8.2-3.3-7.8-1.5-2.4 1.5zM646.6 346.9l.7 0 2-3.3-2.4-1.5-7.7 1.5zM1195.5 346.9l8.1-3.3-7.7-1.5-2.4 1.5zM1419.8 346.9l.8 0 2-3.3-2.4-1.5-7.8 1.5zM215 310.7l6.6 .5 10.2-.5 5.3-1.6 2.5-1.7 2.2-3.2 1.7-6.6 .6-9.9-1.2-13.1-.9-3.3-2.2-3.3-2.7-1.7-4.8-1.6-10.7-1-15.5 .4-30.9 2.4-23.2 .9 0 37.5 23.2 1.3zM837.7 310.7l10.2 .5 7.8-.5 38.6-4.5 23.2-1.3 15.5 .2 15.5 1.1 38.6 4.5 7.8 .5 10.2-.5 5.2-1.6 2.6-1.7 2.2-3.2 1-3.3 1.3-9.9-1.2-16.4-.9-3.3-2.3-3.3-2.7-1.7-4.7-1.6-10.7-1-15.5 .4-30.9 2.4-23.2 .9-23.2-.5-46.4-3.2-7.8 0-10.7 1-4.7 1.6-2.7 1.7-2.3 3.3-1.3 6.5-.8 13.2 .6 6.6 1.7 6.6 2.2 3.2 2.6 1.7zM1611 310.7l10.2 .5 7.7-.5 38.7-4.5 23.2-1.3 0-37.5-23.2-.9-38.7-2.8-15.4 .5-7.8 2.1-2.7 1.7-2.2 3.3-.9 3.3-1.2 13.1 .2 6.6 2.1 9.9 2.2 3.2 2.5 1.7zM507.1 284.4l8.3 1.9 15.5 .8 23.2-.8 7.7-1.7 6-3.5 2.4-3.3 1.1-3.2 .3-3.3-.5-3.3-1.5-3.3-3-3.3-4.8-2.6-7.7-1.7-23.2-.8-15.5 .8-5.4 1-7.1 3.3-2.9 3.3-1.5 3.3-.6 3.3 .3 3.3 1.2 3.2 2.4 3.3zM1280.4 284.4l8.3 1.9 15.5 .8 23.2-.8 7.7-1.7 5.9-3.5 2.4-3.3 1.2-3.2 .3-3.3-.6-3.3-1.5-3.3-2.9-3.3-4.8-2.6-7.7-1.7-23.2-.8-15.5 .8-5.4 1-7.1 3.3-3 3.3-1.5 3.3-.5 3.3 .3 3.3 1.1 3.2 2.4 3.3zM419.5 202.2l3.1 1.4 8.1-1.4-4.4-3.3-3.7-.9-3.7 .9zM638.9 202.2l8 1.4 3.1-1.4 .6-3.3-3.7-.9-3.6 .9zM1192.8 202.2l3.1 1.4 8-1.4-4.4-3.3-3.6-.9-3.7 .9zM1412.1 202.2l8.1 1.4 3.1-1.4 .6-3.3-3.7-.9-3.7 .9zM529.3 172.6l17.1-.5 7.7-1.3 4.4-1.5 3.3-2.4 .9-.9 .6-3.3-2.2-3.3-7-3.1-7.7-1.3-15.5-.5-7.7 .5-7.8 1.3-7 3.1-2.1 3.3 .6 3.3 4.2 3.3 4.3 1.5 7.8 1.3zM1302.6 172.6l17-.5 7.8-1.3 4.3-1.5 3.4-2.4 .8-.9 .6-3.3-2.1-3.3-7-3.1-7.8-1.3-15.4-.5-7.8 .5-7.7 1.3-7 3.1-2.2 3.3 .6 3.3 4.2 3.3 4.4 1.5 7.7 1.3zM228.3 126.5l8.8-1.7 2.3-1.5 2.4-3.3 1.3-3.3 .9-6.6-.8-19.7-1-3.3-2.9-3.3-7.7-3.3-2.3-.5-15.4-1.4-61.9 1.5 0 37.5 23.2 1.6 38.7 6.1zM839.8 126.5l8.1-.2 7.8-1 38.6-6.1 23.2-1.6 15.5 .3 15.5 1.3 38.6 6.1 7.8 1 8.1 .2 7.3-1.7 2.4-1.5 2.4-3.3 1.2-3.3 .9-6.6-.7-19.7-1.1-3.3-2.8-3.3-2.3-1.2-5.4-2.1-10-1.5-15.5-.5-61.9 1.6-54.1-1.6-15.5 .5-10 1.5-7.7 3.3-2.8 3.3-1.1 3.3-.2 3.3-.5 16.4 .9 6.6 1.2 3.3 2.4 3.3 2.4 1.5zM1613.1 126.5l8.1-.2 7.7-1 38.7-6.1 23.2-1.6 0-37.5-61.9-1.5-15.4 1.4-2.3 .5-7.7 3.3-2.9 3.3-1 3.3-.8 19.7 .9 6.6 1.3 3.3 2.4 3.3 2.3 1.5z"/></g>
<g fill="#bfbfbf"><path id="f5" d="M152 675.8l0 1.3 38.7-.1 15.4-1.2 7.8-2 3.2-1.3 3.9-3.3 1.7-3.3 .7-3.2 .2-6.6-1.3-6.6-1.9-3.3-5.2-3.3-9.1-1.3-54.1 2.8zM863.2 675.8l15.7 1.2 15.4 .2 61.9 0 15.5-.6 7.9-.8 10.8-3.3 3.8-3.3 1.7-3.3 .8-3.2-.2-9.9-.9-3.3-2-3.3-5.1-3.3-9.1-1.3-54.1 2.8-23.2-.5-31-2.3-7.7 0-7.7 .9-6.5 3.7-2 3.3-1.2 6.6 .1 6.6 .8 3.2 1.7 3.3 3.8 3.3zM1636.5 675.8l15.6 1.2 38.7 .1 0-32.7-15.5-.5-30.9-2.3-7.7 0-9.1 1.3-5.2 3.3-1.9 3.3-1.3 6.6 .2 6.6 .7 3.2 1.7 3.3 3.9 3.3zM519.9 498.2l11 1.4 7.7 0 7.8-.7 7.7-2.1 3.4-1.9 2.8-3.3 .9-3.3-.5-3.3-2.2-3.2-4.4-2.8-7.7-2-15.5-.7-7.7 .7-6.4 1.5-5.7 3.3-2.3 3.2-.5 3.3 .9 3.3 2.9 3.3 3.3 1.9zM1293.2 498.2l11 1.4 7.7 0 7.7-.7 7.8-2.1 3.3-1.9 2.9-3.3 .9-3.3-.5-3.3-2.3-3.2-4.3-2.8-7.8-2-15.4-.7-7.8 .7-6.3 1.5-5.8 3.3-2.2 3.2-.5 3.3 .9 3.3 2.8 3.3 3.4 1.9zM152 488.3l0 1.5 38.7 .7 15.4-.6 8.2-1.6 5.6-3.3 2.3-3.2 1.4-6.6-.1-6.6-.6-3.3-1.5-3.3-3.2-3.3-4.3-1.8-7.8-1.4-15.4 0-38.7 1.6zM855.2 488.3l8.2 1.6 7.7 .6 54.2-.7 38.6 .7 15.5-.6 8.2-1.6 5.6-3.3 2.2-3.2 1-3.3 .4-9.9-.7-3.3-1.4-3.3-3.2-3.3-4.4-1.8-7.7-1.4-15.5 0-38.6 1.6-15.5-.1-38.7-1.7-7.7 .2-7.7 1.4-4.4 1.8-3.2 3.3-1.4 3.3-.7 3.3-.1 6.6 1.5 6.6 2.2 3.2zM1628.5 488.3l8.2 1.6 7.7 .6 46.4-.7 0-32.7-52.3-1.7-9.6 1.5-4.3 1.8-3.2 3.3-1.5 3.3-.8 6.6 .5 6.6 1 3.3 2.3 3.2zM513.2 393l10 2.3 7.7 .5 15.5-.5 7.7-1.5 2.2-.8 5-3.3 2.5-3.3 1.2-3.3 .4-3.3-.4-3.3-1.2-3.3-2.5-3.3-5-3.3-2.2-.8-7.7-1.5-7.8-.5-15.4 .5-7.8 1.5-2.2 .8-5.5 3.9-2 2.7-1.2 3.3-.4 3.3 .4 3.3 1.2 3.3 2.5 3.3zM1286.5 393l9.9 2.3 7.8 .5 15.4-.5 7.8-1.5 2.2-.8 5-3.3 2.5-3.3 1.2-3.3 .4-3.3-.4-3.3-1.2-3.3-2.5-3.3-5-3.3-2.2-.8-7.8-1.5-7.7-.5-15.5 .5-7.7 1.5-2.2 .8-5.5 3.9-2 2.7-1.2 3.3-.4 3.3 .4 3.3 1.2 3.3 2.5 3.3zM194.3 304.2l11.8-.1 7.8-1.4 4.3-1.8 3.2-3.3 1.5-3.3 .6-3.3 .1-6.6-1.4-6.6-2.3-3.2-5.6-3.3-8.2-1.6-15.4-.6-38.7 .7 0 32.7zM865.2 304.2l60.1-1.7 46.4 1.8 7.7-.2 7.7-1.4 4.4-1.8 3.4-3.7 1.9-6.2-.4-9.9-1-3.3-2.2-3.2-5.6-3.3-8.2-1.6-15.5-.6-38.6 .7-46.4-.7-15.5 .6-8.2 1.6-5.6 3.3-2.2 3.2-1 3.3-.6 6.6 .9 6.6 1.4 3.3 3.2 3.3 4.4 1.8zM1638.5 304.2l52.3-1.7 0-32.7-38.7-.7-15.4 .6-8.2 1.6-5.6 3.3-2.3 3.2-1.4 6.6 .1 6.6 .6 3.3 1.5 3.3 3.2 3.3 4.3 1.8zM516.8 281.1l6.4 1.5 7.7 .7 15.5-.7 7.7-2 4.4-2.8 2.2-3.2 .5-3.3-.9-3.3-2.8-3.3-3.4-1.9-4.5-1.4-11-1.4-7.7 0-11 1.4-4.5 1.4-3.3 1.9-2.9 3.3-.9 3.3 .5 3.3 2.3 3.2zM1290.1 281.1l6.3 1.5 7.8 .7 15.4-.7 7.8-2 4.3-2.8 2.3-3.2 .5-3.3-.9-3.3-2.9-3.3-3.3-1.9-4.5-1.4-11-1.4-7.7 0-11 1.4-4.5 1.4-3.4 1.9-2.8 3.3-.9 3.3 .5 3.3 2.2 3.2zM180.9 116.7l25.2 1.3 9.1-1.3 5.2-3.3 1.9-3.3 1.3-6.6-.2-6.6-.7-3.2-1.7-3.3-3.9-3.3-11-3.3-15.4-1.2-38.7-.1 0 32.7zM854.3 116.7l9.1 1.3 7.7 0 31-2.3 23.2-.5 15.4 .5 31 2.3 7.7 0 7.7-.9 6.5-3.7 2-3.3 1.2-6.6-.1-6.6-.8-3.2-1.7-3.3-3.8-3.3-10.8-3.3-7.9-.8-15.5-.6-69.6 0-15.5 .6-7.7 .8-11 3.3-3.8 3.3-1.7 3.3-.8 3.2-.1 6.6 1.2 6.6 2 3.3zM1627.6 116.7l9.1 1.3 7.7 0 30.9-2.3 15.5-.5 0-32.7-30.9-.1-15.5 .6-7.9 .8-10.8 3.3-3.9 3.3-1.7 3.3-.7 3.2-.2 6.6 1.3 6.6 1.9 3.3z"/></g>
<g fill="#b2b2b2"><path id="f6" d="M152 672.5l0 2.3 15.5-.2 15.4-.8 10.4-1.3 5.1-1.4 4.5-1.9 3.7-3.3 1.6-3.2 .4-3.3-.4-3.3-1.4-3.3-3.7-3.3-4.7-1.8-7.7-1.2-7.8-.2-30.9 .5zM876.2 672.5l18.1 1.8 23.2 .5 31-.5 15.4-1.3 7.8-1.9 4.5-1.9 3.2-2.8 2.1-3.7 .4-3.3-.4-3.3-1.5-3.3-3.6-3.3-4.7-1.8-7.8-1.2-46.4 .3-30.9-.5-7.7 .2-7.8 1.2-4.7 1.8-3.6 3.3-1.5 3.3-.4 3.3 .4 3.3 1.6 3.2 3.7 3.3zM1649.5 672.5l18.1 1.8 23.2 .5 0-28-38.7-.3-7.7 1.2-4.7 1.8-3.7 3.3-1.4 3.3-.4 3.3 .4 3.3 1.6 3.2 3.7 3.3zM529.3 494.9l9.3 .3 7.8-2 2.5-1.6 1.9-3.3-1.1-3.3-3.3-2.4-7.8-1.9-7.7 0-7.7 1.9-3.4 2.4-1.1 3.3 1.9 3.3 2.6 1.6zM1302.6 494.9l9.3 .3 7.7-2 2.6-1.6 1.9-3.3-1.1-3.3-3.4-2.4-7.7-1.9-7.7 0-7.8 1.9-3.3 2.4-1.1 3.3 1.9 3.3 2.5 1.6zM152 485l0 2.5 30.9-.5 14.9-2 6.9-3.2 2.7-3.3 1.1-3.3 .1-3.3-.7-3.3-2-3.3-5-3.3-10.2-2.1-15.5-.6-23.2 .1zM871.8 485l14.8 2 15.5 .4 46.4-.1 15.4-1 7.8-1.4 6.3-3.1 2.7-3.3 1-3.3 .2-3.3-.7-3.3-2-3.3-5-3.3-10.3-2.1-15.4-.6-54.2 0-15.4 .6-10.3 2.1-5 3.3-2 3.3-.7 3.3 .2 3.3 1 3.3 2.7 3.3zM1645 485l14.9 2 30.9 .5 0-28.1-30.9 0-7.8 .5-10.2 2.1-5 3.3-2 3.3-.7 3.3 .1 3.3 1.1 3.3 2.7 3.3zM518.4 389.7l4.8 1.6 7.7 1.1 7.7 0 7.8-1.1 4.7-1.6 4.8-3.3 2-3.3 .6-3.3-.6-3.3-2-3.3-1.8-1.5-3-1.8-4.7-1.6-7.8-1.1-7.7 0-7.7 1.1-4.8 1.6-3 1.8-1.7 1.5-2 3.3-.6 3.3 .6 3.3 2 3.3zM1291.7 389.7l4.7 1.6 7.8 1.1 7.7 0 7.7-1.1 4.8-1.6 4.7-3.3 2-3.3 .6-3.3-.6-3.3-2-3.3-1.7-1.5-3-1.8-4.8-1.6-7.7-1.1-7.7 0-7.8 1.1-4.7 1.6-3 1.8-1.8 1.5-2 3.3-.6 3.3 .6 3.3 2 3.3zM152 297.6l0 2.6 30.9 0 7.8-.5 7.7-1.3 2.5-.8 5-3.3 2-3.3 .7-3.3-.1-3.3-1.1-3.3-2.7-3.3-6.9-3.2-14.9-2-30.9-.5zM868.6 297.6l10.3 2.1 7.7 .5 61.9 .1 15.4-.6 10.3-2.1 5-3.3 2-3.3 .7-3.3-.2-3.3-1-3.3-2.7-3.3-6.3-3.1-7.8-1.4-15.4-1-23.2-.2-31 .2-15.4 1-7.8 1.4-6.3 3.1-2.7 3.3-1 3.3-.2 3.3 .7 3.3 2 3.3zM1641.9 297.6l10.2 2.1 7.8 .5 30.9 0 0-28.1-23.2 .2-15.5 1-7.7 1.4-6.3 3.1-2.7 3.3-1.1 3.3-.1 3.3 .7 3.3 2 3.3zM525.6 277.8l5.3 1.1 7.7 0 5.3-1.1 2.5-.8 3.3-2.4 1.1-3.3-1.9-3.3-2.5-1.6-7.8-2-9.3 .3-6.1 1.7-2.6 1.6-1.9 3.3 1.1 3.3 3.4 2.4zM1298.9 277.8l5.3 1.1 7.7 0 5.3-1.1 2.4-.8 3.4-2.4 1.1-3.3-1.9-3.3-2.6-1.6-7.7-2-9.3 .3-6.2 1.7-2.5 1.6-1.9 3.3 1.1 3.3 3.3 2.4zM152 110.1l0 2.7 30.9 .5 7.8-.2 7.7-1.2 4.7-1.8 3.7-3.3 1.4-3.3 .4-3.3-.4-3.3-1.6-3.2-3.7-3.3-9.6-3.3-18.1-1.8-23.2-.5zM866.4 110.1l4.7 1.8 7.8 1.2 7.7 .2 30.9-.5 46.4 .3 7.8-1.2 4.7-1.8 3.6-3.3 1.5-3.3 .4-3.3-.4-3.3-1.6-3.2-3.7-3.3-4.5-1.9-7.8-1.9-15.4-1.3-15.5-.4-30.9 .1-15.5 .8-10.4 1.3-5.1 1.4-4.5 1.9-3.7 3.3-1.6 3.2-.4 3.3 .4 3.3 1.5 3.3zM1639.7 110.1l4.7 1.8 7.7 1.2 38.7-.3 0-28-30.9 1-10.4 1.3-9.6 3.3-3.7 3.3-1.6 3.2-.4 3.3 .4 3.3 1.4 3.3z"/></g>
<g fill="#a5a5a5"><path id="f7" d="M152 669.2l0 3.3 15.5-.6 15.4-2 2.9-.7 7-3.3 2.7-3.2 .6-3.3-1.2-3.3-3.8-3.3-8.2-2.3-8.9-1-22-.4zM883.7 669.2l10.6 2 15.5 1.1 23.2 0 15.5-1.1 10.6-2 7-3.3 2.7-3.2 .5-3.3-1.1-3.3-3.9-3.3-8.1-2.3-15.5-1.2-46.4 .3-7.7 .9-7.7 2.1-4.3 3.5-1.1 3.3 .5 3.3 2.7 3.2zM1657 669.2l10.6 2 23.2 1.3 0-23.4-23.2 .5-7.7 .9-8.2 2.3-3.8 3.3-1.2 3.3 .6 3.3 2.7 3.2zM152 485l23.2-.9 12.7-2.3 5.8-3.3 2.1-3.3 .2-3.3-1.6-3.3-3.7-2.7-7.8-2.4-15.4-1.5-15.5-.2zM909.6 485l31.1-.3 15.5-1.7 5-1.2 5.8-3.3 2.1-3.3 .2-3.3-1.6-3.3-4.8-3.3-6.7-1.8-7.7-1-15.5-.7-23.2 0-15.5 .7-7.7 1-6.7 1.8-4.8 3.3-1.6 3.3 .2 3.3 2.1 3.3 5.8 3.3 5 1.2 7.7 1.1zM1682.9 485l7.9 .2 0-23.4-15.5 .2-15.4 1.5-7.8 2.4-3.7 2.7-1.6 3.3 .2 3.3 2.1 3.3 5.8 3.3 12.7 2.3zM522.7 386.4l8.2 2.3 7.7 0 8.3-2.3 3.4-3.3 1-3.3-1-3.3-3.9-3.6-7.8-2-7.7 0-7.7 2-4 3.6-1 3.3 1 3.3zM1295.9 386.4l8.3 2.3 7.7 0 8.2-2.3 3.5-3.3 1-3.3-1-3.3-4-3.6-7.7-2-7.7 0-7.8 2-3.9 3.6-1 3.3 1 3.3zM152 297.6l23.2-.5 7.7-1 6.8-1.8 4.7-3.3 1.6-3.3-.2-3.3-2.1-3.3-3-1.9-2.8-1.4-5-1.2-15.4-1.7-15.5-.5zM902.2 297.6l38.4 0 15.6-1.5 6.7-1.8 4.8-3.3 1.6-3.3-.2-3.3-2.1-3.3-5.8-3.3-12.7-2.3-15.5-1-23.2 0-15.5 1-7.7 1.1-5 1.2-5.8 3.3-2.1 3.3-.2 3.3 1.6 3.3 4.8 3.3 6.7 1.8zM1675.4 297.6l15.4 .2 0-23.4-15.5 .5-15.4 1.7-5 1.2-2.8 1.4-3 1.9-2.1 3.3-.2 3.3 1.6 3.3 4.7 3.3 6.8 1.8zM152 110.1l0 .4 23.2-.5 7.7-.9 7.8-2.1 4.2-3.5 1.2-3.3-.6-3.3-2.7-3.2-7-3.3-2.9-.7-15.4-2-15.5-.6zM895.5 110.1l45.2 .2 15.5-1.2 8.1-2.3 3.9-3.3 1.1-3.3-.5-3.3-2.7-3.2-7-3.3-10.6-2-23.2-1.3-15.5 .2-15.5 1.1-10.6 2-7 3.3-2.7 3.2-.5 3.3 1.1 3.3 3.9 3.3 8.1 2.3zM1668.8 110.1l22 .4 0-23.4-23.2 1.3-10.6 2-7 3.3-2.7 3.2-.6 3.3 1.2 3.3 4.2 3.5 7.8 2.1z"/></g>
<g fill="#989898"><path id="f8" d="M152 669.2l0 .7 12.5-.7 10.7-2 4-1.3 3.7-2.6 .7-.6 .7-3.3-2.7-3.3-6.4-2.4-7.7-1.3-15.5-.7zM905 669.2l20.3 .7 15.4-1 11.7-3 4.5-3.2 .6-3.3-2.6-3.3-6.4-2.4-7.8-1.3-23.2-.7-18.8 1.1-4.4 .9-6.4 2.4-2.6 3.3 .6 3.3 4.5 3.2 3.9 1.3zM1678.3 669.2l12.5 .7 0-18.2-15.5 .7-7.7 1.3-6.4 2.4-2.7 3.3 .7 3.3 4.4 3.2 4 1.3zM152 481.8l0 .8 7.7-.3 7.8-.6 7.7-1.6 4.9-1.6 2.8-2.3 1.1-1 .2-3.3-3.2-3.3-5.8-2-7.7-1.5-15.5-.8zM902.6 481.8l22.7 .8 15.4-.9 7.8-1.6 4.9-1.6 3.8-3.3 .2-3.3-3.2-3.3-5.7-2-7.8-1.5-23.2-.8-16.9 1-6.3 1.3-5.7 2-3.2 3.3 .2 3.3 3.8 3.3 4.9 1.6zM1675.8 481.8l15 .8 0-18.3-15.5 .8-7.7 1.5-5.8 2-3.2 3.3 .2 3.3 3.9 3.3 4.9 1.6zM530.4 383.1l8.2 .2 2.9-3.5-2.9-3.5-7.7 0-2.8 3.5zM1303.6 383.1l8.3 .2 2.8-3.5-2.8-3.5-7.7 0-2.9 3.5zM152 294.3l0 1 7.7-.3 9.3-.7 6.2-1.3 5.8-2 1.9-1.9 1.3-1.4-.2-3.3-3.9-3.3-4.9-1.6-8.2-1.7-15-.8zM900.6 294.3l16.9 1 15.5-.3 9.2-.7 6.3-1.3 5.7-2 3.2-3.3-.2-3.3-3.8-3.3-4.9-1.6-8.3-1.7-22.7-.8-15.4 .9-7.8 1.6-4.9 1.6-3.8 3.3-.2 3.3 3.2 3.3 5.7 2zM1673.8 294.3l17 1 0-18.3-15 .8-8.2 1.7-4.9 1.6-3.9 3.3-.2 3.3 3.2 3.3 5.8 2zM152 106.8l0 1.1 7.7-.2 7.8-.5 7.7-1.3 6.4-2.4 2.7-3.3-.7-3.3-4.4-3.2-4-1.3-10.7-2-12.5-.7zM898.7 106.8l18.8 1.1 23.2-.7 7.8-1.3 6.4-2.4 2.6-3.3-.6-3.3-4.5-3.2-11.7-3-15.4-1-20.3 .7-10.7 2-3.9 1.3-4.5 3.2-.6 3.3 2.6 3.3 6.4 2.4zM1672 106.8l18.8 1.1 0-18.2-12.5 .7-10.7 2-4 1.3-4.4 3.2-.7 3.3 2.7 3.3 6.4 2.4z"/></g>
<g fill="#868686"><path id="f9" d="M152 665.9l0 .9 7.7-.6 7.8-2.1 3-1.4 .7-3.3-3.7-2.2-3.1-1.1-12.4-1.3zM908 665.9l9.5 .9 7.8 0 9.5-.9 8.9-3.2 .8-3.3-3.8-2.2-3.1-1.1-4.6-.7-15.5-.6-12.3 1.3-3.1 1.1-3.8 2.2 .8 3.3zM1681.2 665.9l9.6 .9 0-12-12.4 1.3-3.1 1.1-3.7 2.2 .7 3.3zM152 478.5l0 1 7.7-.6 7.8-2 3.3-1.7 .3-3.3-3.6-2-4-1.3-11.5-1.1zM907 478.5l10.5 1 7.8 0 10.5-1 4.9-1.6 3.4-1.7 .2-3.3-3.6-2-7.7-1.9-15.5-.5-11.5 1.1-3.9 1.3-3.6 2 .2 3.3 3.4 1.7zM1680.3 478.5l10.5 1 0-12-11.5 1.1-4 1.3-3.6 2 .3 3.3 3.3 1.7zM152 291l0 1.1 7.7-.5 7.8-1.9 3.6-2-.3-3.3-3.3-1.7-5-1.6-10.5-1zM906 291l11.5 1.1 7.8 0 11.5-1.1 3.9-1.3 3.6-2-.2-3.3-3.4-1.7-7.7-2-15.5-.6-10.5 1-4.9 1.6-3.4 1.7-.2 3.3 3.6 2zM1679.3 291l11.5 1.1 0-12-10.5 1-5 1.6-3.3 1.7-.3 3.3 3.6 2zM152 103.5l0 1.3 7.7-.6 4.7-.7 3.1-1.1 3.7-2.2-.7-3.3-8.9-3.2-9.6-.9zM905.2 103.5l12.3 1.3 15.5-.6 4.6-.7 3.1-1.1 3.8-2.2-.8-3.3-8.9-3.2-9.5-.9-15.5 .6-7.7 2.1-3 1.4-.8 3.3 3.8 2.2zM1678.4 103.5l12.4 1.3 0-12-9.6 .9-8.9 3.2-.7 3.3 3.7 2.2z"/></g>
</g>
<g id="matplotlib.axis_1">
<g id="xtick_1">
<g id="line2d_1">
<path d="M 54.72 255.13 L 54.72 18.32" clip-path="url(#p56011f0dc9)" style="fill: none; stroke: #b0b0b0; stroke-width: 0.8; stroke-linecap: square"/>
</g>
<g id="line2d_2">
<defs>
<path id="maa2cdcdc11" d="M 0 0 L 0 3.5" style="stroke: #000000; stroke-width: 0.8"/>
</defs>
<g>
<use xlink:href="#maa2cdcdc11" x="54.72" y="255.132" style="stroke: #000000; stroke-width: 0.8"/>
</g>
</g>
<g id="text_1">
<text style="font-size: 10px; font-family: 'DejaVu Sans', 'Liberation Sans', sans-serif; text-anchor: middle" x="54.72" y="270.052" transform="rotate(-0 54.72 270.052)">0.000</text>
</g>
</g>
<g id="xtick_2">
<g id="line2d_3">
<path d="M 147.51 255.13 L 147.51 18.32" clip-path="url(#p56011f0dc9)" style="fill: none; stroke: #b0b0b0; stroke-width: 0.8; stroke-linecap: square"/>
</g>
<g id="line2d_4">
<g>
<use xlink:href="#maa2cdcdc11" x="147.51196" y="255.132" style="stroke: #000000; stroke-width: 0.8"/>
</g>
</g>
<g id="text_2">
<text style="font-size: 10px; font-family: 'DejaVu Sans', 'Liberation Sans', sans-serif; text-anchor: middle" x="147.51196" y="270.052" transform="rotate(-0 147.51196 270.052)">1.042</text>
</g>
</g>
<g id="xtick_3">
<g id="line2d_5">
<path d="M 240.3 255.13 L 240.3 18.32" clip-path="url(#p56011f0dc9)" style="fill: none; stroke: #b0b0b0; stroke-width: 0.8; stroke-linecap: square"/>
</g>
<g id="line2d_6">
<g>
<use xlink:href="#maa2cdcdc11" x="240.30392" y="255.132" style="stroke: #000000; stroke-width: 0.8"/>
</g>
</g>
<g id="text_3">
<text style="font-size: 10px; font-family: 'DejaVu Sans', 'Liberation Sans', sans-serif; text-anchor: middle" x="240.30392" y="270.052" transform="rotate(-0 240.30392 270.052)">2.083</text>
</g>
</g>
<g id="xtick_4">
<g id="line2d_7">
<path d="M 333.1 255.13 L 333.1 18.32" clip-path="url(#p56011f0dc9)" style="fill: none; stroke: #b0b0b0; stroke-width: 0.8; stroke-linecap: square"/>
</g>
<g id="line2d_8">
<g>
<use xlink:href="#maa2cdcdc11" x="333.095879" y="255.132" style="stroke: #000000; stroke-width: 0.8"/>
</g>
</g>
<g id="text_4">
<text style="font-size: 10px; font-family: 'DejaVu Sans', 'Liberation Sans', sans-serif; text-anchor: middle" x="333.095879" y="270.052" transform="rotate(-0 333.095879 270.052)">3.125</text>
</g>
</g>
<g id="xtick_5">
<g id="line2d_9">
<path d="M 425.89 255.13 L 425.89 18.32" clip-path="url(#p56011f0dc9)" style="fill: none; stroke: #b0b0b0; stroke-width: 0.8; stroke-linecap: square"/>
</g>
<g id="line2d_10">
<g>
<use xlink:href="#maa2cdcdc11" x="425.887839" y="255.132" style="stroke: #000000; stroke-width: 0.8"/>
</g>
</g>
<g id="text_5">
<text style="font-size: 10px; font-family: 'DejaVu Sans', 'Liberation Sans', sans-serif; text-anchor: middle" x="425.887839" y="270.052" transform="rotate(-0 425.887839 270.052)">4.167</text>
</g>
</g>
<g id="xtick_6">
<g id="line2d_11">
<path d="M 518.68 255.13 L 518.68 18.32" clip-path="url(#p56011f0dc9)" style="fill: none; stroke: #b0b0b0; stroke-width: 0.8; stroke-linecap: square"/>
</g>
<g id="line2d_12">
<g>
<use xlink:href="#maa2cdcdc11" x="518.679799" y="255.132" style="stroke: #000000; stroke-width: 0.8"/>
</g>
</g>
<g id="text_6">
<text style="font-size: 10px; font-family: 'DejaVu Sans', 'Liberation Sans', sans-serif; text-anchor: middle" x="518.679799" y="270.052" transform="rotate(-0 518.679799 270.052)">5.208</text>
</g>
</g>
<g id="text_7">
<text style="font-size: 10px; font-family: 'DejaVu Sans', 'Liberation Sans', sans-serif; text-anchor: middle" x="331.704" y="284.132" transform="rotate(-0 331.704 284.132)">Time [s]</text>
</g>
<g id="text_8">
<text style="font-size: 10px; font-family: 'DejaVu Sans', 'Liberation Sans', sans-serif; text-anchor: end" x="608.688" y="283.132" transform="rotate(-0 608.688 283.132)">1e−11</text>
</g>
</g>
<g id="matplotlib.axis_2">
<g id="ytick_1">
<g id="line2d_13">
<path d="M 54.72 255.13 L 608.69 255.13" clip-path="url(#p56011f0dc9)" style="fill: none; stroke: #b0b0b0; stroke-width: 0.8; stroke-linecap: square"/>
</g>
<g id="line2d_14">
<defs>
<path id="m66de7558fd" d="M 0 0 L -3.5 0" style="stroke: #000000; stroke-width: 0.8"/>
</defs>
<g>
<use xlink:href="#m66de7558fd" x="54.72" y="255.132" style="stroke: #000000; stroke-width: 0.8"/>
</g>
</g>
<g id="text_9">
<text style="font-size: 10px; font-family: 'DejaVu Sans', 'Liberation Sans', sans-serif; text-anchor: end" x="47.72" y="259.092" transform="rotate(-0 47.72 259.092)">−0.20</text>
</g>
</g>
<g id="ytick_2">
<g id="line2d_15">
<path d="M 54.72 231.45 L 608.69 231.45" clip-path="url(#p56011f0dc9)" style="fill: none; stroke: #b0b0b0; stroke-width: 0.8; stroke-linecap: square"/>
</g>
<g id="line2d_16">
<g>
<use xlink:href="#m66de7558fd" x="54.72" y="231.4512" style="stroke: #000000; stroke-width: 0.8"/>
</g>
</g>
<g id="text_10">
<text style="font-size: 10px; font-family: 'DejaVu Sans', 'Liberation Sans', sans-serif; text-anchor: end" x="47.72" y="235.4112" transform="rotate(-0 47.72 235.4112)">−0.16</text>
</g>
</g>
<g id="ytick_3">
<g id="line2d_17">
<path d="M 54.72 207.77 L 608.69 207.77" clip-path="url(#p56011f0dc9)" style="fill: none; stroke: #b0b0b0; stroke-width: 0.8; stroke-linecap: square"/>
</g>
<g id="line2d_18">
<g>
<use xlink:href="#m66de7558fd" x="54.72" y="207.7704" style="stroke: #000000; stroke-width: 0.8"/>
</g>
</g>
<g id="text_11">
<text style="font-size: 10px; font-family: 'DejaVu Sans', 'Liberation Sans', sans-serif; text-anchor: end" x="47.72" y="211.7304" transform="rotate(-0 47.72 211.7304)">−0.12</text>
</g>
</g>
<g id="ytick_4">
<g id="line2d_19">
<path d="M 54.72 184.09 L 608.69 184.09" clip-path="url(#p56011f0dc9)" style="fill: none; stroke: #b0b0b0; stroke-width: 0.8; stroke-linecap: square"/>
</g>
<g id="line2d_20">
<g>
<use xlink:href="#m66de7558fd" x="54.72" y="184.0896" style="stroke: #000000; stroke-width: 0.8"/>
</g>
</g>
<g id="text_12">
<text style="font-size: 10px; font-family: 'DejaVu Sans', 'Liberation Sans', sans-serif; text-anchor: end" x="47.72" y="188.0496" transform="rotate(-0 47.72 188.0496)">−0.08</text>
</g>
</g>
<g id="ytick_5">
<g id="line2d_21">
<path d="M 54.72 160.41 L 608.69 160.41" clip-path="url(#p56011f0dc9)" style="fill: none; stroke: #b0b0b0; stroke-width: 0.8; stroke-linecap: square"/>
</g>
<g id="line2d_22">
<g>
<use xlink:href="#m66de7558fd" x="54.72" y="160.4088" style="stroke: #000000; stroke-width: 0.8"/>
</g>
</g>
<g id="text_13">
<text style="font-size: 10px; font-family: 'DejaVu Sans', 'Liberation Sans', sans-serif; text-anchor: end" x="47.72" y="164.3688" transform="rotate(-0 47.72 164.3688)">−0.04</text>
</g>
</g>
<g id="ytick_6">
<g id="line2d_23">
<path d="M 54.72 136.73 L 608.69 136.73" clip-path="url(#p56011f0dc9)" style="fill: none; stroke: #b0b0b0; stroke-width: 0.8; stroke-linecap: square"/>
</g>
<g id="line2d_24">
<g>
<use xlink:href="#m66de7558fd" x="54.72" y="136.728" style="stroke: #000000; stroke-width: 0.8"/>
</g>
</g>
<g id="text_14">
<text style="font-size: 10px; font-family: 'DejaVu Sans', 'Liberation Sans', sans-serif; text-anchor: end" x="47.72" y="140.688" transform="rotate(-0 47.72 140.688)">0.00</text>
</g>
</g>
<g id="ytick_7">
<g id="line2d_25">
<path d="M 54.72 113.05 L 608.69 113.05" clip-path="url(#p56011f0dc9)" style="fill: none; stroke: #b0b0b0; stroke-width: 0.8; stroke-linecap: square"/>
</g>
<g id="line2d_26">
<g>
<use xlink:href="#m66de7558fd" x="54.72" y="113.0472" style="stroke: #000000; stroke-width: 0.8"/>
</g>
</g>
<g id="text_15">
<text style="font-size: 10px; font-family: 'DejaVu Sans', 'Liberation Sans', sans-serif; text-anchor: end" x="47.72" y="117.0072" transform="rotate(-0 47.72 117.0072)">0.04</text>
</g>
</g>
<g id="ytick_8">
<g id="line2d_27">
<path d="M 54.72 89.37 L 608.69 89.37" clip-path="url(#p56011f0dc9)" style="fill: none; stroke: #b0b0b0; stroke-width: 0.8; stroke-linecap: square"/>
</g>
<g id="line2d_28">
<g>
<use xlink:href="#m66de7558fd" x="54.72" y="89.3664" style="stroke: #000000; stroke-width: 0.8"/>
</g>
</g>
<g id="text_16">
<text style="font-size: 10px; font-family: 'DejaVu Sans', 'Liberation Sans', sans-serif; text-anchor: end" x="47.72" y="93.3264" transform="rotate(-0 47.72 93.3264)">0.08</text>
</g>
</g>
<g id="ytick_9">
<g id="line2d_29">
<path d="M 54.72 65.69 L 608.69 65.69" clip-path="url(#p56011f0dc9)" style="fill: none; stroke: #b0b0b0; stroke-width: 0.8; stroke-linecap: square"/>
</g>
<g id="line2d_30">
<g>
<use xlink:href="#m66de7558fd" x="54.72" y="65.6856" style="stroke: #000000; stroke-width: 0.8"/>
</g>
</g>
<g id="text_17">
<text style="font-size: 10px; font-family: 'DejaVu Sans', 'Liberation Sans', sans-serif; text-anchor: end" x="47.72" y="69.6456" transform="rotate(-0 47.72 69.6456)">0.12</text>
</g>
</g>
<g id="ytick_10">
<g id="line2d_31">
<path d="M 54.72 42 L 608.69 42" clip-path="url(#p56011f0dc9)" style="fill: none; stroke: #b0b0b0; stroke-width: 0.8; stroke-linecap: square"/>
</g>
<g id="line2d_32">
<g>
<use xlink:href="#m66de7558fd" x="54.72" y="42.0048" style="stroke: #000000; stroke-width: 0.8"/>
</g>
</g>
<g id="text_18">
<text style="font-size: 10px; font-family: 'DejaVu Sans', 'Liberation Sans', sans-serif; text-anchor: end" x="47.72" y="45.9648" transform="rotate(-0 47.72 45.9648)">0.16</text>
</g>
</g>
<g id="ytick_11">
<g id="line2d_33">
<path d="M 54.72 18.32 L 608.69 18.32" clip-path="url(#p56011f0dc9)" style="fill: none; stroke: #b0b0b0; stroke-width: 0.8; stroke-linecap: square"/>
</g>
<g id="line2d_34">
<g>
<use xlink:href="#m66de7558fd" x="54.72" y="18.324" style="stroke: #000000; stroke-width: 0.8"/>
</g>
</g>
<g id="text_19">
<text style="font-size: 10px; font-family: 'DejaVu Sans', 'Liberation Sans', sans-serif; text-anchor: end" x="47.72" y="22.284" transform="rotate(-0 47.72 22.284)">0.20</text>
</g>
</g>
<g id="text_20">
<text style="font-size: 10px; font-family: 'DejaVu Sans', 'Liberation Sans', sans-serif; text-anchor: middle" x="10.87" y="136.728" transform="rotate(-90 10.87 136.728)">Amplitude [V]</text>
</g>
</g>
<g transform="scale(.36)" clip-path="url(#axc)" fill="none" stroke-linejoin="round">
<g stroke="#a0a0a0" stroke-width="1.39">
<use href="#f1"/>
<use href="#f2"/>
<use href="#f3"/>
<use href="#f4"/>
<use href="#f5"/>
<use href="#f6"/>
<use href="#f7"/>
<use href="#f8"/>
<use href="#f9"/>
</g>
<path stroke="#cccccc" stroke-width="1.39" d="M917.5 580.4l-4.1-3.3-3.6-1.6-1.9-1.6-13.6-6.5-3.8-3.4-3.9-2.1-.7-1.2 .7-.6 23.5-9.3 7.4-1.8 7.8 0 7.4 1.8 17.3 6.6 6.9 3.3-.7 1.2-3.9 2.1-3.8 3.4-13.6 6.5-1.9 1.6-3.6 1.6-4.1 3.3zM1690.8 580.4l-4.1-3.3-3.6-1.6-1.9-1.6-13.6-6.5-3.9-3.4-3.8-2.1-.7-1.2 6.8-3.3 17.3-6.6 7.5-1.8M152 549l7.5 1.8 17.3 6.6 6.8 3.3-.7 1.2-3.8 2.1-3.9 3.4-13.6 6.5-1.9 1.6-3.6 1.6-4.1 3.3M917.5 395.7l-23.2-10.9-7.7-3.8-1-1.2 1-1.2 7.7-3.8 23.2-10.9 7.8 0 23.2 10.9 7.7 3.8 1 1.2-1 1.2-7.7 3.8-23.2 10.9zM1690.8 395.7l-23.2-10.9-7.7-3.8-1-1.2 1-1.2 7.7-3.8 23.2-10.9M152 363.9l23.2 10.9 7.7 3.8 1 1.2-1 1.2-7.7 3.8-23.2 10.9M917.5 210.6l-7.4-1.8-17.3-6.6-6.9-3.3 .7-1.2 3.9-2.1 3.8-3.4 13.6-6.5 1.9-1.6 3.6-1.6 4.1-3.3 7.8 0 4.1 3.3 3.6 1.6 1.9 1.6 13.6 6.5 3.8 3.4 3.9 2.1 .7 1.2-6.9 3.3-17.3 6.6-7.4 1.8zM1690.8 210.6l-7.5-1.8-17.3-6.6-6.8-3.3 .7-1.2 3.8-2.1 3.9-3.4 13.6-6.5 1.9-1.6 3.6-1.6 4.1-3.3M152 179.2l4.1 3.3 3.6 1.6 1.9 1.6 13.6 6.5 3.9 3.4 3.8 2.1 .7 1.2-6.8 3.3-17.3 6.6-7.5 1.8M917.5 591.3l-15.4-7.5-10.3-6.7-12.9-6.5-3.9-3.3-11.6-6.4-.6-3.5 8-3.3 15.8-4.8 22.6-8.3 8.3-1.9 7.8 0 8.3 1.9 22.6 8.3 15.8 4.8 8 3.3-.6 3.5-11.6 6.4-3.9 3.3-12.9 6.5-10.3 6.7-15.4 7.5zM1690.8 591.3l-15.5-7.5-10.2-6.7-13-6.5-3.9-3.3-11.5-6.4-.6-3.5 8-3.3 15.8-4.8 22.5-8.3 8.4-1.9M152 539.1l8.4 1.9 22.5 8.3 15.8 4.8 8 3.3-.6 3.5-11.5 6.4-3.9 3.3-13 6.5-10.2 6.7-15.5 7.5M917.5 406.4l-46.4-20.3-7.7-4.1-1.7-2.2 1.7-2.2 7.7-4.1 38.7-17.2 7.7-3.1 8.7 .3 45.5 20 7.7 4.1 1.7 2.2-1.7 2.2-7.7 4.1-38.7 17.2-7.7 3.1zM1690.8 406.4l-46.4-20.3-7.7-4.1-1.7-2.2 1.7-2.2 7.7-4.1 46.4-20.3M152 353.2l46.4 20.3 7.7 4.1 1.7 2.2-1.7 2.2-7.7 4.1-46.4 20.3M909.8 218.8l-23.2-8.5-15.8-4.8-7.4-3-.6-.3 .4-3.3 11.8-6.6 3.9-3.3 12.9-6.5 10.3-6.7 15.4-7.5 7.8 0 15.4 7.5 10.3 6.7 12.9 6.5 3.9 3.3 11.8 6.6 .4 3.3-.6 .3-7.4 3-23.5 7.5-14.9 5.6-8.3 1.9-7.8 0zM1690.8 220.5l-8.4-1.9-22.5-8.3-15.8-4.8-8-3.3 .6-3.5 11.5-6.4 3.9-3.3 13-6.5 10.2-6.7 15.5-7.5M152 168.3l15.5 7.5 10.2 6.7 13 6.5 3.9 3.3 11.5 6.4 .6 3.5-8 3.3-15.8 4.8-22.5 8.3-8.4 1.9M515.4 658.3l-6.5-2.2 22-6.8 8.6 .2 21.2 6.6-6.6 2.2-7.7 .5zM1288.7 658.3l-6.6-2.2 22.1-6.8 8.6 .2 21.1 6.6-6.5 2.2-7.8 .5zM909.8 603.8l-15.5-7-11.1-6.5-12.1-6.3-10.6-6.9-12.6-7-3.4-2.8-12-7.3-2.1-2.6 .6-3.3 8-3.3 24.4-7.9 23.7-8.5 22.6-6.6 7.8-.6 15.5 .6 11.8 3.3 49.6 16.4 17.4 6.6 .6 3.3-2.1 2.6-12 7.3-3.4 2.8-12.6 7-10.6 6.9-12.1 6.3-11.1 6.5-14.6 6.7-8.6 2.4-7.8 0zM1690.8 605.9l-8.6-2.4-14.6-6.7-11.1-6.5-12.1-6.3-10.7-6.9-12.5-7-3.4-2.8-12.1-7.3-2.1-2.6 .7-3.3 17.3-6.6 49.6-16.4 11.8-3.3 7.8-.6M152 527.2l7.8 .6 11.8 3.3 49.6 16.4 17.3 6.6 .7 3.3-2.1 2.6-12.1 7.3-3.4 2.8-12.5 7-10.7 6.9-12.1 6.3-11.1 6.5-14.6 6.7-8.6 2.4M917.5 419.4l-13.5-3.4-17.4-7-54.1-25.3-3.8-3.9 3.8-3.9 38.6-18.3 24.2-10.7 8.7-3.3 13.5-3.4 9.3 .1 12 3.3 17.4 7 46.4 21.6 8.7 4.3 2.8 3.3-3.8 3.9-38.6 18.3-24.2 10.7-8.7 3.3-12 3.3zM1690.8 419.4l-13.5-3.4-17.4-7-54.2-25.3-3.7-3.9 3.7-3.9 54.2-25.3 17.4-7 13.5-3.4M152 340.2l13.5 3.4 17.4 7 54.2 25.3 3.7 3.9-3.7 3.9-54.2 25.3-17.4 7-13.5 3.4M909.8 231.8l-22.7-6.6-23.7-8.5-24.4-7.9-8-3.3-.6-3.3 2.1-2.6 12-7.3 3.4-2.8 12.6-7 10.6-6.9 12.1-6.3 11.1-6.5 15.5-7 7.7-2.1 7.8 0 7.7 2.1 7.7 3.3 7.8 3.7 11.1 6.5 12.1 6.3 10.6 6.9 12.6 7 3.4 2.8 12 7.3 2.1 2.6-.6 3.3-8 3.3-59 19.7-11.8 3.3-7.7 .6zM1690.8 232.4l-7.8-.6-11.8-3.3-49.6-16.4-17.3-6.6-.7-3.3 2.1-2.6 12.1-7.3 3.4-2.8 12.5-7 10.7-6.9 12.1-6.3 11.1-6.5 14.6-6.7 8.6-2.4M152 153.7l8.6 2.4 14.6 6.7 11.1 6.5 12.1 6.3 10.7 6.9 12.5 7 3.4 2.8 12.1 7.3 2.1 2.6-.7 3.3-17.3 6.6-49.6 16.4-11.8 3.3-7.8 .6M530.9 110.3l-22-6.8 6.5-2.2 31-.5 7.7 .5 6.6 2.2-21.2 6.6zM1304.2 110.3l-22.1-6.8 6.6-2.2 30.9-.5 7.8 .5 6.5 2.2-21.1 6.6zM833.8 708.7l49.6-9.9 24.2-3.3 9.9-.4 17.7 .4 24.2 3.3 49.6 9.9zM1607.1 708.7l49.6-9.9 24.2-3.3 9.9-.4M152 695.1l9.9 .4 24.2 3.3 49.6 9.9M445.8 676l-42-3.5-8.3-3.3 4.4-3.3 61.4-18.6 54.1-17.3 15.5-2.7 7.7 0 15.5 2.7 54.1 17.3 51.6 15.4 9.9 3.2 4.3 3.3-8.2 3.3-11.2 1.2-26.6 2.1-58.4 2.4-54.2 .4zM1219.1 676l-42.1-3.5-8.2-3.3 4.3-3.3 61.5-18.6 54.1-17.3 15.5-2.7 7.7 0 15.5 2.7 54.1 17.3 51.6 15.4 9.8 3.2 4.4 3.3-8.3 3.3-11.1 1.2-26.6 2.1-58.5 2.4-54.1 .4zM902.1 623.9l-14.4-4-8.8-3.2-23.2-10.5-23.2-12.4-23.2-14-15.5-10-15.5-11.1-3.6-4.6-.2-3.3 2.4-3.3 6.2-3.3 18.4-6.5 30.4-9.9 44.3-13.2 14.1-3.2 19.5-3.1 15.5-.5 7.7 .5 19.5 3.1 14.1 3.2 23.2 6.6 66.9 21.9 9.2 4.4 2.4 3.3-.2 3.3-3.6 4.6-7.8 5.9-15.4 10.3-31 18.9-23.2 12.4-15.1 7.1-16.9 6.6-11.1 3.3-11 2.1-7.7 .9-7.8 0zM1690.8 626.2l-15.5-2.3-14.3-4-16.9-6.6-22.9-11.1-15.5-8.4-15.4-9.2-31-20-9-7.2-2.3-3.3-.2-3.3 2.4-3.3 9.1-4.4 67-21.9 23.2-6.6 14-3.2 19.6-3.1 7.7-.5M414.9 600.6l-.5-.4 3.9-3.3 4.3-1.9 7.8-1.2 3.1 3.1-3.1 1.5-7.8 2.3zM646.9 600.7l-7.7-2.3-3.1-1.5 3.1-3.1 7.7 1.2 4.4 1.9 3.9 3.3-.6 .4zM1188.2 600.6l-.6-.4 3.9-3.3 4.4-1.9 7.7-1.2 3.1 3.1-3.1 1.5-7.7 2.3zM1420.2 600.7l-7.8-2.3-3.1-1.5 3.1-3.1 7.8 1.2 4.3 1.9 3.9 3.3-.5 .4zM530.9 564.7l-7.7-.9-15.5-4.6-4.4-1.8-5.8-3.3-2.3-3.3 .6-3.3 4.2-4.6 7.7-5.5 15.5-9.6 7.7-2.5 7.7 0 7.8 2.5 15.4 9.6 7.8 5.5 4.2 4.6 .6 3.3-2.4 3.3-5.8 3.3-8.6 3.3-11.2 3.1-7.8 .9zM1304.2 564.7l-7.8-.9-15.4-4.6-4.4-1.8-5.8-3.3-2.4-3.3 .6-3.3 4.2-4.6 7.8-5.5 15.4-9.6 7.8-2.5 7.7 0 7.7 2.5 15.5 9.6 7.7 5.5 4.2 4.6 .6 3.3-2.3 3.3-5.8 3.3-8.7 3.3-11.2 3.1-7.7 .9zM152 507.8l7.7 .5 19.6 3.1 14 3.2 23.2 6.6 67 21.9 9.1 4.4 2.4 3.3-.2 3.3-2.3 3.3-9 7.2-31 20-15.4 9.2-15.5 8.4-22.9 11.1-16.9 6.6-14.3 4-15.5 2.3M530.9 450.2l-7.7-3.4-1.3-1.2-2.2-3.3-.9-3.3 .5-3.3 3.9-6.4 5.5-3.5 2.2-1.2 7.7 0 7.8 4.7 2.2 3.1 1.7 3.3 .4 3.3-.9 3.3-3.4 4.5-4.2 2.1-3.6 1.3zM1304.2 450.2l-7.8-3.4-1.2-1.2-2.2-3.3-.9-3.3 .4-3.3 3.9-6.4 5.5-3.5 2.3-1.2 7.7 0 7.7 4.7 2.3 3.1 1.6 3.3 .5 3.3-.9 3.3-3.5 4.5-4.1 2.1-3.6 1.3zM917.5 439.1l-7.7-.8-15.5-2.7-21.6-6.5-17.7-6.5-30.3-13-30.9-14.9-15.3-8.3-3.2-3.3-1.3-3.3 1.3-3.3 3.2-3.3 7.6-4.4 23.2-11.5 37.7-17 25.7-9.8 22.1-6.6 21.6-3.3 8.9-.1 7.7 .8 15 2.6 11.8 3.3 19.6 6.6 16.4 6.5 30 13.3 23.2 11.3 15.3 8.3 3.2 3.3 1.3 3.3-1.3 3.3-3.2 3.3-7.6 4.4-23.2 11.5-37.7 17-25.7 9.8-22.1 6.6-15 2.6-7.7 .8zM1690.8 439.1l-7.7-.8-15.1-2.6-11.7-3.3-19.6-6.6-16.4-6.5-30-13.3-31-15.2-7.7-4.5-3.1-3.2-1.2-3.3 1.2-3.3 3.1-3.2 7.7-4.5 31-15.2 30-13.3 16.4-6.5 19.6-6.6 11.7-3.3 15.1-2.6 7.7-.8M530.9 335l-7.7-4.7-3.9-6.4-.5-3.3 .9-3.3 2.2-3.3 1.3-1.2 7.7-3.4 7.7 0 7.8 3.4 3.4 4.5 .9 3.3-.4 3.3-1.7 3.3-2.2 3.1-7.8 4.7zM1304.2 335l-7.8-4.7-3.9-6.4-.4-3.3 .9-3.3 2.2-3.3 1.2-1.2 7.8-3.4 7.7 0 7.7 3.4 3.5 4.5 .9 3.3-.5 3.3-1.6 3.3-2.3 3.1-7.7 4.7zM152 320.5l7.7 .8 15.1 2.6 11.7 3.3 19.6 6.6 16.4 6.5 30 13.3 31 15.2 7.7 4.5 3.1 3.2 1.2 3.3-1.2 3.3-3.1 3.2-7.7 4.5-31 15.2-30 13.3-16.4 6.5-19.6 6.6-11.7 3.3-15.1 2.6-7.7 .8M917.5 251.8l-7.7-.5-19.5-3.1-14.1-3.2-23.2-6.6-66.9-21.9-9.2-4.4-2.4-3.3 .2-3.3 3.6-4.6 15.5-11.1 23.2-14.8 15.5-9.2 23.2-12.4 15.1-7.1 16.9-6.6 11.1-3.3 11-2.1 7.7-.9 7.8 0 18.7 3 19.9 6.5 23.2 10.5 31 16.9 15.4 9.5 23.2 15.2 7.8 5.9 3.6 4.6 .2 3.3-2.4 3.3-6.2 3.3-18.4 6.5-51.5 16.5-23.2 6.6-14.1 3.2-19.5 3.1zM1690.8 251.8l-7.7-.5-19.6-3.1-14-3.2-23.2-6.6-67-21.9-9.1-4.4-2.4-3.3 .2-3.3 2.3-3.3 9-7.2 31-20 15.4-9.2 15.5-8.4 22.9-11.1 16.9-6.6 14.3-4 15.5-2.3M530.9 234.3l-7.7-2.5-15.5-9.6-9.2-6.8-2.7-3.3-.6-3.3 2.3-3.3 2.5-1.6 12-5 11.2-3.1 7.7-.9 7.7 0 7.8 .9 15.4 4.6 4.4 1.8 5.8 3.3 2.4 3.3-.6 3.3-4.2 4.6-7.8 5.5-15.4 9.6-7.8 2.5zM1304.2 234.3l-7.8-2.5-15.4-9.6-9.3-6.8-2.7-3.3-.6-3.3 2.4-3.3 2.4-1.6 12-5 11.2-3.1 7.8-.9 7.7 0 7.7 .9 15.5 4.6 4.4 1.8 5.8 3.3 2.3 3.3-.6 3.3-4.2 4.6-7.7 5.5-15.5 9.6-7.7 2.5zM422.6 164.6l-4.3-1.9-3.9-3.3 .5-.4 7.7-.1 7.8 2.3 3.1 1.5-3.1 3.1zM639.2 165.8l-3.1-3.1 3.1-1.5 7.7-2.3 7.7 .1 .6 .4-3.9 3.3-4.4 1.9zM1195.9 164.6l-4.4-1.9-3.9-3.3 .6-.4 7.7-.1 7.7 2.3 3.1 1.5-3.1 3.1zM1412.4 165.8l-3.1-3.1 3.1-1.5 7.8-2.3 7.7 .1 .5 .4-3.9 3.3-4.3 1.9zM152 133.4l15.5 2.3 14.3 4 16.9 6.6 22.9 11.1 15.5 8.4 15.4 9.2 31 20 9 7.2 2.3 3.3 .2 3.3-2.4 3.3-9.1 4.4-67 21.9-23.2 6.6-14 3.2-19.6 3.1-7.7 .5M523.2 131.3l-7.8-1.7-54.1-17.3-61.4-18.6-4.4-3.3 8.3-3.3 37.7-3.3 27.5-1.3 38.7-1.3 38.7-.3 38.6 1 43 1.9 37.8 3.3 8.2 3.3-4.3 3.3-9.9 3.2-51.6 15.4-54.1 17.3-15.5 2.7-7.7 0zM1296.4 131.3l-7.7-1.7-54.1-17.3-61.5-18.6-4.3-3.3 8.2-3.3 37.8-3.3 27.5-1.3 38.7-1.3 38.6-.3 38.7 1 43 1.9 37.7 3.3 8.3 3.3-4.4 3.3-9.8 3.2-51.6 15.4-54.1 17.3-15.5 2.7-7.7 0zM1690.8 64.5l-9.9-.4-24.2-3.3-49.6-9.9M235.7 50.9l-49.6 9.9-24.2 3.3-9.9 .4M1009 50.9l-49.6 9.9-24.2 3.3-9.9 .4-17.7-.4-24.2-3.3-49.6-9.9z"/>
<path stroke="#00ffff" stroke-width="4.17" d="M909.8 590.3l-25.8-13.2-28.9-16.4-4.8-3.3 5.4-2.8 54.1-16 7.7-1 56.7 16.5 5.2 2.1 1.9 1.2-4.8 3.3-22.9 13.2-18.6 9.8-13.3 6.6-4.2 1.9zM1690.8 592.2l-7.7-1.9-13.3-6.6-30.3-16.4-11.2-6.6-4.7-3.3 7-3.3 52.5-15.5 7.7-1M152 539.7l48.9 14.4 5.2 2.1 1.9 1.2-4.7 3.3-17.1 9.9-34.2 18.1"/>
<path stroke="#00dd00" stroke-width="4.17" d="M917.5 601.2l-7.7-1.6-25.3-12.6-18.1-9.9-22.4-13.1-10.6-6.6-2.8-3.3 9.3-3.3 34.8-9.8 35.1-10.6 7.7-.9 7.8 1.9 31.5 9.6 38.1 10.8 6 2.3-2.7 3.3-21.7 13.2-17.3 9.8-25 13.2-8.9 4.4zM1690.8 601.2l-7.7-1.6-25.3-12.6-18.1-9.9-22.5-13.1-10.5-6.6-2.9-3.3 9.4-3.3 34.7-9.8 35.2-10.6 7.7-.9M152 531.4l31.5 9.6 38.1 10.8 6.1 2.3-2.8 3.3-21.6 13.2-23.4 13.1-27.9 14.3"/>
<path stroke="#ffcc00" stroke-width="4.17" d="M917.5 613.4l-7.7-.9-7.7-3.1-19.7-9.2-25-13.2-28.3-16.4-20.8-13.2-4.6-3.3-1-3.3 9.2-3.3 35.9-9.8 54.3-16.1 7.7-1.9 7.7-.5 7.8 1.3 7.7 2.1 39.3 11.8 47.3 13.1 9.2 3.3-.9 3.3-4.7 3.3-26.2 16.5-22.8 13.1-18.6 9.9-20.2 9.8-10.1 4.5zM1690.8 613.4l-7.7-.9-7.8-3.1-19.7-9.2-25-13.2-28.2-16.4-20.8-13.2-4.7-3.3-.9-3.3 9.2-3.3 35.9-9.8 54.2-16.1 7.8-1.9 7.7-.5M152 520.5l58.5 17.2 35.8 9.8 9.3 3.3-1 3.3-4.6 3.3-31.8 19.7-17.3 9.9-18.6 9.9-14.8 7.3-15.5 7"/>
<path stroke="#ff9900" stroke-width="4.17" d="M902.1 628.2l-15.5-4.3-18.7-7.3-21-9.9-24.5-13.1-16.8-9.9-15.6-9.8-14.9-9.9-14-9.9-3.9-3.3-2-3.3 1.4-3.3 6.3-2.9 7.7-2.4 85.1-23.1 23.2-6 15.4-3.3 7.8-1.1 7.7-.7 7.7-.2 15.5 1.3 15.5 3.1 15.4 3.7 100.6 27.4 7.7 2.8 2.7 1.4 1.5 3.3-2.1 3.3-8.4 6.6-14.4 9.9-20.3 13.1-16.4 9.9-17.5 9.9-19.4 9.8-22.3 9.9-14.9 5.3-7.7 2.2-7.7 1.5-7.8 .7-7.7-.3zM1690.8 629.6l-7.7-.3-7.8-1.1-15.4-4.3-18.7-7.3-21-9.9-24.6-13.1-16.7-9.9-15.7-9.8-14.8-9.9-14-9.9-3.9-3.3-2.1-3.3 1.4-3.3 7.3-3.2 99.6-27.3 15.4-3.9 15.5-3.3 15.5-1.8 7.7-.2M152 504.9l15.5 2.3 23.2 5.4 100.5 27.4 7.7 2.8 2.8 1.4 1.5 3.3-2.2 3.3-3.9 3.3-18.8 13.2-31.2 19.7-23.1 13.2-19.3 9.8-22.4 9.9-14.8 5.3-7.8 2.2-7.7 1.5"/>
<path stroke="#00ffff" stroke-width="4.17" d="M917.5 407.2l-7.7-1.4-7.7-3.1-47-19.6-5.8-3.3 5.8-3.3 7.6-3.3 47.1-19.4 7.7-1.4 7.8 2.8 51.2 21.3 5.8 3.3-5.8 3.3-12.6 5.4-30.9 12.8zM1690.8 407.2l-7.7-1.4-7.8-3.1-47-19.6-5.8-3.3 5.8-3.3 47-19.6 7.8-3.1 7.7-1.4M152 355.2l51.2 21.3 5.8 3.3-5.8 3.3-51.2 21.3"/>
<path stroke="#00dd00" stroke-width="4.17" d="M909.8 414.6l-30.9-12.4-29.8-12.5-15.1-6.6-5.1-3.3 5.1-3.3 15.1-6.6 29.8-12.5 30.9-12.4 7.7-1.2 7.8 2.6 30.9 12.4 30.9 13.1 10.4 4.6 5 3.3-5 3.3-10.4 4.6-30.9 13.1-30.9 12.4-7.8 2.6zM1690.8 415.8l-7.7-1.2-23.2-9.2-52.6-22.3-5.1-3.3 5.1-3.3 52.6-22.3 23.2-9.2 7.7-1.2M152 346.4l30.9 12.4 31 13.1 10.4 4.6 4.9 3.3-4.9 3.3-10.4 4.6-31 13.1-30.9 12.4"/>
<path stroke="#ffcc00" stroke-width="4.17" d="M909.8 426.3l-7.7-2.5-15.5-5.8-45.1-18.5-37.2-16.4-3.9-3.3 3.9-3.3 14.5-6.6 36.9-15.8 34.2-13.8 12.2-4.5 7.7-2.5 7.7-.7 7.8 1.8 30.9 11.7 38.7 16 32.3 14.4 3.9 3.3-3.9 3.3-16.9 7.6-35.9 15.4-33.7 13.5-15.4 5.6-7.8 1.8zM1690.8 427l-7.7-.7-7.8-2.5-28.8-11.1-31.7-13.2-30.2-13.1-7-3.3-3.9-3.3 3.9-3.3 7-3.3 30.2-13.1 31.7-13.2 28.8-11.1 7.8-2.5 7.7-.7M152 334.4l30.9 11.7 38.7 16 32.3 14.4 4 3.3-4 3.3-32.3 14.4-38.7 16-30.9 11.7"/>
<path stroke="#ff9900" stroke-width="4.17" d="M917.5 442.3l-7.7-.2-7.7-.9-10.6-2.2-20.4-6-23.2-8.3-38.6-15.9-42.1-19.1-6.5-3.3-5-3.3-1.9-3.3 1.9-3.3 7.2-4.4 25.5-12 28.6-12.6 23.2-9.6 19.7-7.4 19-6.4 15.4-4.2 7.8-1.5 7.7-.9 7.7-.2 7.8 .5 7.7 1.2 7.7 1.8 15.5 4.4 24.2 8.6 37.7 15.2 39.2 17.6 14.9 7.5 3.6 2.4 1.9 3.3-1.9 3.3-5 3.3-6.6 3.3-38.4 17.6-38.7 16-23.2 8.5-15.4 5-15.5 3.8-7.7 1.2zM1690.8 442.3l-7.7-.2-7.8-.9-10.6-2.2-20.3-6-23.2-8.3-38.7-15.9-42.1-19.1-6.4-3.3-5-3.3-1.9-3.3 1.9-3.3 5-3.3 6.4-3.3 42.1-19.1 38.7-15.9 23.2-8.3 20.3-6 10.6-2.2 7.8-.9 7.7-.2M152 317.8l7.7 1.2 7.8 1.8 15.4 4.4 23.2 8.2 17.9 6.9 31.1 13.2 35.9 16.4 6.5 3.3 5.1 3.3 1.9 3.3-1.9 3.3-5.1 3.3-6.5 3.3-35.9 16.4-31.1 13.2-17.9 6.9-23.2 8.2-15.4 4.4-7.8 1.8-7.7 1.2"/>
<path stroke="#00ffff" stroke-width="4.17" d="M917.5 222l-7.7-1-52.5-15.5-7-3.3 4.8-3.3 11.1-6.6 30.3-16.4 13.3-6.6 7.7-1.9 11.1 5.2 25 13.1 22.9 13.2 4.8 3.3-1.9 1.2-5.2 2.1zM1690.8 222l-7.7-1-52.5-15.5-7-3.3 4.7-3.3 11.2-6.6 30.3-16.4 13.3-6.6 7.7-1.9M152 170.9l34.2 18.1 17.1 9.9 4.7 3.3-1.9 1.2-5.2 2.1-48.9 14.4"/>
<path stroke="#00dd00" stroke-width="4.17" d="M909.8 229.2l-35.1-10.6-34.8-9.8-9.3-3.3 2.8-3.3 27.2-16.5 23.9-13.1 25.3-12.6 7.7-1.6 7.8 3.2 8.9 4.4 19 9.9 23.3 13.1 21.7 13.2 2.7 3.3-6 2.3-38.1 10.8-31.5 9.6-7.8 1.9zM1690.8 230.1l-7.7-.9-35.2-10.6-34.7-9.8-9.4-3.3 2.9-3.3 10.5-6.6 22.5-13.1 18.1-9.9 25.3-12.6 7.7-1.6M152 161.6l27.9 14.3 23.4 13.1 21.6 13.2 2.8 3.3-6.1 2.3-38.1 10.8-31.5 9.6"/>
<path stroke="#ffcc00" stroke-width="4.17" d="M909.8 239.9l-7.7-1.9-54.3-16.1-35.9-9.8-9.2-3.3 1-3.3 4.6-3.3 20.8-13.2 16.6-9.8 23.9-13.2 12.8-6.6 13.7-6.5 13.7-5.8 7.7-.9 7.8 2.2 17.1 7.7 19.6 9.9 29.5 16.5 21.5 13.1 14.9 9.9 .9 3.3-9.2 3.3-35.8 9.8-58.5 17.2-7.8 1.3zM1690.8 240.4l-7.7-.5-7.8-1.9-54.2-16.1-35.9-9.8-9.2-3.3 .9-3.3 4.7-3.3 20.8-13.2 28.2-16.4 25-13.2 19.7-9.2 7.8-3.1 7.7-.9M152 148.4l15.5 7 14.8 7.3 18.6 9.9 17.3 9.9 31.8 19.7 4.6 3.3 1 3.3-9.3 3.3-35.8 9.8-58.5 17.2"/>
<path stroke="#ff9900" stroke-width="4.17" d="M909.8 254.9l-15.5-1.8-15.4-3.3-23.2-6-85.1-23.1-7.7-2.4-6.3-2.9-1.4-3.3 2-3.3 3.9-3.3 14-9.9 30.5-19.7 22.6-13.2 18.7-9.8 21-9.9 16.7-6.6 10.5-3.3 7-1.7 7.7-1.1 7.7-.3 7.8 .7 7.7 1.5 7.7 2.2 7.8 2.6 15 6 14.4 6.6 19.4 9.8 17.5 9.9 16.4 9.9 15.4 9.8 19.3 13.2 8.4 6.6 2.1 3.3-1.5 3.3-2.7 1.4-7.7 2.8-100.6 27.4-15.4 3.7-15.5 3.1-15.5 1.3zM1690.8 255.1l-7.7-.2-15.5-1.8-15.5-3.3-15.4-3.9-99.6-27.3-7.3-3.2-1.4-3.3 2.1-3.3 3.9-3.3 14-9.9 14.8-9.9 15.7-9.8 16.7-9.9 24.6-13.1 21-9.9 18.7-7.3 15.4-4.3 7.8-1.1 7.7-.3M152 130.7l7.7 1.5 7.8 2.2 14.8 5.3 22.4 9.9 19.3 9.8 23.1 13.2 31.2 19.7 18.8 13.2 3.9 3.3 2.2 3.3-1.5 3.3-2.8 1.4-7.7 2.8-100.5 27.4-23.2 5.4-15.5 2.3"/>
</g>
<g id="line2d_35">
<path d="M 323.23 72.91 L 342.97 72.91" clip-path="url(#p56011f0dc9)" style="fill: none; stroke: #ff0000; stroke-width: 1.5"/>
</g>
<g id="line2d_36">
<path d="M 333.1 78.83 L 333.1 66.99" clip-path="url(#p56011f0dc9)" style="fill: none; stroke: #ff0000; stroke-width: 1.5"/>
</g>
<g id="line2d_37">
<path d="M 323.23 136.73 L 342.97 136.73" clip-path="url(#p56011f0dc9)" style="fill: none; stroke: #ff0000; stroke-width: 1.5"/>
</g>
<g id="line2d_38">
<path d="M 333.1 142.65 L 333.1 130.81" clip-path="url(#p56011f0dc9)" style="fill: none; stroke: #ff0000; stroke-width: 1.5"/>
</g>
<g id="line2d_39">
<path d="M 323.23 201.97 L 342.97 201.97" clip-path="url(#p56011f0dc9)" style="fill: none; stroke: #ff0000; stroke-width: 1.5"/>
</g>
<g id="line2d_40">
<path d="M 333.1 207.89 L 333.1 196.05" clip-path="url(#p56011f0dc9)" style="fill: none; stroke: #ff0000; stroke-width: 1.5"/>
</g>
<g id="patch_3">
<path d="M 54.72 255.13 L 54.72 18.32" style="fill: none; stroke: #000000; stroke-width: 0.8; stroke-linejoin: miter; stroke-linecap: square"/>
</g>
<g id="patch_4">
<path d="M 608.69 255.13 L 608.69 18.32" style="fill: none; stroke: #000000; stroke-width: 0.8; stroke-linejoin: miter; stroke-linecap: square"/>
</g>
<g id="patch_5">
<path d="M 54.72 255.13 L 608.69 255.13" style="fill: none; stroke: #000000; stroke-width: 0.8; stroke-linejoin: miter; stroke-linecap: square"/>
</g>
<g id="patch_6">
<path d="M 54.72 18.32 L 608.69 18.32" style="fill: none; stroke: #000000; stroke-width: 0.8; stroke-linejoin: miter; stroke-linecap: square"/>
</g>
<g id="text_21">
<text style="font-size: 12px; font-family: 'DejaVu Sans', 'Liberation Sans', sans-serif; text-anchor: middle" x="331.704" y="12.324" transform="rotate(-0 331.704 12.324)">BER Plot</text>
</g>
<g id="legend_1">
<g id="patch_7">
<path d="M 504.93 86.64 L 601.69 86.64 Q 603.69 86.64 603.69 84.64 L 603.69 25.32 Q 603.69 23.32 601.69 23.32 L 504.93 23.32 Q 502.93 23.32 502.93 25.32 L 502.93 84.64 Q 502.93 86.64 504.93 86.64 z" style="fill: #ffffff; opacity: 0.8; stroke: #cccccc; stroke-linejoin: miter"/>
</g>
<g id="patch_8">
<path d="M 506.93 35.24 L 526.93 35.24 L 526.93 28.24 L 506.93 28.24 z" style="fill: #00ffff"/>
</g>
<g id="text_22">
<text style="font-size: 10px; font-family: 'DejaVu Sans', 'Liberation Sans', sans-serif; text-anchor: start" x="534.933" y="35.244" transform="rotate(-0 534.933 35.244)">BER: 1.0e-12</text>
</g>
<g id="patch_9">
<path d="M 506.93 50.32 L 526.93 50.32 L 526.93 43.32 L 506.93 43.32 z" style="fill: #00dd00"/>
</g>
<g id="text_23">
<text style="font-size: 10px; font-family: 'DejaVu Sans', 'Liberation Sans', sans-serif; text-anchor: start" x="534.933" y="50.324" transform="rotate(-0 534.933 50.324)">BER: 1.0e-9</text>
</g>
<g id="patch_10">
<path d="M 506.93 65.4 L 526.93 65.4 L 526.93 58.4 L 506.93 58.4 z" style="fill: #ffcc00"/>
</g>
<g id="text_24">
<text style="font-size: 10px; font-family: 'DejaVu Sans', 'Liberation Sans', sans-serif; text-anchor: start" x="534.933" y="65.404" transform="rotate(-0 534.933 65.404)">BER: 1.0e-6</text>
</g>
<g id="patch_11">
<path d="M 506.93 80.48 L 526.93 80.48 L 526.93 73.48 L 506.93 73.48 z" style="fill: #ff9900"/>
</g>
<g id="text_25">
<text style="font-size: 10px; font-family: 'DejaVu Sans', 'Liberation Sans', sans-serif; text-anchor: start" x="534.933" y="80.484" transform="rotate(-0 534.933 80.484)">BER: 1.0e-3</text>
</g>
</g>
</g>
<g id="axes_2">
<g id="patch_12">
<path d="M 639.4 255.13 L 651.17 255.13 L 651.17 18.32 L 639.4 18.32 z" style="fill: #ffffff"/>
</g>
<g id="QuadMesh_1">
<path d="M 639.4 255.13 L 651.17 255.13 L 651.17 243.29 L 639.4 243.29 L 639.4 255.13" clip-path="url(#p2ff49214a9)" style="fill: #f9f9f9; fill-opacity: 0.5"/>
<path d="M 639.4 243.29 L 651.17 243.29 L 651.17 231.45 L 639.4 231.45 L 639.4 243.29" clip-path="url(#p2ff49214a9)" style="fill: #ececec; fill-opacity: 0.5"/>
<path d="M 639.4 231.45 L 651.17 231.45 L 651.17 219.61 L 639.4 219.61 L 639.4 231.45" clip-path="url(#p2ff49214a9)" style="fill: #dfdfdf; fill-opacity: 0.5"/>
<path d="M 639.4 219.61 L 651.17 219.61 L 651.17 207.77 L 639.4 207.77 L 639.4 219.61" clip-path="url(#p2ff49214a9)" style="fill: #d3d3d3; fill-opacity: 0.5"/>
<path d="M 639.4 207.77 L 651.17 207.77 L 651.17 195.93 L 639.4 195.93 L 639.4 207.77" clip-path="url(#p2ff49214a9)" style="fill: #c6c6c6; fill-opacity: 0.5"/>
<path d="M 639.4 195.93 L 651.17 195.93 L 651.17 184.09 L 639.4 184.09 L 639.4 195.93" clip-path="url(#p2ff49214a9)" style="fill: #b9b9b9; fill-opacity: 0.5"/>
<path d="M 639.4 184.09 L 651.17 184.09 L 651.17 172.25 L 639.4 172.25 L 639.4 184.09" clip-path="url(#p2ff49214a9)" style="fill: #acacac; fill-opacity: 0.5"/>
<path d="M 639.4 172.25 L 651.17 172.25 L 651.17 160.41 L 639.4 160.41 L 639.4 172.25" clip-path="url(#p2ff49214a9)" style="fill: #9f9f9f; fill-opacity: 0.5"/>
<path d="M 639.4 160.41 L 651.17 160.41 L 651.17 148.57 L 639.4 148.57 L 639.4 160.41" clip-path="url(#p2ff49214a9)" style="fill: #939393; fill-opacity: 0.5"/>
<path d="M 639.4 148.57 L 651.17 148.57 L 651.17 136.73 L 639.4 136.73 L 639.4 148.57" clip-path="url(#p2ff49214a9)" style="fill: #868686; fill-opacity: 0.5"/>
<path d="M 639.4 136.73 L 651.17 136.73 L 651.17 124.89 L 639.4 124.89 L 639.4 136.73" clip-path="url(#p2ff49214a9)" style="fill: #797979; fill-opacity: 0.5"/>
<path d="M 639.4 124.89 L 651.17 124.89 L 651.17 113.05 L 639.4 113.05 L 639.4 124.89" clip-path="url(#p2ff49214a9)" style="fill: #6c6c6c; fill-opacity: 0.5"/>
<path d="M 639.4 113.05 L 651.17 113.05 L 651.17 101.21 L 639.4 101.21 L 639.4 113.05" clip-path="url(#p2ff49214a9)" style="fill: #5f5f5f; fill-opacity: 0.5"/>
<path d="M 639.4 101.21 L 651.17 101.21 L 651.17 89.37 L 639.4 89.37 L 639.4 101.21" clip-path="url(#p2ff49214a9)" style="fill: #535353; fill-opacity: 0.5"/>
<path d="M 639.4 89.37 L 651.17 89.37 L 651.17 77.53 L 639.4 77.53 L 639.4 89.37" clip-path="url(#p2ff49214a9)" style="fill: #464646; fill-opacity: 0.5"/>
<path d="M 639.4 77.53 L 651.17 77.53 L 651.17 65.69 L 639.4 65.69 L 639.4 77.53" clip-path="url(#p2ff49214a9)" style="fill: #393939; fill-opacity: 0.5"/>
<path d="M 639.4 65.69 L 651.17 65.69 L 651.17 53.85 L 639.4 53.85 L 639.4 65.69" clip-path="url(#p2ff49214a9)" style="fill: #2c2c2c; fill-opacity: 0.5"/>
<path d="M 639.4 53.85 L 651.17 53.85 L 651.17 42 L 639.4 42 L 639.4 53.85" clip-path="url(#p2ff49214a9)" style="fill: #1f1f1f; fill-opacity: 0.5"/>
<path d="M 639.4 42 L 651.17 42 L 651.17 30.16 L 639.4 30.16 L 639.4 42" clip-path="url(#p2ff49214a9)" style="fill: #131313; fill-opacity: 0.5"/>
<path d="M 639.4 30.16 L 651.17 30.16 L 651.17 18.32 L 639.4 18.32 L 639.4 30.16" clip-path="url(#p2ff49214a9)" style="fill: #060606; fill-opacity: 0.5"/>
</g>
<g id="matplotlib.axis_3"/>
<g id="matplotlib.axis_4">
<g id="ytick_12">
<g id="line2d_41">
<defs>
<path id="m8dfa9e68a6" d="M 0 0 L 3.5 0" style="stroke: #000000; stroke-width: 0.8"/>
</defs>
<g>
<use xlink:href="#m8dfa9e68a6" x="651.168" y="255.132" style="stroke: #000000; stroke-width: 0.8"/>
</g>
</g>
<g id="text_26">
<text style="font-size: 10px; font-family: 'DejaVu Sans', 'Liberation Sans', sans-serif; text-anchor: start" x="658.168" y="259.092" transform="rotate(-0 658.168 259.092)">0.000</text>
</g>
</g>
<g id="ytick_13">
<g id="line2d_42">
<g>
<use xlink:href="#m8dfa9e68a6" x="651.168" y="215.664" style="stroke: #000000; stroke-width: 0.8"/>
</g>
</g>
<g id="text_27">
<text style="font-size: 10px; font-family: 'DejaVu Sans', 'Liberation Sans', sans-serif; text-anchor: start" x="658.168" y="219.624" transform="rotate(-0 658.168 219.624)">0.005</text>
</g>
</g>
<g id="ytick_14">
<g id="line2d_43">
<g>
<use xlink:href="#m8dfa9e68a6" x="651.168" y="176.196" style="stroke: #000000; stroke-width: 0.8"/>
</g>
</g>
<g id="text_28">
<text style="font-size: 10px; font-family: 'DejaVu Sans', 'Liberation Sans', sans-serif; text-anchor: start" x="658.168" y="180.156" transform="rotate(-0 658.168 180.156)">0.010</text>
</g>
</g>
<g id="ytick_15">
<g id="line2d_44">
<g>
<use xlink:href="#m8dfa9e68a6" x="651.168" y="136.728" style="stroke: #000000; stroke-width: 0.8"/>
</g>
</g>
<g id="text_29">
<text style="font-size: 10px; font-family: 'DejaVu Sans', 'Liberation Sans', sans-serif; text-anchor: start" x="658.168" y="140.688" transform="rotate(-0 658.168 140.688)">0.015</text>
</g>
</g>
<g id="ytick_16">
<g id="line2d_45">
<g>
<use xlink:href="#m8dfa9e68a6" x="651.168" y="97.26" style="stroke: #000000; stroke-width: 0.8"/>
</g>
</g>
<g id="text_30">
<text style="font-size: 10px; font-family: 'DejaVu Sans', 'Liberation Sans', sans-serif; text-anchor: start" x="658.168" y="101.22" transform="rotate(-0 658.168 101.22)">0.020</text>
</g>
</g>
<g id="ytick_17">
<g id="line2d_46">
<g>
<use xlink:href="#m8dfa9e68a6" x="651.168" y="57.792" style="stroke: #000000; stroke-width: 0.8"/>
</g>
</g>
<g id="text_31">
<text style="font-size: 10px; font-family: 'DejaVu Sans', 'Liberation Sans', sans-serif; text-anchor: start" x="658.168" y="61.752" transform="rotate(-0 658.168 61.752)">0.025</text>
</g>
</g>
<g id="ytick_18">
<g id="line2d_47">
<g>
<use xlink:href="#m8dfa9e68a6" x="651.168" y="18.324" style="stroke: #000000; stroke-width: 0.8"/>
</g>
</g>
<g id="text_32">
<text style="font-size: 10px; font-family: 'DejaVu Sans', 'Liberation Sans', sans-serif; text-anchor: start" x="658.168" y="22.284" transform="rotate(-0 658.168 22.284)">0.030</text>
</g>
</g>
</g>
<g id="LineCollection_1"/>
<g id="patch_13">
<path d="M 639.4 255.13 L 645.28 255.13 L 651.17 255.13 L 651.17 18.32 L 645.28 18.32 L 639.4 18.32 L 639.4 255.13 z" style="fill: none; stroke: #000000; stroke-width: 0.8; stroke-linejoin: miter; stroke-linecap: square"/>
</g>
</g>
<g id="axes_3">
<g id="patch_14">
<path d="M 54.68 425.84 L 296.28 425.84 L 296.28 307.4 L 54.68 307.4 z" style="fill: #ffffff"/>
</g>
<g id="matplotlib.axis_5">
<g id="xtick_7">
<g id="line2d_48">
<path d="M 54.68 425.84 L 54.68 307.4" clip-path="url(#p06de93e62a)" style="fill: none; stroke: #b0b0b0; stroke-width: 0.8; stroke-linecap: square"/>
</g>
<g id="line2d_49">
<g>
<use xlink:href="#maa2cdcdc11" x="54.684" y="425.844" style="stroke: #000000; stroke-width: 0.8"/>
</g>
</g>
<g id="text_33">
<!-- $\mathdefault{10^{-12}}$ -->
<g transform="translate(41.236 442.308)">
<text>
<tspan x="0" y="-0.976562" style="font-size: 10px; font-family: 'DejaVu Sans', 'Liberation Sans', sans-serif">1</tspan>
<tspan x="6.362305" y="-0.976562" style="font-size: 10px; font-family: 'DejaVu Sans', 'Liberation Sans', sans-serif">0</tspan>
<tspan x="12.820312" y="-4.804688" style="font-size: 7px; font-family: 'DejaVu Sans', 'Liberation Sans', sans-serif">−</tspan>
<tspan x="18.685547" y="-4.804688" style="font-size: 7px; font-family: 'DejaVu Sans', 'Liberation Sans', sans-serif">1</tspan>
<tspan x="23.13916" y="-4.804688" style="font-size: 7px; font-family: 'DejaVu Sans', 'Liberation Sans', sans-serif">2</tspan>
</text>
</g>
</g>
</g>
<g id="xtick_8">
<g id="line2d_50">
<path d="M 115.08 425.84 L 115.08 307.4" clip-path="url(#p06de93e62a)" style="fill: none; stroke: #b0b0b0; stroke-width: 0.8; stroke-linecap: square"/>
</g>
<g id="line2d_51">
<g>
<use xlink:href="#maa2cdcdc11" x="115.083" y="425.844" style="stroke: #000000; stroke-width: 0.8"/>
</g>
</g>
<g id="text_34">
<!-- $\mathdefault{10^{-9}}$ -->
<g transform="translate(103.747 442.308)">
<text>
<tspan x="0" y="-0.976562" style="font-size: 10px; font-family: 'DejaVu Sans', 'Liberation Sans', sans-serif">1</tspan>
<tspan x="6.362305" y="-0.976562" style="font-size: 10px; font-family: 'DejaVu Sans', 'Liberation Sans', sans-serif">0</tspan>
<tspan x="12.820312" y="-4.804688" style="font-size: 7px; font-family: 'DejaVu Sans', 'Liberation Sans', sans-serif">−</tspan>
<tspan x="18.685547" y="-4.804688" style="font-size: 7px; font-family: 'DejaVu Sans', 'Liberation Sans', sans-serif">9</tspan>
</text>
</g>
</g>
</g>
<g id="xtick_9">
<g id="line2d_52">
<path d="M 175.48 425.84 L 175.48 307.4" clip-path="url(#p06de93e62a)" style="fill: none; stroke: #b0b0b0; stroke-width: 0.8; stroke-linecap: square"/>
</g>
<g id="line2d_53">
<g>
<use xlink:href="#maa2cdcdc11" x="175.482" y="425.844" style="stroke: #000000; stroke-width: 0.8"/>
</g>
</g>
<g id="text_35">
<!-- $\mathdefault{10^{-6}}$ -->
<g transform="translate(164.123 442.308)">
<text>
<tspan x="0" y="-0.976562" style="font-size: 10px; font-family: 'DejaVu Sans', 'Liberation Sans', sans-serif">1</tspan>
<tspan x="6.362305" y="-0.976562" style="font-size: 10px; font-family: 'DejaVu Sans', 'Liberation Sans', sans-serif">0</tspan>
<tspan x="12.820312" y="-4.804688" style="font-size: 7px; font-family: 'DejaVu Sans', 'Liberation Sans', sans-serif">−</tspan>
<tspan x="18.685547" y="-4.804688" style="font-size: 7px; font-family: 'DejaVu Sans', 'Liberation Sans', sans-serif">6</tspan>
</text>
</g>
</g>
</g>
<g id="xtick_10">
<g id="line2d_54">
<path d="M 235.88 425.84 L 235.88 307.4" clip-path="url(#p06de93e62a)" style="fill: none; stroke: #b0b0b0; stroke-width: 0.8; stroke-linecap: square"/>
</g>
<g id="line2d_55">
<g>
<use xlink:href="#maa2cdcdc11" x="235.881" y="425.844" style="stroke: #000000; stroke-width: 0.8"/>
</g>
</g>
<g id="text_36">
<!-- $\mathdefault{10^{-3}}$ -->
<g transform="translate(224.573 442.308)">
<text>
<tspan x="0" y="-0.976562" style="font-size: 10px; font-family: 'DejaVu Sans', 'Liberation Sans', sans-serif">1</tspan>
<tspan x="6.362305" y="-0.976562" style="font-size: 10px; font-family: 'DejaVu Sans', 'Liberation Sans', sans-serif">0</tspan>
<tspan x="12.820312" y="-4.804688" style="font-size: 7px; font-family: 'DejaVu Sans', 'Liberation Sans', sans-serif">−</tspan>
<tspan x="18.685547" y="-4.804688" style="font-size: 7px; font-family: 'DejaVu Sans', 'Liberation Sans', sans-serif">3</tspan>
</text>
</g>
</g>
</g>
<g id="xtick_11">
<g id="line2d_56">
<path d="M 296.28 425.84 L 296.28 307.4" clip-path="url(#p06de93e62a)" style="fill: none; stroke: #b0b0b0; stroke-width: 0.8; stroke-linecap: square"/>
</g>
<g id="line2d_57">
<g>
<use xlink:href="#maa2cdcdc11" x="296.28" y="425.844" style="stroke: #000000; stroke-width: 0.8"/>
</g>
</g>
<g id="text_37">
<!-- $\mathdefault{10^{0}}$ -->
<g transform="translate(287.879 442.308)">
<text>
<tspan x="0" y="-0.976562" style="font-size: 10px; font-family: 'DejaVu Sans', 'Liberation Sans', sans-serif">1</tspan>
<tspan x="6.362305" y="-0.976562" style="font-size: 10px; font-family: 'DejaVu Sans', 'Liberation Sans', sans-serif">0</tspan>
<tspan x="12.820312" y="-4.804688" style="font-size: 7px; font-family: 'DejaVu Sans', 'Liberation Sans', sans-serif">0</tspan>
</text>
</g>
</g>
</g>
<g id="text_38">
<text style="font-size: 10px; font-family: 'DejaVu Sans', 'Liberation Sans', sans-serif; text-anchor: middle" x="175.482" y="455.528" transform="rotate(-0 175.482 455.528)">BER</text>
</g>
</g>
<g id="matplotlib.axis_6">
<g id="ytick_19">
<g id="line2d_58">
<path d="M 54.68 425.84 L 296.28 425.84" clip-path="url(#p06de93e62a)" style="fill: none; stroke: #b0b0b0; stroke-width: 0.8; stroke-linecap: square"/>
</g>
<g id="line2d_59">
<g>
<use xlink:href="#m66de7558fd" x="54.684" y="425.844" style="stroke: #000000; stroke-width: 0.8"/>
</g>
</g>
<g id="text_39">
<text style="font-size: 10px; font-family: 'DejaVu Sans', 'Liberation Sans', sans-serif; text-anchor: end" x="47.684" y="429.804" transform="rotate(-0 47.684 429.804)">−0.2</text>
</g>
</g>
<g id="ytick_20">
<g id="line2d_60">
<path d="M 54.68 396.23 L 296.28 396.23" clip-path="url(#p06de93e62a)" style="fill: none; stroke: #b0b0b0; stroke-width: 0.8; stroke-linecap: square"/>
</g>
<g id="line2d_61">
<g>
<use xlink:href="#m66de7558fd" x="54.684" y="396.234" style="stroke: #000000; stroke-width: 0.8"/>
</g>
</g>
<g id="text_40">
<text style="font-size: 10px; font-family: 'DejaVu Sans', 'Liberation Sans', sans-serif; text-anchor: end" x="47.684" y="400.194" transform="rotate(-0 47.684 400.194)">−0.1</text>
</g>
</g>
<g id="ytick_21">
<g id="line2d_62">
<path d="M 54.68 366.62 L 296.28 366.62" clip-path="url(#p06de93e62a)" style="fill: none; stroke: #b0b0b0; stroke-width: 0.8; stroke-linecap: square"/>
</g>
<g id="line2d_63">
<g>
<use xlink:href="#m66de7558fd" x="54.684" y="366.624" style="stroke: #000000; stroke-width: 0.8"/>
</g>
</g>
<g id="text_41">
<text style="font-size: 10px; font-family: 'DejaVu Sans', 'Liberation Sans', sans-serif; text-anchor: end" x="47.684" y="370.584" transform="rotate(-0 47.684 370.584)">0.0</text>
</g>
</g>
<g id="ytick_22">
<g id="line2d_64">
<path d="M 54.68 337.01 L 296.28 337.01" clip-path="url(#p06de93e62a)" style="fill: none; stroke: #b0b0b0; stroke-width: 0.8; stroke-linecap: square"/>
</g>
<g id="line2d_65">
<g>
<use xlink:href="#m66de7558fd" x="54.684" y="337.014" style="stroke: #000000; stroke-width: 0.8"/>
</g>
</g>
<g id="text_42">
<text style="font-size: 10px; font-family: 'DejaVu Sans', 'Liberation Sans', sans-serif; text-anchor: end" x="47.684" y="340.974" transform="rotate(-0 47.684 340.974)">0.1</text>
</g>
</g>
<g id="ytick_23">
<g id="line2d_66">
<path d="M 54.68 307.4 L 296.28 307.4" clip-path="url(#p06de93e62a)" style="fill: none; stroke: #b0b0b0; stroke-width: 0.8; stroke-linecap: square"/>
</g>
<g id="line2d_67">
<g>
<use xlink:href="#m66de7558fd" x="54.684" y="307.404" style="stroke: #000000; stroke-width: 0.8"/>
</g>
</g>
<g id="text_43">
<text style="font-size: 10px; font-family: 'DejaVu Sans', 'Liberation Sans', sans-serif; text-anchor: end" x="47.684" y="311.364" transform="rotate(-0 47.684 311.364)">0.2</text>
</g>
</g>
<g id="text_44">
<text style="font-size: 10px; font-family: 'DejaVu Sans', 'Liberation Sans', sans-serif; text-anchor: middle" x="17.224" y="366.624" transform="rotate(-90 17.224 366.624)">Amplitude [V]</text>
</g>
</g>
<g id="line2d_68">
<path d="M 284.16 425.84 L 284.09 422.29 L 283.83 421.11 L 283.55 420.51 L 283.12 419.92 L 282.51 419.33 L 281.67 418.74 L 280.56 418.15 L 279.16 417.55 L 277.42 416.96 L 275.29 416.37 L 269.72 415.18 L 261.99 414 L 251.38 412.82 L 244.6 412.22 L 236.5 411.63 L 215.25 410.45 L 173.78 408.67 L 128.62 406.89 L 89.9 405.71 L 66.18 405.12 L 54.68 404.52 L 54.68 395.05 L 72.36 394.46 L 119.28 393.27 L 178.5 391.5 L 211.39 390.31 L 234.77 389.13 L 250.47 387.94 L 261.44 386.76 L 269.38 385.57 L 275.07 384.39 L 277.23 383.8 L 277.33 383.21 L 275.18 382.61 L 269.55 381.43 L 261.72 380.24 L 250.92 379.06 L 243.98 378.47 L 235.62 377.88 L 225.48 377.28 L 198.97 376.1 L 132.85 373.73 L 92.78 372.55 L 68.71 371.95 L 54.68 371.36 L 54.68 361.89 L 68.71 361.29 L 113.97 360.11 L 150.15 358.93 L 198.97 357.15 L 225.48 355.96 L 243.98 354.78 L 256.76 353.6 L 265.95 352.41 L 272.61 351.23 L 277.33 350.04 L 277.23 349.45 L 275.07 348.86 L 269.38 347.67 L 261.44 346.49 L 250.47 345.3 L 243.37 344.71 L 234.77 344.12 L 224.24 343.53 L 211.39 342.94 L 178.5 341.75 L 119.28 339.98 L 54.68 338.2 L 54.68 328.72 L 66.18 328.13 L 110.55 326.95 L 144.74 325.76 L 202.1 323.39 L 226.78 322.21 L 244.6 321.02 L 257.11 319.84 L 266.16 318.66 L 272.75 317.47 L 277.42 316.29 L 280.56 315.1 L 281.67 314.51 L 282.51 313.92 L 283.12 313.33 L 283.55 312.73 L 284 311.55 L 284.13 310.37 L 284.16 307.4 L 284.16 307.4" clip-path="url(#p06de93e62a)" style="fill: none; stroke: #1f77b4; stroke-width: 1.5; stroke-linecap: square"/>
</g>
<g id="patch_15">
<path d="M 54.68 425.84 L 54.68 307.4" style="fill: none; stroke: #000000; stroke-width: 0.8; stroke-linejoin: miter; stroke-linecap: square"/>
</g>
<g id="patch_16">
<path d="M 296.28 425.84 L 296.28 307.4" style="fill: none; stroke: #000000; stroke-width: 0.8; stroke-linejoin: miter; stroke-linecap: square"/>
</g>
<g id="patch_17">
<path d="M 54.68 425.84 L 296.28 425.84" style="fill: none; stroke: #000000; stroke-width: 0.8; stroke-linejoin: miter; stroke-linecap: square"/>
</g>
<g id="patch_18">
<path d="M 54.68 307.4 L 296.28 307.4" style="fill: none; stroke: #000000; stroke-width: 0.8; stroke-linejoin: miter; stroke-linecap: square"/>
</g>
<g id="text_45">
<text style="font-size: 12px; font-family: 'DejaVu Sans', 'Liberation Sans', sans-serif; text-anchor: middle" x="175.482" y="301.404" transform="rotate(-0 175.482 301.404)">Vertical Bathtub</text>
</g>
</g>
<g id="axes_4">
<g id="patch_19">
<path d="M 367.2 425.84 L 608.76 425.84 L 608.76 307.4 L 367.2 307.4 z" style="fill: #ffffff"/>
</g>
<g id="matplotlib.axis_7">
<g id="xtick_12">
<g id="line2d_69">
<path d="M 372.03 425.84 L 372.03 307.4" clip-path="url(#pee18b4a22f)" style="fill: none; stroke: #b0b0b0; stroke-width: 0.8; stroke-linecap: square"/>
</g>
<g id="line2d_70">
<g>
<use xlink:href="#maa2cdcdc11" x="372.0312" y="425.844" style="stroke: #000000; stroke-width: 0.8"/>
</g>
</g>
<g id="text_46">
<text style="font-size: 10px; font-family: 'DejaVu Sans', 'Liberation Sans', sans-serif; text-anchor: middle" x="372.0312" y="440.764" transform="rotate(-0 372.0312 440.764)">−1.5</text>
</g>
</g>
<g id="xtick_13">
<g id="line2d_71">
<path d="M 410.68 425.84 L 410.68 307.4" clip-path="url(#pee18b4a22f)" style="fill: none; stroke: #b0b0b0; stroke-width: 0.8; stroke-linecap: square"/>
</g>
<g id="line2d_72">
<g>
<use xlink:href="#maa2cdcdc11" x="410.6808" y="425.844" style="stroke: #000000; stroke-width: 0.8"/>
</g>
</g>
<g id="text_47">
<text style="font-size: 10px; font-family: 'DejaVu Sans', 'Liberation Sans', sans-serif; text-anchor: middle" x="410.6808" y="440.764" transform="rotate(-0 410.6808 440.764)">−1.0</text>
</g>
</g>
<g id="xtick_14">
<g id="line2d_73">
<path d="M 449.33 425.84 L 449.33 307.4" clip-path="url(#pee18b4a22f)" style="fill: none; stroke: #b0b0b0; stroke-width: 0.8; stroke-linecap: square"/>
</g>
<g id="line2d_74">
<g>
<use xlink:href="#maa2cdcdc11" x="449.3304" y="425.844" style="stroke: #000000; stroke-width: 0.8"/>
</g>
</g>
<g id="text_48">
<text style="font-size: 10px; font-family: 'DejaVu Sans', 'Liberation Sans', sans-serif; text-anchor: middle" x="449.3304" y="440.764" transform="rotate(-0 449.3304 440.764)">−0.5</text>
</g>
</g>
<g id="xtick_15">
<g id="line2d_75">
<path d="M 487.98 425.84 L 487.98 307.4" clip-path="url(#pee18b4a22f)" style="fill: none; stroke: #b0b0b0; stroke-width: 0.8; stroke-linecap: square"/>
</g>
<g id="line2d_76">
<g>
<use xlink:href="#maa2cdcdc11" x="487.98" y="425.844" style="stroke: #000000; stroke-width: 0.8"/>
</g>
</g>
<g id="text_49">
<text style="font-size: 10px; font-family: 'DejaVu Sans', 'Liberation Sans', sans-serif; text-anchor: middle" x="487.98" y="440.764" transform="rotate(-0 487.98 440.764)">0.0</text>
</g>
</g>
<g id="xtick_16">
<g id="line2d_77">
<path d="M 526.63 425.84 L 526.63 307.4" clip-path="url(#pee18b4a22f)" style="fill: none; stroke: #b0b0b0; stroke-width: 0.8; stroke-linecap: square"/>
</g>
<g id="line2d_78">
<g>
<use xlink:href="#maa2cdcdc11" x="526.6296" y="425.844" style="stroke: #000000; stroke-width: 0.8"/>
</g>
</g>
<g id="text_50">
<text style="font-size: 10px; font-family: 'DejaVu Sans', 'Liberation Sans', sans-serif; text-anchor: middle" x="526.6296" y="440.764" transform="rotate(-0 526.6296 440.764)">0.5</text>
</g>
</g>
<g id="xtick_17">
<g id="line2d_79">
<path d="M 565.28 425.84 L 565.28 307.4" clip-path="url(#pee18b4a22f)" style="fill: none; stroke: #b0b0b0; stroke-width: 0.8; stroke-linecap: square"/>
</g>
<g id="line2d_80">
<g>
<use xlink:href="#maa2cdcdc11" x="565.2792" y="425.844" style="stroke: #000000; stroke-width: 0.8"/>
</g>
</g>
<g id="text_51">
<text style="font-size: 10px; font-family: 'DejaVu Sans', 'Liberation Sans', sans-serif; text-anchor: middle" x="565.2792" y="440.764" transform="rotate(-0 565.2792 440.764)">1.0</text>
</g>
</g>
<g id="xtick_18">
<g id="line2d_81">
<path d="M 603.93 425.84 L 603.93 307.4" clip-path="url(#pee18b4a22f)" style="fill: none; stroke: #b0b0b0; stroke-width: 0.8; stroke-linecap: square"/>
</g>
<g id="line2d_82">
<g>
<use xlink:href="#maa2cdcdc11" x="603.9288" y="425.844" style="stroke: #000000; stroke-width: 0.8"/>
</g>
</g>
<g id="text_52">
<text style="font-size: 10px; font-family: 'DejaVu Sans', 'Liberation Sans', sans-serif; text-anchor: middle" x="603.9288" y="440.764" transform="rotate(-0 603.9288 440.764)">1.5</text>
</g>
</g>
<g id="text_53">
<text style="font-size: 10px; font-family: 'DejaVu Sans', 'Liberation Sans', sans-serif; text-anchor: middle" x="487.98" y="454.844" transform="rotate(-0 487.98 454.844)">Time [s]</text>
</g>
<g id="text_54">
<text style="font-size: 10px; font-family: 'DejaVu Sans', 'Liberation Sans', sans-serif; text-anchor: end" x="608.76" y="453.844" transform="rotate(-0 608.76 453.844)">1e−11</text>
</g>
</g>
<g id="matplotlib.axis_8">
<g id="ytick_24">
<g id="line2d_83">
<path d="M 367.2 425.84 L 608.76 425.84" clip-path="url(#pee18b4a22f)" style="fill: none; stroke: #b0b0b0; stroke-width: 0.8; stroke-linecap: square"/>
</g>
<g id="line2d_84">
<g>
<use xlink:href="#m66de7558fd" x="367.2" y="425.844" style="stroke: #000000; stroke-width: 0.8"/>
</g>
</g>
<g id="text_55">
<!-- $\mathdefault{10^{-12}}$ -->
<g transform="translate(332.964 431.006)">
<text>
<tspan x="0" y="-0.976562" style="font-size: 10px; font-family: 'DejaVu Sans', 'Liberation Sans', sans-serif">1</tspan>
<tspan x="6.362305" y="-0.976562" style="font-size: 10px; font-family: 'DejaVu Sans', 'Liberation Sans', sans-serif">0</tspan>
<tspan x="12.820312" y="-4.804688" style="font-size: 7px; font-family: 'DejaVu Sans', 'Liberation Sans', sans-serif">−</tspan>
<tspan x="18.685547" y="-4.804688" style="font-size: 7px; font-family: 'DejaVu Sans', 'Liberation Sans', sans-serif">1</tspan>
<tspan x="23.13916" y="-4.804688" style="font-size: 7px; font-family: 'DejaVu Sans', 'Liberation Sans', sans-serif">2</tspan>
</text>
</g>
</g>
</g>
<g id="ytick_25">
<g id="line2d_85">
<path d="M 367.2 396.23 L 608.76 396.23" clip-path="url(#pee18b4a22f)" style="fill: none; stroke: #b0b0b0; stroke-width: 0.8; stroke-linecap: square"/>
</g>
<g id="line2d_86">
<g>
<use xlink:href="#m66de7558fd" x="367.2" y="396.234" style="stroke: #000000; stroke-width: 0.8"/>
</g>
</g>
<g id="text_56">
<!-- $\mathdefault{10^{-9}}$ -->
<g transform="translate(337.188 401.396)">
<text>
<tspan x="0" y="-0.976562" style="font-size: 10px; font-family: 'DejaVu Sans', 'Liberation Sans', sans-serif">1</tspan>
<tspan x="6.362305" y="-0.976562" style="font-size: 10px; font-family: 'DejaVu Sans', 'Liberation Sans', sans-serif">0</tspan>
<tspan x="12.820312" y="-4.804688" style="font-size: 7px; font-family: 'DejaVu Sans', 'Liberation Sans', sans-serif">−</tspan>
<tspan x="18.685547" y="-4.804688" style="font-size: 7px; font-family: 'DejaVu Sans', 'Liberation Sans', sans-serif">9</tspan>
</text>
</g>
</g>
</g>
<g id="ytick_26">
<g id="line2d_87">
<path d="M 367.2 366.62 L 608.76 366.62" clip-path="url(#pee18b4a22f)" style="fill: none; stroke: #b0b0b0; stroke-width: 0.8; stroke-linecap: square"/>
</g>
<g id="line2d_88">
<g>
<use xlink:href="#m66de7558fd" x="367.2" y="366.624" style="stroke: #000000; stroke-width: 0.8"/>
</g>
</g>
<g id="text_57">
<!-- $\mathdefault{10^{-6}}$ -->
<g transform="translate(337.143 371.786)">
<text>
<tspan x="0" y="-0.976562" style="font-size: 10px; font-family: 'DejaVu Sans', 'Liberation Sans', sans-serif">1</tspan>
<tspan x="6.362305" y="-0.976562" style="font-size: 10px; font-family: 'DejaVu Sans', 'Liberation Sans', sans-serif">0</tspan>
<tspan x="12.820312" y="-4.804688" style="font-size: 7px; font-family: 'DejaVu Sans', 'Liberation Sans', sans-serif">−</tspan>
<tspan x="18.685547" y="-4.804688" style="font-size: 7px; font-family: 'DejaVu Sans', 'Liberation Sans', sans-serif">6</tspan>
</text>
</g>
</g>
</g>
<g id="ytick_27">
<g id="line2d_89">
<path d="M 367.2 337.01 L 608.76 337.01" clip-path="url(#pee18b4a22f)" style="fill: none; stroke: #b0b0b0; stroke-width: 0.8; stroke-linecap: square"/>
</g>
<g id="line2d_90">
<g>
<use xlink:href="#m66de7558fd" x="367.2" y="337.014" style="stroke: #000000; stroke-width: 0.8"/>
</g>
</g>
<g id="text_58">
<!-- $\mathdefault{10^{-3}}$ -->
<g transform="translate(337.244 342.176)">
<text>
<tspan x="0" y="-0.976562" style="font-size: 10px; font-family: 'DejaVu Sans', 'Liberation Sans', sans-serif">1</tspan>
<tspan x="6.362305" y="-0.976562" style="font-size: 10px; font-family: 'DejaVu Sans', 'Liberation Sans', sans-serif">0</tspan>
<tspan x="12.820312" y="-4.804688" style="font-size: 7px; font-family: 'DejaVu Sans', 'Liberation Sans', sans-serif">−</tspan>
<tspan x="18.685547" y="-4.804688" style="font-size: 7px; font-family: 'DejaVu Sans', 'Liberation Sans', sans-serif">3</tspan>
</text>
</g>
</g>
</g>
<g id="ytick_28">
<g id="line2d_91">
<path d="M 367.2 307.4 L 608.76 307.4" clip-path="url(#pee18b4a22f)" style="fill: none; stroke: #b0b0b0; stroke-width: 0.8; stroke-linecap: square"/>
</g>
<g id="line2d_92">
<g>
<use xlink:href="#m66de7558fd" x="367.2" y="307.404" style="stroke: #000000; stroke-width: 0.8"/>
</g>
</g>
<g id="text_59">
<!-- $\mathdefault{10^{0}}$ -->
<g transform="translate(343.059 312.566)">
<text>
<tspan x="0" y="-0.976562" style="font-size: 10px; font-family: 'DejaVu Sans', 'Liberation Sans', sans-serif">1</tspan>
<tspan x="6.362305" y="-0.976562" style="font-size: 10px; font-family: 'DejaVu Sans', 'Liberation Sans', sans-serif">0</tspan>
<tspan x="12.820312" y="-4.804688" style="font-size: 7px; font-family: 'DejaVu Sans', 'Liberation Sans', sans-serif">0</tspan>
</text>
</g>
</g>
</g>
<g id="text_60">
<text style="font-size: 10px; font-family: 'DejaVu Sans', 'Liberation Sans', sans-serif; text-anchor: middle" x="326.463786" y="366.624" transform="rotate(-90 326.463786 366.624)">BER</text>
</g>
</g>
<g id="line2d_93">
<path d="M 367.2 314.58 L 369.62 314.58 L 372.03 314.58 L 374.45 314.59 L 376.86 314.59 L 379.28 314.61 L 381.69 314.63 L 384.11 314.68 L 386.52 314.75 L 388.94 314.86 L 391.36 315.02 L 393.77 315.23 L 396.19 315.49 L 398.6 315.8 L 401.02 316.15 L 403.43 316.53 L 405.85 316.92 L 408.27 317.32 L 410.68 317.71 L 413.1 318.11 L 415.51 318.51 L 417.93 318.95 L 420.34 319.46 L 422.76 320.1 L 425.17 320.9 L 427.59 321.9 L 430.01 323.13 L 432.42 324.66 L 434.84 326.52 L 437.25 328.76 L 439.67 331.44 L 442.08 334.6 L 444.5 338.29 L 446.91 342.53 L 449.33 347.37 L 451.75 352.82 L 454.16 358.93 L 456.58 365.76 L 458.99 373.48 L 461.41 382.39 L 463.82 393.05 L 466.24 406.13 L 468.66 421.71 L 471.07 425.84 L 473.49 425.84 L 475.9 425.84 L 478.32 425.84 L 480.73 425.84 L 483.15 425.84 L 485.56 425.84 L 487.98 425.84 L 490.4 425.84 L 492.81 425.84 L 495.23 425.84 L 497.64 425.84 L 500.06 425.84 L 502.47 425.84 L 504.89 425.84 L 507.3 421.71 L 509.72 406.13 L 512.14 393.05 L 514.55 382.39 L 516.97 373.48 L 519.38 365.76 L 521.8 358.93 L 524.21 352.82 L 526.63 347.37 L 529.05 342.53 L 531.46 338.29 L 533.88 334.6 L 536.29 331.44 L 538.71 328.76 L 541.12 326.52 L 543.54 324.66 L 545.95 323.13 L 548.37 321.9 L 550.79 320.9 L 553.2 320.1 L 555.62 319.46 L 558.03 318.95 L 560.45 318.51 L 562.86 318.11 L 565.28 317.71 L 567.69 317.32 L 570.11 316.92 L 572.53 316.53 L 574.94 316.15 L 577.36 315.8 L 579.77 315.49 L 582.19 315.23 L 584.6 315.02 L 587.02 314.86 L 589.44 314.75 L 591.85 314.68 L 594.27 314.63 L 596.68 314.61 L 599.1 314.59 L 601.51 314.59 L 603.93 314.58 L 606.34 314.58 L 608.76 314.58" clip-path="url(#pee18b4a22f)" style="fill: none; stroke: #1f77b4; stroke-width: 1.5; stroke-linecap: square"/>
</g>
<g id="line2d_94">
<path d="M 367.2 314.97 L 369.62 315.01 L 372.03 315.13 L 374.45 315.29 L 376.86 315.48 L 379.28 315.67 L 381.69 315.84 L 384.11 315.98 L 386.52 316.09 L 388.94 316.18 L 391.36 316.24 L 393.77 316.27 L 396.19 316.3 L 398.6 316.32 L 401.02 316.35 L 403.43 316.4 L 405.85 316.49 L 408.27 316.66 L 410.68 316.92 L 413.1 317.3 L 415.51 317.79 L 417.93 318.42 L 420.34 319.19 L 422.76 320.13 L 425.17 321.25 L 427.59 322.62 L 430.01 324.26 L 432.42 326.23 L 434.84 328.57 L 437.25 331.31 L 439.67 334.48 L 442.08 338.12 L 444.5 342.24 L 446.91 346.88 L 449.33 352.06 L 451.75 357.81 L 454.16 364.16 L 456.58 371.2 L 458.99 379.04 L 461.41 387.88 L 463.82 397.97 L 466.24 409.64 L 468.66 423.06 L 471.07 425.84 L 473.49 425.84 L 475.9 425.84 L 478.32 425.84 L 480.73 425.84 L 483.15 425.84 L 485.56 425.84 L 487.98 425.84 L 490.4 425.84 L 492.81 425.84 L 495.23 425.84 L 497.64 425.84 L 500.06 425.84 L 502.47 425.84 L 504.89 425.84 L 507.3 423.06 L 509.72 409.64 L 512.14 397.97 L 514.55 387.88 L 516.97 379.04 L 519.38 371.2 L 521.8 364.16 L 524.21 357.81 L 526.63 352.06 L 529.05 346.88 L 531.46 342.24 L 533.88 338.12 L 536.29 334.48 L 538.71 331.31 L 541.12 328.57 L 543.54 326.23 L 545.95 324.26 L 548.37 322.62 L 550.79 321.25 L 553.2 320.13 L 555.62 319.19 L 558.03 318.42 L 560.45 317.79 L 562.86 317.3 L 565.28 316.92 L 567.69 316.66 L 570.11 316.49 L 572.53 316.4 L 574.94 316.35 L 577.36 316.32 L 579.77 316.3 L 582.19 316.27 L 584.6 316.24 L 587.02 316.18 L 589.44 316.09 L 591.85 315.98 L 594.27 315.84 L 596.68 315.67 L 599.1 315.48 L 601.51 315.29 L 603.93 315.13 L 606.34 315.01 L 608.76 314.97" clip-path="url(#pee18b4a22f)" style="fill: none; stroke: #ff7f0e; stroke-width: 1.5; stroke-linecap: square"/>
</g>
<g id="line2d_95">
<path d="M 367.2 314.58 L 369.62 314.58 L 372.03 314.59 L 374.45 314.59 L 376.86 314.61 L 379.28 314.63 L 381.69 314.67 L 384.11 314.73 L 386.52 314.81 L 388.94 314.92 L 391.36 315.08 L 393.77 315.28 L 396.19 315.53 L 398.6 315.83 L 401.02 316.16 L 403.43 316.54 L 405.85 316.94 L 408.27 317.35 L 410.68 317.77 L 413.1 318.17 L 415.51 318.57 L 417.93 318.98 L 420.34 319.44 L 422.76 319.97 L 425.17 320.65 L 427.59 321.49 L 430.01 322.55 L 432.42 323.87 L 434.84 325.5 L 437.25 327.49 L 439.67 329.88 L 442.08 332.73 L 444.5 336.08 L 446.91 339.96 L 449.33 344.4 L 451.75 349.44 L 454.16 355.11 L 456.58 361.45 L 458.99 368.56 L 461.41 376.62 L 463.82 386.02 L 466.24 397.39 L 468.66 411.46 L 471.07 425.84 L 473.49 425.84 L 475.9 425.84 L 478.32 425.84 L 480.73 425.84 L 483.15 425.84 L 485.56 425.84 L 487.98 425.84 L 490.4 425.84 L 492.81 425.84 L 495.23 425.84 L 497.64 425.84 L 500.06 425.84 L 502.47 425.84 L 504.89 425.84 L 507.3 411.46 L 509.72 397.39 L 512.14 386.02 L 514.55 376.62 L 516.97 368.56 L 519.38 361.45 L 521.8 355.11 L 524.21 349.44 L 526.63 344.4 L 529.05 339.96 L 531.46 336.08 L 533.88 332.73 L 536.29 329.88 L 538.71 327.49 L 541.12 325.5 L 543.54 323.87 L 545.95 322.55 L 548.37 321.49 L 550.79 320.65 L 553.2 319.97 L 555.62 319.44 L 558.03 318.98 L 560.45 318.57 L 562.86 318.17 L 565.28 317.77 L 567.69 317.35 L 570.11 316.94 L 572.53 316.54 L 574.94 316.16 L 577.36 315.83 L 579.77 315.53 L 582.19 315.28 L 584.6 315.08 L 587.02 314.92 L 589.44 314.81 L 591.85 314.73 L 594.27 314.67 L 596.68 314.63 L 599.1 314.61 L 601.51 314.59 L 603.93 314.59 L 606.34 314.58 L 608.76 314.58" clip-path="url(#pee18b4a22f)" style="fill: none; stroke: #2ca02c; stroke-width: 1.5; stroke-linecap: square"/>
</g>
<g id="patch_20">
<path d="M 367.2 425.84 L 367.2 307.4" style="fill: none; stroke: #000000; stroke-width: 0.8; stroke-linejoin: miter; stroke-linecap: square"/>
</g>
<g id="patch_21">
<path d="M 608.76 425.84 L 608.76 307.4" style="fill: none; stroke: #000000; stroke-width: 0.8; stroke-linejoin: miter; stroke-linecap: square"/>
</g>
<g id="patch_22">
<path d="M 367.2 425.84 L 608.76 425.84" style="fill: none; stroke: #000000; stroke-width: 0.8; stroke-linejoin: miter; stroke-linecap: square"/>
</g>
<g id="patch_23">
<path d="M 367.2 307.4 L 608.76 307.4" style="fill: none; stroke: #000000; stroke-width: 0.8; stroke-linejoin: miter; stroke-linecap: square"/>
</g>
<g id="text_61">
<text style="font-size: 12px; font-family: 'DejaVu Sans', 'Liberation Sans', sans-serif; text-anchor: middle" x="487.98" y="301.404" transform="rotate(-0 487.98 301.404)">Horizontal Bathtub</text>
</g>
<g id="legend_2">
<g id="patch_24">
<path d="M 374.2 420.84 L 437.52 420.84 Q 439.52 420.84 439.52 418.84 L 439.52 374.6 Q 439.52 372.6 437.52 372.6 L 374.2 372.6 Q 372.2 372.6 372.2 374.6 L 372.2 418.84 Q 372.2 420.84 374.2 420.84 z" style="fill: #ffffff; opacity: 0.8; stroke: #cccccc; stroke-linejoin: miter"/>
</g>
<g id="line2d_96">
<path d="M 376.2 381.02 L 386.2 381.02 L 396.2 381.02" style="fill: none; stroke: #1f77b4; stroke-width: 1.5; stroke-linecap: square"/>
</g>
<g id="text_62">
<text style="font-size: 10px; font-family: 'DejaVu Sans', 'Liberation Sans', sans-serif; text-anchor: start" x="404.2" y="384.524" transform="rotate(-0 404.2 384.524)">Eye: 2</text>
</g>
<g id="line2d_97">
<path d="M 376.2 396.1 L 386.2 396.1 L 396.2 396.1" style="fill: none; stroke: #ff7f0e; stroke-width: 1.5; stroke-linecap: square"/>
</g>
<g id="text_63">
<text style="font-size: 10px; font-family: 'DejaVu Sans', 'Liberation Sans', sans-serif; text-anchor: start" x="404.2" y="399.604" transform="rotate(-0 404.2 399.604)">Eye: 1</text>
</g>
<g id="line2d_98">
<path d="M 376.2 411.18 L 386.2 411.18 L 396.2 411.18" style="fill: none; stroke: #2ca02c; stroke-width: 1.5; stroke-linecap: square"/>
</g>
<g id="text_64">
<text style="font-size: 10px; font-family: 'DejaVu Sans', 'Liberation Sans', sans-serif; text-anchor: start" x="404.2" y="414.684" transform="rotate(-0 404.2 414.684)">Eye: 0</text>
</g>
</g>
</g>
</g>
<defs>
<clipPath id="p56011f0dc9">
<rect x="54.72" y="18.324" width="553.968" height="236.808"/>
</clipPath>
<clipPath id="p2ff49214a9">
<rect x="639.396" y="18.324" width="11.772" height="236.808"/>
</clipPath>
<clipPath id="p06de93e62a">
<rect x="54.684" y="307.404" width="241.596" height="118.44"/>
</clipPath>
<clipPath id="pee18b4a22f">
<rect x="367.2" y="307.404" width="241.56" height="118.44"/>
</clipPath>
</defs>
</svg>

</body></html>
